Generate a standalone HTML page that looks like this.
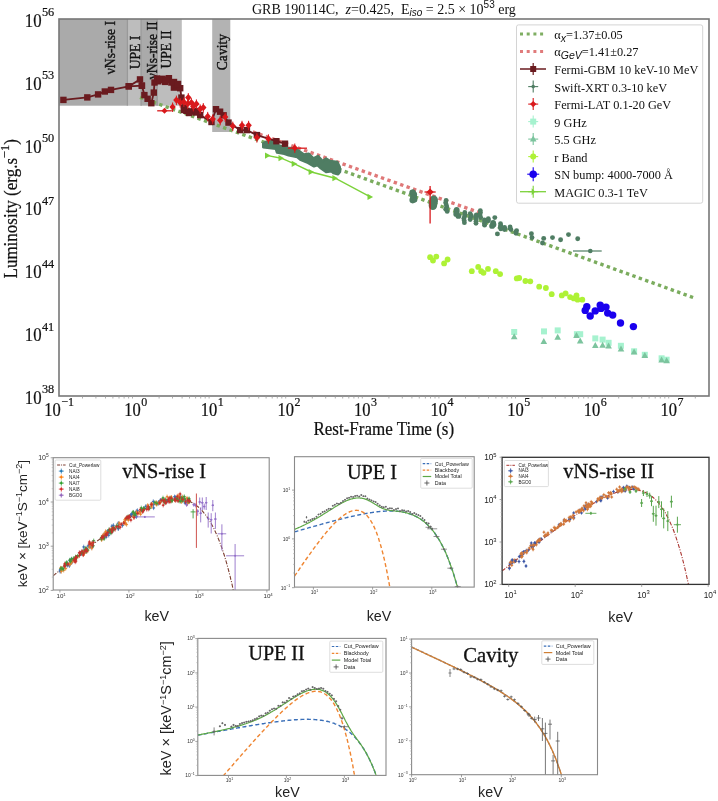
<!DOCTYPE html>
<html><head><meta charset="utf-8"><style>
html,body{margin:0;padding:0;background:#fff;}
svg{display:block;filter:blur(0.35px);}

</style></head><body>
<svg width="718" height="801" viewBox="0 0 718 801">
<defs><clipPath id="clip0"><rect x="53.2" y="457.7" width="216" height="132.3"/></clipPath><clipPath id="clip1"><rect x="294.5" y="456.7" width="179.7" height="130.4"/></clipPath><clipPath id="clip2"><rect x="502.1" y="457.3" width="206.9" height="127.1"/></clipPath><clipPath id="clip3"><rect x="197.8" y="638.4" width="188.2" height="137"/></clipPath><clipPath id="clip4"><rect x="411.6" y="639" width="185.9" height="135.7"/></clipPath></defs>
<rect width="718" height="801" fill="#fff"/>
<rect x="59" y="19" width="68.4" height="86.7" fill="#aaaaaa"/>
<rect x="127.4" y="19" width="13.7" height="86.7" fill="#bdbdbd"/>
<rect x="141.1" y="19" width="16.1" height="86.7" fill="#aaaaaa"/>
<rect x="157.2" y="19" width="24.6" height="86.7" fill="#bdbdbd"/>
<rect x="212.2" y="19" width="18.1" height="113" fill="#b3b3b3"/>
<line x1="127.4" y1="19" x2="127.4" y2="105.7" stroke="#999" stroke-width="1.3"/>
<line x1="141.1" y1="19" x2="141.1" y2="105.7" stroke="#999" stroke-width="1.3"/>
<line x1="157.2" y1="19" x2="157.2" y2="105.7" stroke="#999" stroke-width="1.3"/>
<text transform="translate(114.8 74.3) rotate(-90) scale(1 1.08)" font-family="Liberation Serif" font-size="13.6" fill="#111" stroke="#111" stroke-width="0.35">νNs-rise I</text>
<text transform="translate(139.5 69.3) rotate(-90) scale(1 1.08)" font-family="Liberation Serif" font-size="13.6" fill="#111" stroke="#111" stroke-width="0.35">UPE I</text>
<text transform="translate(157.4 79.3) rotate(-90) scale(1 1.08)" font-family="Liberation Serif" font-size="13.6" fill="#111" stroke="#111" stroke-width="0.35">νNs-rise II</text>
<text transform="translate(171.2 68.5) rotate(-90) scale(1 1.08)" font-family="Liberation Serif" font-size="13.6" fill="#111" stroke="#111" stroke-width="0.35">UPE II</text>
<text transform="translate(227.3 70.2) rotate(-90) scale(1 1.08)" font-family="Liberation Serif" font-size="13.6" fill="#111" stroke="#111" stroke-width="0.35">Cavity</text>
<line x1="140" y1="97.3" x2="695" y2="298.2" stroke="#7bac5e" stroke-width="3.4" stroke-dasharray="3.4 3.4"/>
<line x1="240" y1="127.3" x2="480" y2="212.8" stroke="#df7878" stroke-width="3.4" stroke-dasharray="3.4 3.4"/>
<polyline points="267.8,155.6 281.3,158.2 294.5,163.8 311.4,172 335.2,178.2 370.3,196.9" fill="none" stroke="#7cd23a" stroke-width="1.4"/>
<path d="M270.6 155.6 l-5.6 -3.1 v6.2z" fill="#7cd23a"/>
<path d="M284.1 158.2 l-5.6 -3.1 v6.2z" fill="#7cd23a"/>
<path d="M297.3 163.8 l-5.6 -3.1 v6.2z" fill="#7cd23a"/>
<path d="M314.2 172 l-5.6 -3.1 v6.2z" fill="#7cd23a"/>
<path d="M338 178.2 l-5.6 -3.1 v6.2z" fill="#7cd23a"/>
<path d="M373.1 196.9 l-5.6 -3.1 v6.2z" fill="#7cd23a"/>
<polygon points="263.2,143.4 266,141.8 272.1,141.2 278.2,145.2 286.2,147.6 292.3,148.3 298,150.3 304,154.4 308.7,153.7 313.4,158.4 318.1,156 322.7,161 326.1,158.4 330.1,161 337.4,162 339.8,167.1 340.1,171.7 338.1,174.4 333.4,173.1 331.4,171.4 326.1,172.1 320.1,167.7 317.4,165.1 314,166.4 308,163 300.7,160 297.2,157.1 288.6,155.3 284.3,153.8 277,152.5 275.8,148.9 263.2,147.3" fill="#4f7d63" stroke="#4f7d63" stroke-width="2.4" stroke-linejoin="round"/>
<circle cx="412.6" cy="192.8" r="3.3" fill="#4f7d63"/>
<circle cx="413.8" cy="194.6" r="3.3" fill="#4f7d63"/>
<circle cx="413.7" cy="196.4" r="3.3" fill="#4f7d63"/>
<circle cx="413.4" cy="198.3" r="3.3" fill="#4f7d63"/>
<circle cx="412.7" cy="200.1" r="3.3" fill="#4f7d63"/>
<circle cx="433.7" cy="199.8" r="4.2" fill="#4f7d63"/>
<circle cx="433.7" cy="201.8" r="4.2" fill="#4f7d63"/>
<circle cx="432.9" cy="203.8" r="4.2" fill="#4f7d63"/>
<circle cx="432.9" cy="205.8" r="4.2" fill="#4f7d63"/>
<circle cx="446.1" cy="200.5" r="2.4" fill="#4f7d63"/>
<circle cx="445.6" cy="202.7" r="2.4" fill="#4f7d63"/>
<circle cx="446.3" cy="204.9" r="2.4" fill="#4f7d63"/>
<circle cx="446.8" cy="207" r="2.4" fill="#4f7d63"/>
<circle cx="445.7" cy="209.2" r="2.4" fill="#4f7d63"/>
<circle cx="447.2" cy="211.4" r="2.4" fill="#4f7d63"/>
<circle cx="456.7" cy="209.8" r="2.9" fill="#4f7d63"/>
<circle cx="456.7" cy="211.8" r="2.9" fill="#4f7d63"/>
<circle cx="456.2" cy="213.9" r="2.9" fill="#4f7d63"/>
<circle cx="458.4" cy="215.9" r="2.9" fill="#4f7d63"/>
<circle cx="464.8" cy="212.4" r="2.4" fill="#4f7d63"/>
<circle cx="465" cy="214.5" r="2.4" fill="#4f7d63"/>
<circle cx="464.6" cy="216.5" r="2.4" fill="#4f7d63"/>
<circle cx="463.8" cy="218.6" r="2.4" fill="#4f7d63"/>
<circle cx="464.2" cy="220.6" r="2.4" fill="#4f7d63"/>
<circle cx="464.4" cy="222.7" r="2.4" fill="#4f7d63"/>
<circle cx="470.2" cy="213.7" r="2.4" fill="#4f7d63"/>
<circle cx="471.3" cy="215.7" r="2.4" fill="#4f7d63"/>
<circle cx="470.5" cy="217.6" r="2.4" fill="#4f7d63"/>
<circle cx="470.2" cy="219.6" r="2.4" fill="#4f7d63"/>
<circle cx="476.3" cy="214.9" r="2.4" fill="#4f7d63"/>
<circle cx="475.7" cy="217" r="2.4" fill="#4f7d63"/>
<circle cx="476.3" cy="219.1" r="2.4" fill="#4f7d63"/>
<circle cx="476" cy="221.2" r="2.4" fill="#4f7d63"/>
<circle cx="476" cy="223.3" r="2.4" fill="#4f7d63"/>
<circle cx="480.3" cy="210.6" r="2.4" fill="#4f7d63"/>
<circle cx="480.4" cy="212.3" r="2.4" fill="#4f7d63"/>
<circle cx="480.1" cy="214.1" r="2.4" fill="#4f7d63"/>
<circle cx="480" cy="215.8" r="2.4" fill="#4f7d63"/>
<circle cx="480.7" cy="217.6" r="2.4" fill="#4f7d63"/>
<circle cx="484.4" cy="220" r="2.4" fill="#4f7d63"/>
<circle cx="484.6" cy="221.7" r="2.4" fill="#4f7d63"/>
<circle cx="484.4" cy="223.5" r="2.4" fill="#4f7d63"/>
<circle cx="484.6" cy="225.2" r="2.4" fill="#4f7d63"/>
<circle cx="488.3" cy="218.7" r="2.4" fill="#4f7d63"/>
<circle cx="488.3" cy="219.8" r="2.4" fill="#4f7d63"/>
<circle cx="488.3" cy="220.8" r="2.4" fill="#4f7d63"/>
<circle cx="493.1" cy="222.9" r="2.9" fill="#4f7d63"/>
<circle cx="493.5" cy="224.4" r="2.9" fill="#4f7d63"/>
<circle cx="492.1" cy="225.9" r="2.9" fill="#4f7d63"/>
<circle cx="500.5" cy="223.7" r="2.4" fill="#4f7d63"/>
<circle cx="500.8" cy="225.4" r="2.4" fill="#4f7d63"/>
<circle cx="500.3" cy="227.2" r="2.4" fill="#4f7d63"/>
<circle cx="500.8" cy="228.9" r="2.4" fill="#4f7d63"/>
<circle cx="504.6" cy="227.5" r="2.4" fill="#4f7d63"/>
<circle cx="504.5" cy="228.6" r="2.4" fill="#4f7d63"/>
<circle cx="504.5" cy="229.6" r="2.4" fill="#4f7d63"/>
<circle cx="510.1" cy="226.9" r="2.4" fill="#4f7d63"/>
<circle cx="510" cy="228.2" r="2.4" fill="#4f7d63"/>
<circle cx="510.9" cy="229.6" r="2.4" fill="#4f7d63"/>
<circle cx="516.6" cy="230.6" r="2.4" fill="#4f7d63"/>
<circle cx="515.9" cy="231.9" r="2.4" fill="#4f7d63"/>
<circle cx="516" cy="233.3" r="2.4" fill="#4f7d63"/>
<circle cx="494.8" cy="217.6" r="2.45" fill="#4f7d63"/>
<circle cx="497.4" cy="233.9" r="2.45" fill="#4f7d63"/>
<circle cx="531.4" cy="233.8" r="2.45" fill="#4f7d63"/>
<circle cx="532" cy="237.6" r="2.45" fill="#4f7d63"/>
<circle cx="543.7" cy="238.4" r="2.45" fill="#4f7d63"/>
<circle cx="542.5" cy="243" r="2.45" fill="#4f7d63"/>
<circle cx="552.5" cy="237.6" r="2.45" fill="#4f7d63"/>
<circle cx="560.6" cy="239.8" r="2.45" fill="#4f7d63"/>
<circle cx="568.5" cy="234.6" r="2.45" fill="#4f7d63"/>
<circle cx="577.7" cy="238.8" r="2.45" fill="#4f7d63"/>
<circle cx="413" cy="192" r="2.45" fill="#4f7d63"/>
<circle cx="415" cy="200" r="2.45" fill="#4f7d63"/>
<line x1="573" y1="251" x2="601.7" y2="251" stroke="#4f7d63" stroke-width="1.2"/>
<circle cx="590.3" cy="251" r="2.3" fill="#4f7d63"/>
<polyline points="63.4,99.9 87.3,97.4 98.1,94.4 104.8,91.5 111,89.9 128.8,86.3 140,79.4 141.9,85.7 128.8,86.3 141.9,85.7 144.4,95.1 147.6,98.8 151.3,103.2 153.8,92.6 154.5,82.5 158.2,81.3 162.6,78.8 165.1,81.9 168.9,78.2 171.4,82.5 173.9,87.6 176.4,85.1 180.2,88.2 181.4,97.6 183.9,107.6 186.4,110.8 190.2,111.4 193.9,111.4 200.2,115.1 211.5,122 216,109.2 220.1,111.7 223.6,115.3 228.5,122.6 240.2,130.1 246.9,130.1 256.9,135.1 276.4,141.2 285,143.7" fill="none" stroke="#6a1b1f" stroke-width="1.8"/>
<rect x="60.2" y="96.7" width="6.4" height="6.4" fill="#6a1b1f"/>
<rect x="84.1" y="94.2" width="6.4" height="6.4" fill="#6a1b1f"/>
<rect x="94.9" y="91.2" width="6.4" height="6.4" fill="#6a1b1f"/>
<rect x="101.6" y="88.3" width="6.4" height="6.4" fill="#6a1b1f"/>
<rect x="107.8" y="86.7" width="6.4" height="6.4" fill="#6a1b1f"/>
<rect x="125.6" y="83.1" width="6.4" height="6.4" fill="#6a1b1f"/>
<rect x="136.8" y="76.2" width="6.4" height="6.4" fill="#6a1b1f"/>
<rect x="138.7" y="82.5" width="6.4" height="6.4" fill="#6a1b1f"/>
<rect x="125.6" y="83.1" width="6.4" height="6.4" fill="#6a1b1f"/>
<rect x="138.7" y="82.5" width="6.4" height="6.4" fill="#6a1b1f"/>
<rect x="141.2" y="91.9" width="6.4" height="6.4" fill="#6a1b1f"/>
<rect x="144.4" y="95.6" width="6.4" height="6.4" fill="#6a1b1f"/>
<rect x="148.1" y="100" width="6.4" height="6.4" fill="#6a1b1f"/>
<rect x="150.6" y="89.4" width="6.4" height="6.4" fill="#6a1b1f"/>
<rect x="151.3" y="79.3" width="6.4" height="6.4" fill="#6a1b1f"/>
<rect x="155" y="78.1" width="6.4" height="6.4" fill="#6a1b1f"/>
<rect x="159.4" y="75.6" width="6.4" height="6.4" fill="#6a1b1f"/>
<rect x="161.9" y="78.7" width="6.4" height="6.4" fill="#6a1b1f"/>
<rect x="165.7" y="75" width="6.4" height="6.4" fill="#6a1b1f"/>
<rect x="168.2" y="79.3" width="6.4" height="6.4" fill="#6a1b1f"/>
<rect x="170.7" y="84.4" width="6.4" height="6.4" fill="#6a1b1f"/>
<rect x="173.2" y="81.9" width="6.4" height="6.4" fill="#6a1b1f"/>
<rect x="177" y="85" width="6.4" height="6.4" fill="#6a1b1f"/>
<rect x="178.2" y="94.4" width="6.4" height="6.4" fill="#6a1b1f"/>
<rect x="180.7" y="104.4" width="6.4" height="6.4" fill="#6a1b1f"/>
<rect x="183.2" y="107.6" width="6.4" height="6.4" fill="#6a1b1f"/>
<rect x="187" y="108.2" width="6.4" height="6.4" fill="#6a1b1f"/>
<rect x="190.7" y="108.2" width="6.4" height="6.4" fill="#6a1b1f"/>
<rect x="197" y="111.9" width="6.4" height="6.4" fill="#6a1b1f"/>
<rect x="208.3" y="118.8" width="6.4" height="6.4" fill="#6a1b1f"/>
<rect x="212.8" y="106" width="6.4" height="6.4" fill="#6a1b1f"/>
<rect x="216.9" y="108.5" width="6.4" height="6.4" fill="#6a1b1f"/>
<rect x="220.4" y="112.1" width="6.4" height="6.4" fill="#6a1b1f"/>
<rect x="225.3" y="119.4" width="6.4" height="6.4" fill="#6a1b1f"/>
<rect x="237" y="126.9" width="6.4" height="6.4" fill="#6a1b1f"/>
<rect x="243.7" y="126.9" width="6.4" height="6.4" fill="#6a1b1f"/>
<rect x="253.7" y="131.9" width="6.4" height="6.4" fill="#6a1b1f"/>
<rect x="273.2" y="138" width="6.4" height="6.4" fill="#6a1b1f"/>
<rect x="281.8" y="140.5" width="6.4" height="6.4" fill="#6a1b1f"/>
<rect x="153.8" y="75.3" width="6.4" height="6.4" fill="#6a1b1f"/>
<rect x="156.8" y="76.8" width="6.4" height="6.4" fill="#6a1b1f"/>
<rect x="162.8" y="76.8" width="6.4" height="6.4" fill="#6a1b1f"/>
<rect x="170.8" y="78.8" width="6.4" height="6.4" fill="#6a1b1f"/>
<rect x="174.8" y="80.8" width="6.4" height="6.4" fill="#6a1b1f"/>
<rect x="180.8" y="106.8" width="6.4" height="6.4" fill="#6a1b1f"/>
<rect x="185.8" y="109.8" width="6.4" height="6.4" fill="#6a1b1f"/>
<rect x="192.8" y="109.3" width="6.4" height="6.4" fill="#6a1b1f"/>
<rect x="194.8" y="107.8" width="6.4" height="6.4" fill="#6a1b1f"/>
<line x1="157.2" y1="110.8" x2="171.8" y2="110.8" stroke="#d9191c" stroke-width="1.3"/><path d="M161.5 110.8l3 -3l3 3l-3 3z" fill="#d9191c"/>
<line x1="288" y1="148.2" x2="307" y2="148.2" stroke="#d9191c" stroke-width="1.3"/>
<line x1="172.6" y1="102.5" x2="172.6" y2="112" stroke="#d9191c" stroke-width="1"/>
<path d="M169.4 107l3.2 -3.6l3.2 3.6l-3.2 3.6z" fill="#d9191c"/>
<line x1="176.4" y1="95.6" x2="176.4" y2="105.1" stroke="#d9191c" stroke-width="1"/>
<path d="M173.2 100.1l3.2 -3.6l3.2 3.6l-3.2 3.6z" fill="#d9191c"/>
<line x1="180.2" y1="98.1" x2="180.2" y2="107.6" stroke="#d9191c" stroke-width="1"/>
<path d="M177 102.6l3.2 -3.6l3.2 3.6l-3.2 3.6z" fill="#d9191c"/>
<line x1="183.9" y1="97.5" x2="183.9" y2="107" stroke="#d9191c" stroke-width="1"/>
<path d="M180.7 102l3.2 -3.6l3.2 3.6l-3.2 3.6z" fill="#d9191c"/>
<line x1="188.3" y1="93.1" x2="188.3" y2="102.6" stroke="#d9191c" stroke-width="1"/>
<path d="M185.1 97.6l3.2 -3.6l3.2 3.6l-3.2 3.6z" fill="#d9191c"/>
<line x1="187.7" y1="99.4" x2="187.7" y2="108.9" stroke="#d9191c" stroke-width="1"/>
<path d="M184.5 103.9l3.2 -3.6l3.2 3.6l-3.2 3.6z" fill="#d9191c"/>
<line x1="191.4" y1="98.1" x2="191.4" y2="107.6" stroke="#d9191c" stroke-width="1"/>
<path d="M188.2 102.6l3.2 -3.6l3.2 3.6l-3.2 3.6z" fill="#d9191c"/>
<line x1="193.3" y1="101.9" x2="193.3" y2="111.4" stroke="#d9191c" stroke-width="1"/>
<path d="M190.1 106.4l3.2 -3.6l3.2 3.6l-3.2 3.6z" fill="#d9191c"/>
<line x1="196.4" y1="99.4" x2="196.4" y2="108.9" stroke="#d9191c" stroke-width="1"/>
<path d="M193.2 103.9l3.2 -3.6l3.2 3.6l-3.2 3.6z" fill="#d9191c"/>
<line x1="200.2" y1="104.4" x2="200.2" y2="113.9" stroke="#d9191c" stroke-width="1"/>
<path d="M197 108.9l3.2 -3.6l3.2 3.6l-3.2 3.6z" fill="#d9191c"/>
<line x1="203.3" y1="103.1" x2="203.3" y2="112.6" stroke="#d9191c" stroke-width="1"/>
<path d="M200.1 107.6l3.2 -3.6l3.2 3.6l-3.2 3.6z" fill="#d9191c"/>
<line x1="207.7" y1="111.9" x2="207.7" y2="121.4" stroke="#d9191c" stroke-width="1"/>
<path d="M204.5 116.4l3.2 -3.6l3.2 3.6l-3.2 3.6z" fill="#d9191c"/>
<line x1="212.7" y1="114.4" x2="212.7" y2="123.9" stroke="#d9191c" stroke-width="1"/>
<path d="M209.5 118.9l3.2 -3.6l3.2 3.6l-3.2 3.6z" fill="#d9191c"/>
<line x1="220.2" y1="115.8" x2="220.2" y2="125.3" stroke="#d9191c" stroke-width="1"/>
<path d="M217 120.3l3.2 -3.6l3.2 3.6l-3.2 3.6z" fill="#d9191c"/>
<line x1="225.2" y1="112.5" x2="225.2" y2="122" stroke="#d9191c" stroke-width="1"/>
<path d="M222 117l3.2 -3.6l3.2 3.6l-3.2 3.6z" fill="#d9191c"/>
<line x1="232.8" y1="121.6" x2="232.8" y2="131.1" stroke="#d9191c" stroke-width="1"/>
<path d="M229.6 126.1l3.2 -3.6l3.2 3.6l-3.2 3.6z" fill="#d9191c"/>
<line x1="242" y1="120.8" x2="242" y2="130.3" stroke="#d9191c" stroke-width="1"/>
<path d="M238.8 125.3l3.2 -3.6l3.2 3.6l-3.2 3.6z" fill="#d9191c"/>
<line x1="248.6" y1="120.8" x2="248.6" y2="130.3" stroke="#d9191c" stroke-width="1"/>
<path d="M245.4 125.3l3.2 -3.6l3.2 3.6l-3.2 3.6z" fill="#d9191c"/>
<line x1="256.9" y1="133.1" x2="256.9" y2="142.6" stroke="#d9191c" stroke-width="1"/>
<path d="M253.7 137.6l3.2 -3.6l3.2 3.6l-3.2 3.6z" fill="#d9191c"/>
<line x1="268.4" y1="134.3" x2="268.4" y2="143.8" stroke="#d9191c" stroke-width="1"/>
<path d="M265.2 138.8l3.2 -3.6l3.2 3.6l-3.2 3.6z" fill="#d9191c"/>
<line x1="294.8" y1="143.5" x2="294.8" y2="153" stroke="#d9191c" stroke-width="1"/>
<path d="M291.6 148l3.2 -3.6l3.2 3.6l-3.2 3.6z" fill="#d9191c"/>
<line x1="430.1" y1="186.1" x2="430.1" y2="223.5" stroke="#d9191c" stroke-width="1.3"/>
<line x1="424.5" y1="192" x2="435.7" y2="192" stroke="#d9191c" stroke-width="1.3"/>
<path d="M426.5 192l3.6 -3.6l3.6 3.6l-3.6 3.6z" fill="#d9191c"/>
<circle cx="430.1" cy="257.2" r="2.9" fill="#aef236"/>
<circle cx="436.3" cy="256.6" r="2.9" fill="#aef236"/>
<circle cx="433" cy="260.5" r="2.9" fill="#aef236"/>
<circle cx="444.1" cy="263.4" r="2.9" fill="#aef236"/>
<circle cx="447.6" cy="259.5" r="2.9" fill="#aef236"/>
<circle cx="471.8" cy="271.2" r="2.9" fill="#aef236"/>
<circle cx="478.2" cy="266.9" r="2.9" fill="#aef236"/>
<circle cx="481.2" cy="271.2" r="2.9" fill="#aef236"/>
<circle cx="483.5" cy="272.8" r="2.9" fill="#aef236"/>
<circle cx="488" cy="268.9" r="2.9" fill="#aef236"/>
<circle cx="495.8" cy="271.2" r="2.9" fill="#aef236"/>
<circle cx="500.1" cy="274.1" r="2.9" fill="#aef236"/>
<circle cx="516.8" cy="278.4" r="2.9" fill="#aef236"/>
<circle cx="519.2" cy="278" r="2.9" fill="#aef236"/>
<circle cx="525.4" cy="281" r="2.9" fill="#aef236"/>
<circle cx="530.3" cy="281.3" r="2.9" fill="#aef236"/>
<circle cx="539.2" cy="286.7" r="2.9" fill="#aef236"/>
<circle cx="545.9" cy="288" r="2.9" fill="#aef236"/>
<circle cx="551.7" cy="294.2" r="2.9" fill="#aef236"/>
<circle cx="561.8" cy="295.4" r="2.9" fill="#aef236"/>
<circle cx="565.6" cy="293.4" r="2.9" fill="#aef236"/>
<circle cx="570.1" cy="297.1" r="2.9" fill="#aef236"/>
<circle cx="573.8" cy="298.4" r="2.9" fill="#aef236"/>
<circle cx="576.5" cy="295.4" r="2.9" fill="#aef236"/>
<circle cx="577.6" cy="299.7" r="2.9" fill="#aef236"/>
<circle cx="582.3" cy="299.7" r="2.9" fill="#aef236"/>
<circle cx="586.8" cy="306.8" r="3.7" fill="#1a00ee"/>
<circle cx="585.2" cy="310.4" r="3.7" fill="#1a00ee"/>
<circle cx="590.2" cy="316" r="3.7" fill="#1a00ee"/>
<circle cx="595.2" cy="310.9" r="3.7" fill="#1a00ee"/>
<circle cx="600.2" cy="305.1" r="3.7" fill="#1a00ee"/>
<circle cx="601" cy="308.4" r="3.7" fill="#1a00ee"/>
<circle cx="606" cy="307.1" r="3.7" fill="#1a00ee"/>
<circle cx="607.7" cy="313.1" r="3.7" fill="#1a00ee"/>
<circle cx="612.7" cy="315.1" r="3.7" fill="#1a00ee"/>
<circle cx="620.5" cy="323" r="3.7" fill="#1a00ee"/>
<circle cx="633.4" cy="326.6" r="3.7" fill="#1a00ee"/>
<rect x="511.2" y="329" width="6" height="6" fill="#a6f2cf"/>
<rect x="541" y="328.4" width="6" height="6" fill="#a6f2cf"/>
<rect x="554.7" y="327.4" width="6" height="6" fill="#a6f2cf"/>
<rect x="573.9" y="331.2" width="6" height="6" fill="#a6f2cf"/>
<rect x="577.2" y="331.2" width="6" height="6" fill="#a6f2cf"/>
<rect x="592.3" y="335.4" width="6" height="6" fill="#a6f2cf"/>
<rect x="599.6" y="336.6" width="6" height="6" fill="#a6f2cf"/>
<rect x="605.6" y="339.8" width="6" height="6" fill="#a6f2cf"/>
<rect x="617.9" y="342.8" width="6" height="6" fill="#a6f2cf"/>
<rect x="631.1" y="348.3" width="6" height="6" fill="#a6f2cf"/>
<rect x="641.8" y="351.8" width="6" height="6" fill="#a6f2cf"/>
<rect x="658.6" y="355.3" width="6" height="6" fill="#a6f2cf"/>
<rect x="663.6" y="356.7" width="6" height="6" fill="#a6f2cf"/>
<path d="M514.2 333.2 l3.3 6h-6.6z" fill="#7cc49e"/>
<path d="M543.8 337.9 l3.3 6h-6.6z" fill="#7cc49e"/>
<path d="M557.7 333.7 l3.3 6h-6.6z" fill="#7cc49e"/>
<path d="M576.5 331.9 l3.3 6h-6.6z" fill="#7cc49e"/>
<path d="M580.2 337.4 l3.3 6h-6.6z" fill="#7cc49e"/>
<path d="M595.3 341.9 l3.3 6h-6.6z" fill="#7cc49e"/>
<path d="M602.6 341.7 l3.3 6h-6.6z" fill="#7cc49e"/>
<path d="M608.6 342.5 l3.3 6h-6.6z" fill="#7cc49e"/>
<path d="M621 345.5 l3.3 6h-6.6z" fill="#7cc49e"/>
<path d="M634.1 348.5 l3.3 6h-6.6z" fill="#7cc49e"/>
<path d="M644.8 352 l3.3 6h-6.6z" fill="#7cc49e"/>
<path d="M661.6 356.6 l3.3 6h-6.6z" fill="#7cc49e"/>
<path d="M666.6 357.2 l3.3 6h-6.6z" fill="#7cc49e"/>
<rect x="59" y="19" width="650" height="377" fill="none" stroke="#777" stroke-width="1.6"/>
<line x1="82.5" y1="396" x2="82.5" y2="398.5" stroke="#999" stroke-width="0.8"/>
<line x1="95.9" y1="396" x2="95.9" y2="398.5" stroke="#999" stroke-width="0.8"/>
<line x1="105.5" y1="396" x2="105.5" y2="398.5" stroke="#999" stroke-width="0.8"/>
<line x1="112.9" y1="396" x2="112.9" y2="398.5" stroke="#999" stroke-width="0.8"/>
<line x1="119" y1="396" x2="119" y2="398.5" stroke="#999" stroke-width="0.8"/>
<line x1="124.1" y1="396" x2="124.1" y2="398.5" stroke="#999" stroke-width="0.8"/>
<line x1="128.6" y1="396" x2="128.6" y2="398.5" stroke="#999" stroke-width="0.8"/>
<line x1="132.5" y1="396" x2="132.5" y2="398.5" stroke="#999" stroke-width="0.8"/>
<line x1="159.1" y1="396" x2="159.1" y2="398.5" stroke="#999" stroke-width="0.8"/>
<line x1="172.5" y1="396" x2="172.5" y2="398.5" stroke="#999" stroke-width="0.8"/>
<line x1="182.1" y1="396" x2="182.1" y2="398.5" stroke="#999" stroke-width="0.8"/>
<line x1="189.5" y1="396" x2="189.5" y2="398.5" stroke="#999" stroke-width="0.8"/>
<line x1="195.6" y1="396" x2="195.6" y2="398.5" stroke="#999" stroke-width="0.8"/>
<line x1="200.7" y1="396" x2="200.7" y2="398.5" stroke="#999" stroke-width="0.8"/>
<line x1="205.2" y1="396" x2="205.2" y2="398.5" stroke="#999" stroke-width="0.8"/>
<line x1="209.1" y1="396" x2="209.1" y2="398.5" stroke="#999" stroke-width="0.8"/>
<line x1="235.7" y1="396" x2="235.7" y2="398.5" stroke="#999" stroke-width="0.8"/>
<line x1="249.1" y1="396" x2="249.1" y2="398.5" stroke="#999" stroke-width="0.8"/>
<line x1="258.7" y1="396" x2="258.7" y2="398.5" stroke="#999" stroke-width="0.8"/>
<line x1="266.1" y1="396" x2="266.1" y2="398.5" stroke="#999" stroke-width="0.8"/>
<line x1="272.2" y1="396" x2="272.2" y2="398.5" stroke="#999" stroke-width="0.8"/>
<line x1="277.3" y1="396" x2="277.3" y2="398.5" stroke="#999" stroke-width="0.8"/>
<line x1="281.8" y1="396" x2="281.8" y2="398.5" stroke="#999" stroke-width="0.8"/>
<line x1="285.7" y1="396" x2="285.7" y2="398.5" stroke="#999" stroke-width="0.8"/>
<line x1="312.3" y1="396" x2="312.3" y2="398.5" stroke="#999" stroke-width="0.8"/>
<line x1="325.7" y1="396" x2="325.7" y2="398.5" stroke="#999" stroke-width="0.8"/>
<line x1="335.3" y1="396" x2="335.3" y2="398.5" stroke="#999" stroke-width="0.8"/>
<line x1="342.7" y1="396" x2="342.7" y2="398.5" stroke="#999" stroke-width="0.8"/>
<line x1="348.8" y1="396" x2="348.8" y2="398.5" stroke="#999" stroke-width="0.8"/>
<line x1="353.9" y1="396" x2="353.9" y2="398.5" stroke="#999" stroke-width="0.8"/>
<line x1="358.4" y1="396" x2="358.4" y2="398.5" stroke="#999" stroke-width="0.8"/>
<line x1="362.3" y1="396" x2="362.3" y2="398.5" stroke="#999" stroke-width="0.8"/>
<line x1="388.9" y1="396" x2="388.9" y2="398.5" stroke="#999" stroke-width="0.8"/>
<line x1="402.3" y1="396" x2="402.3" y2="398.5" stroke="#999" stroke-width="0.8"/>
<line x1="411.9" y1="396" x2="411.9" y2="398.5" stroke="#999" stroke-width="0.8"/>
<line x1="419.3" y1="396" x2="419.3" y2="398.5" stroke="#999" stroke-width="0.8"/>
<line x1="425.4" y1="396" x2="425.4" y2="398.5" stroke="#999" stroke-width="0.8"/>
<line x1="430.5" y1="396" x2="430.5" y2="398.5" stroke="#999" stroke-width="0.8"/>
<line x1="435" y1="396" x2="435" y2="398.5" stroke="#999" stroke-width="0.8"/>
<line x1="438.9" y1="396" x2="438.9" y2="398.5" stroke="#999" stroke-width="0.8"/>
<line x1="465.5" y1="396" x2="465.5" y2="398.5" stroke="#999" stroke-width="0.8"/>
<line x1="478.9" y1="396" x2="478.9" y2="398.5" stroke="#999" stroke-width="0.8"/>
<line x1="488.5" y1="396" x2="488.5" y2="398.5" stroke="#999" stroke-width="0.8"/>
<line x1="495.9" y1="396" x2="495.9" y2="398.5" stroke="#999" stroke-width="0.8"/>
<line x1="502" y1="396" x2="502" y2="398.5" stroke="#999" stroke-width="0.8"/>
<line x1="507.1" y1="396" x2="507.1" y2="398.5" stroke="#999" stroke-width="0.8"/>
<line x1="511.6" y1="396" x2="511.6" y2="398.5" stroke="#999" stroke-width="0.8"/>
<line x1="515.5" y1="396" x2="515.5" y2="398.5" stroke="#999" stroke-width="0.8"/>
<line x1="542.1" y1="396" x2="542.1" y2="398.5" stroke="#999" stroke-width="0.8"/>
<line x1="555.5" y1="396" x2="555.5" y2="398.5" stroke="#999" stroke-width="0.8"/>
<line x1="565.1" y1="396" x2="565.1" y2="398.5" stroke="#999" stroke-width="0.8"/>
<line x1="572.5" y1="396" x2="572.5" y2="398.5" stroke="#999" stroke-width="0.8"/>
<line x1="578.6" y1="396" x2="578.6" y2="398.5" stroke="#999" stroke-width="0.8"/>
<line x1="583.7" y1="396" x2="583.7" y2="398.5" stroke="#999" stroke-width="0.8"/>
<line x1="588.2" y1="396" x2="588.2" y2="398.5" stroke="#999" stroke-width="0.8"/>
<line x1="592.1" y1="396" x2="592.1" y2="398.5" stroke="#999" stroke-width="0.8"/>
<line x1="618.7" y1="396" x2="618.7" y2="398.5" stroke="#999" stroke-width="0.8"/>
<line x1="632.1" y1="396" x2="632.1" y2="398.5" stroke="#999" stroke-width="0.8"/>
<line x1="641.7" y1="396" x2="641.7" y2="398.5" stroke="#999" stroke-width="0.8"/>
<line x1="649.1" y1="396" x2="649.1" y2="398.5" stroke="#999" stroke-width="0.8"/>
<line x1="655.2" y1="396" x2="655.2" y2="398.5" stroke="#999" stroke-width="0.8"/>
<line x1="660.3" y1="396" x2="660.3" y2="398.5" stroke="#999" stroke-width="0.8"/>
<line x1="664.8" y1="396" x2="664.8" y2="398.5" stroke="#999" stroke-width="0.8"/>
<line x1="668.7" y1="396" x2="668.7" y2="398.5" stroke="#999" stroke-width="0.8"/>
<line x1="695.3" y1="396" x2="695.3" y2="398.5" stroke="#999" stroke-width="0.8"/>
<text transform="translate(44.2 416.2) scale(1 1.08)" font-family="Liberation Serif" font-size="16.5" fill="#111" stroke="#111" stroke-width="0.2">10</text>
<text transform="translate(61.2 405.6) scale(1 1.08)" font-family="Liberation Serif" font-size="12" fill="#111" stroke="#111" stroke-width="0.2">−1</text>
<text transform="translate(124.2 416.2) scale(1 1.08)" font-family="Liberation Serif" font-size="16.5" fill="#111" stroke="#111" stroke-width="0.2">10</text>
<text transform="translate(141.2 405.6) scale(1 1.08)" font-family="Liberation Serif" font-size="12" fill="#111" stroke="#111" stroke-width="0.2">0</text>
<text transform="translate(200.8 416.2) scale(1 1.08)" font-family="Liberation Serif" font-size="16.5" fill="#111" stroke="#111" stroke-width="0.2">10</text>
<text transform="translate(217.8 405.6) scale(1 1.08)" font-family="Liberation Serif" font-size="12" fill="#111" stroke="#111" stroke-width="0.2">1</text>
<text transform="translate(277.4 416.2) scale(1 1.08)" font-family="Liberation Serif" font-size="16.5" fill="#111" stroke="#111" stroke-width="0.2">10</text>
<text transform="translate(294.4 405.6) scale(1 1.08)" font-family="Liberation Serif" font-size="12" fill="#111" stroke="#111" stroke-width="0.2">2</text>
<text transform="translate(354 416.2) scale(1 1.08)" font-family="Liberation Serif" font-size="16.5" fill="#111" stroke="#111" stroke-width="0.2">10</text>
<text transform="translate(371 405.6) scale(1 1.08)" font-family="Liberation Serif" font-size="12" fill="#111" stroke="#111" stroke-width="0.2">3</text>
<text transform="translate(430.6 416.2) scale(1 1.08)" font-family="Liberation Serif" font-size="16.5" fill="#111" stroke="#111" stroke-width="0.2">10</text>
<text transform="translate(447.6 405.6) scale(1 1.08)" font-family="Liberation Serif" font-size="12" fill="#111" stroke="#111" stroke-width="0.2">4</text>
<text transform="translate(507.2 416.2) scale(1 1.08)" font-family="Liberation Serif" font-size="16.5" fill="#111" stroke="#111" stroke-width="0.2">10</text>
<text transform="translate(524.2 405.6) scale(1 1.08)" font-family="Liberation Serif" font-size="12" fill="#111" stroke="#111" stroke-width="0.2">5</text>
<text transform="translate(583.8 416.2) scale(1 1.08)" font-family="Liberation Serif" font-size="16.5" fill="#111" stroke="#111" stroke-width="0.2">10</text>
<text transform="translate(600.8 405.6) scale(1 1.08)" font-family="Liberation Serif" font-size="12" fill="#111" stroke="#111" stroke-width="0.2">6</text>
<text transform="translate(660.4 416.2) scale(1 1.08)" font-family="Liberation Serif" font-size="16.5" fill="#111" stroke="#111" stroke-width="0.2">10</text>
<text transform="translate(677.4 405.6) scale(1 1.08)" font-family="Liberation Serif" font-size="12" fill="#111" stroke="#111" stroke-width="0.2">7</text>
<text transform="translate(41.6 26.8) scale(1 1.08)" font-family="Liberation Serif" font-size="16.8" fill="#111" text-anchor="end" stroke="#111" stroke-width="0.2">10</text>
<text transform="translate(41.9 16.3) scale(1 1.08)" font-family="Liberation Serif" font-size="12.3" fill="#111" stroke="#111" stroke-width="0.2">56</text>
<text transform="translate(41.6 89.7) scale(1 1.08)" font-family="Liberation Serif" font-size="16.8" fill="#111" text-anchor="end" stroke="#111" stroke-width="0.2">10</text>
<text transform="translate(41.9 79.2) scale(1 1.08)" font-family="Liberation Serif" font-size="12.3" fill="#111" stroke="#111" stroke-width="0.2">53</text>
<text transform="translate(41.6 152.5) scale(1 1.08)" font-family="Liberation Serif" font-size="16.8" fill="#111" text-anchor="end" stroke="#111" stroke-width="0.2">10</text>
<text transform="translate(41.9 142) scale(1 1.08)" font-family="Liberation Serif" font-size="12.3" fill="#111" stroke="#111" stroke-width="0.2">50</text>
<text transform="translate(41.6 215.4) scale(1 1.08)" font-family="Liberation Serif" font-size="16.8" fill="#111" text-anchor="end" stroke="#111" stroke-width="0.2">10</text>
<text transform="translate(41.9 204.9) scale(1 1.08)" font-family="Liberation Serif" font-size="12.3" fill="#111" stroke="#111" stroke-width="0.2">47</text>
<text transform="translate(41.6 278.2) scale(1 1.08)" font-family="Liberation Serif" font-size="16.8" fill="#111" text-anchor="end" stroke="#111" stroke-width="0.2">10</text>
<text transform="translate(41.9 267.7) scale(1 1.08)" font-family="Liberation Serif" font-size="12.3" fill="#111" stroke="#111" stroke-width="0.2">44</text>
<text transform="translate(41.6 341) scale(1 1.08)" font-family="Liberation Serif" font-size="16.8" fill="#111" text-anchor="end" stroke="#111" stroke-width="0.2">10</text>
<text transform="translate(41.9 330.5) scale(1 1.08)" font-family="Liberation Serif" font-size="12.3" fill="#111" stroke="#111" stroke-width="0.2">41</text>
<text transform="translate(41.6 403.9) scale(1 1.08)" font-family="Liberation Serif" font-size="16.8" fill="#111" text-anchor="end" stroke="#111" stroke-width="0.2">10</text>
<text transform="translate(41.9 393.4) scale(1 1.08)" font-family="Liberation Serif" font-size="12.3" fill="#111" stroke="#111" stroke-width="0.2">38</text>
<text transform="translate(313.4 434.5) scale(1 1.08)" font-family="Liberation Serif" font-size="17" fill="#111" stroke="#111" stroke-width="0.2">Rest-Frame Time (s)</text>
<text transform="translate(17.3 278.5) rotate(-90) scale(1 1.08)" font-family="Liberation Serif" font-size="17" fill="#111" stroke="#111" stroke-width="0.2">Luminosity (erg.s<tspan font-size="12.5" dy="-7.5">−1</tspan><tspan dy="7.5">)</tspan></text>
<text x="252" y="14" font-family="Liberation Serif" font-size="14" fill="#111">GRB 190114C,&#160; <tspan font-style="italic">z</tspan>=0.425,&#160; E<tspan font-family="Liberation Sans" font-style="italic" font-size="10" dy="2">iso</tspan><tspan dy="-2"> = 2.5 × 10</tspan><tspan font-family="Liberation Sans" font-size="10" dy="-6">53</tspan><tspan dy="6"> erg</tspan></text>
<rect x="516.5" y="24.9" width="186.2" height="178.3" rx="2" fill="#fff" fill-opacity="0.8" stroke="#d4d4d4" stroke-width="1"/>
<text x="554.3" y="38.9" font-family="Liberation Serif" font-size="12.3" fill="#111">α<tspan font-family="Liberation Sans" font-style="italic" font-size="10.5" dy="3">x</tspan><tspan dy="-3">=1.37±0.05</tspan></text>
<text x="554.3" y="56.4" font-family="Liberation Serif" font-size="12.3" fill="#111">α<tspan font-family="Liberation Sans" font-style="italic" font-size="10.5" dy="3">GeV</tspan><tspan dy="-3">=1.41±0.27</tspan></text>
<text x="554.3" y="73.9" font-family="Liberation Serif" font-size="12.3" fill="#111">Fermi-GBM 10 keV-10 MeV</text>
<text x="554.3" y="91.5" font-family="Liberation Serif" font-size="12.3" fill="#111">Swift-XRT 0.3-10 keV</text>
<text x="554.3" y="109" font-family="Liberation Serif" font-size="12.3" fill="#111">Fermi-LAT 0.1-20 GeV</text>
<text x="554.3" y="126.5" font-family="Liberation Serif" font-size="12.3" fill="#111">9 GHz</text>
<text x="554.3" y="144" font-family="Liberation Serif" font-size="12.3" fill="#111">5.5 GHz</text>
<text x="554.3" y="161.5" font-family="Liberation Serif" font-size="12.3" fill="#111">r Band</text>
<text x="554.3" y="179.1" font-family="Liberation Serif" font-size="12.3" fill="#111">SN bump: 4000-7000 Å</text>
<text x="554.3" y="196.6" font-family="Liberation Serif" font-size="12.3" fill="#111">MAGIC 0.3-1 TeV</text>
<line x1="520" y1="34" x2="546" y2="34" stroke="#7fae62" stroke-width="3" stroke-dasharray="3 3.7"/>
<line x1="520" y1="51.5" x2="546" y2="51.5" stroke="#e07b7b" stroke-width="3" stroke-dasharray="3 3.7"/>
<line x1="520" y1="69" x2="546" y2="69" stroke="#6a1b1f" stroke-width="1.5"/><line x1="533.2" y1="63" x2="533.2" y2="75" stroke="#6a1b1f" stroke-width="1.2"/><rect x="530.2" y="66" width="6" height="6" fill="#6a1b1f"/>
<line x1="528.2" y1="86.6" x2="538.2" y2="86.6" stroke="#4f7d63" stroke-width="1.1"/><line x1="533.2" y1="80.6" x2="533.2" y2="92.6" stroke="#4f7d63" stroke-width="1.1"/><circle cx="533.2" cy="86.6" r="1.8" fill="#4f7d63"/>
<line x1="528.2" y1="104.1" x2="538.2" y2="104.1" stroke="#d9191c" stroke-width="1.1"/><line x1="533.2" y1="98.1" x2="533.2" y2="110.1" stroke="#d9191c" stroke-width="1.1"/><path d="M530 104.1l3.2 -3.2l3.2 3.2l-3.2 3.2z" fill="#d9191c"/>
<line x1="528.2" y1="121.6" x2="538.2" y2="121.6" stroke="#a6f2cf" stroke-width="1.1"/><line x1="533.2" y1="115.6" x2="533.2" y2="127.6" stroke="#a6f2cf" stroke-width="1.1"/><rect x="530.2" y="118.6" width="6" height="6" fill="#a6f2cf"/>
<line x1="528.2" y1="139.1" x2="538.2" y2="139.1" stroke="#7cc49e" stroke-width="1.1"/><line x1="533.2" y1="133.1" x2="533.2" y2="145.1" stroke="#7cc49e" stroke-width="1.1"/><path d="M533.2 135.6 l3.3 6h-6.6z" fill="#7cc49e"/>
<line x1="528.2" y1="156.6" x2="538.2" y2="156.6" stroke="#aef236" stroke-width="1.1"/><line x1="533.2" y1="150.6" x2="533.2" y2="162.6" stroke="#aef236" stroke-width="1.1"/><circle cx="533.2" cy="156.6" r="3" fill="#aef236"/>
<line x1="527.2" y1="174.2" x2="539.2" y2="174.2" stroke="#1a00ee" stroke-width="1.1"/><line x1="533.2" y1="167.2" x2="533.2" y2="181.2" stroke="#1a00ee" stroke-width="1.1"/><circle cx="533.2" cy="174.2" r="3.8" fill="#1a00ee"/>
<line x1="520" y1="191.7" x2="546" y2="191.7" stroke="#7cd23a" stroke-width="1.3"/><line x1="528.2" y1="191.7" x2="538.2" y2="191.7" stroke="#7cd23a" stroke-width="1.1"/><line x1="533.2" y1="185.7" x2="533.2" y2="197.7" stroke="#7cd23a" stroke-width="1.1"/><path d="M535.2 191.7 l-3.5 -3.5 v7z" fill="#7cd23a"/>
<polyline clip-path="url(#clip0)" points="53.2,575.7 54,575.1 54.9,574.4 55.7,573.7 56.5,573.1 57.4,572.4 58.2,571.7 59,571 59.9,570.4 60.7,569.7 61.5,569 62.4,568.4 63.2,567.7 64,567 64.9,566.4 65.7,565.7 66.5,565 67.4,564.4 68.2,563.7 69,563 69.9,562.4 70.7,561.7 71.5,561 72.4,560.4 73.2,559.7 74,559.1 74.9,558.4 75.7,557.7 76.6,557.1 77.4,556.4 78.2,555.8 79.1,555.1 79.9,554.5 80.7,553.8 81.6,553.1 82.4,552.5 83.2,551.8 84.1,551.2 84.9,550.5 85.7,549.9 86.6,549.2 87.4,548.6 88.2,547.9 89.1,547.3 89.9,546.6 90.7,546 91.6,545.4 92.4,544.7 93.2,544.1 94.1,543.4 94.9,542.8 95.7,542.2 96.6,541.5 97.4,540.9 98.2,540.3 99.1,539.6 99.9,539 100.7,538.4 101.6,537.7 102.4,537.1 103.2,536.5 104.1,535.9 104.9,535.2 105.7,534.6 106.6,534 107.4,533.4 108.2,532.8 109.1,532.2 109.9,531.5 110.7,530.9 111.6,530.3 112.4,529.7 113.2,529.1 114.1,528.5 114.9,527.9 115.7,527.3 116.6,526.7 117.4,526.1 118.3,525.6 119.1,525 119.9,524.4 120.8,523.8 121.6,523.2 122.4,522.7 123.3,522.1 124.1,521.5 124.9,521 125.8,520.4 126.6,519.9 127.4,519.3 128.3,518.7 129.1,518.2 129.9,517.7 130.8,517.1 131.6,516.6 132.4,516.1 133.3,515.5 134.1,515 134.9,514.5 135.8,514 136.6,513.5 137.4,513 138.3,512.5 139.1,512 139.9,511.5 140.8,511 141.6,510.6 142.4,510.1 143.3,509.6 144.1,509.2 144.9,508.7 145.8,508.3 146.6,507.8 147.4,507.4 148.3,507 149.1,506.6 149.9,506.2 150.8,505.8 151.6,505.4 152.4,505 153.3,504.6 154.1,504.3 154.9,503.9 155.8,503.5 156.6,503.2 157.4,502.9 158.3,502.6 159.1,502.3 159.9,502 160.8,501.7 161.6,501.4 162.5,501.1 163.3,500.9 164.1,500.6 165,500.4 165.8,500.2 166.6,500 167.5,499.8 168.3,499.6 169.1,499.5 170,499.3 170.8,499.2 171.6,499.1 172.5,499 173.3,498.9 174.1,498.8 175,498.8 175.8,498.8 176.6,498.7 177.5,498.8 178.3,498.8 179.1,498.8 180,498.9 180.8,499 181.6,499.1 182.5,499.2 183.3,499.4 184.1,499.6 185,499.8 185.8,500 186.6,500.3 187.5,500.5 188.3,500.9 189.1,501.2 190,501.6 190.8,501.9 191.6,502.4 192.5,502.8 193.3,503.3 194.1,503.8 195,504.4 195.8,505 196.6,505.6 197.5,506.3 198.3,507 199.1,507.7 200,508.5 200.8,509.3 201.6,510.2 202.5,511.1 203.3,512.1 204.1,513.1 205,514.1 205.8,515.2 206.7,516.4 207.5,517.6 208.3,518.8 209.2,520.1 210,521.5 210.8,522.9 211.7,524.4 212.5,525.9 213.3,527.5 214.2,529.2 215,530.9 215.8,532.7 216.7,534.6 217.5,536.5 218.3,538.6 219.2,540.7 220,542.8 220.8,545.1 221.7,547.4 222.5,549.8 223.3,552.4 224.2,555 225,557.6 225.8,560.4 226.7,563.3 227.5,566.3 228.3,569.4 229.2,572.6 230,575.9 230.8,579.3 231.7,582.8 232.5,586.5 233.3,590.3 234.2,594.2 235,598.2 235.8,602.4 236.7,606.7 237.5,611.1 238.3,615.7 239.2,620.4 240,625.3 240.8,630" fill="none" stroke="#7a3b2e" stroke-width="1.1" stroke-dasharray="4 1.5 1 1.5"/>
<path d="M81 551.6v4.4M79.5 553.8h3" stroke="#3d6fb0" stroke-width="0.7"/>
<circle cx="81" cy="553.8" r="1.0" fill="#3d6fb0"/>
<path d="M91.8 545.2v4.4M90.3 547.4h3" stroke="#3d6fb0" stroke-width="0.7"/>
<circle cx="91.8" cy="547.4" r="1.0" fill="#3d6fb0"/>
<path d="M60.3 567.5v4.4M58.8 569.7h3" stroke="#3d6fb0" stroke-width="0.7"/>
<circle cx="60.3" cy="569.7" r="1.0" fill="#3d6fb0"/>
<path d="M80.8 551.5v4.4M79.3 553.7h3" stroke="#3d6fb0" stroke-width="0.7"/>
<circle cx="80.8" cy="553.7" r="1.0" fill="#3d6fb0"/>
<path d="M69.7 558.2v4.4M68.2 560.4h3" stroke="#3d6fb0" stroke-width="0.7"/>
<circle cx="69.7" cy="560.4" r="1.0" fill="#3d6fb0"/>
<path d="M90.1 544.8v4.4M88.6 547h3" stroke="#3d6fb0" stroke-width="0.7"/>
<circle cx="90.1" cy="547" r="1.0" fill="#3d6fb0"/>
<path d="M60 568.8v4.4M58.5 571h3" stroke="#3d6fb0" stroke-width="0.7"/>
<circle cx="60" cy="571" r="1.0" fill="#3d6fb0"/>
<path d="M83.7 544.7v4.4M82.2 546.9h3" stroke="#3d6fb0" stroke-width="0.7"/>
<circle cx="83.7" cy="546.9" r="1.0" fill="#3d6fb0"/>
<path d="M72.3 558.5v4.4M70.8 560.7h3" stroke="#3d6fb0" stroke-width="0.7"/>
<circle cx="72.3" cy="560.7" r="1.0" fill="#3d6fb0"/>
<path d="M91.3 541.8v4.4M89.8 544h3" stroke="#3d6fb0" stroke-width="0.7"/>
<circle cx="91.3" cy="544" r="1.0" fill="#3d6fb0"/>
<path d="M86.9 546.5v4.4M85.4 548.7h3" stroke="#3d6fb0" stroke-width="0.7"/>
<circle cx="86.9" cy="548.7" r="1.0" fill="#3d6fb0"/>
<path d="M71.4 557v4.4M69.9 559.2h3" stroke="#3d6fb0" stroke-width="0.7"/>
<circle cx="71.4" cy="559.2" r="1.0" fill="#3d6fb0"/>
<path d="M83.2 548.6v4.4M81.7 550.8h3" stroke="#3d6fb0" stroke-width="0.7"/>
<circle cx="83.2" cy="550.8" r="1.0" fill="#3d6fb0"/>
<path d="M80 551.3v4.4M78.5 553.5h3" stroke="#3d6fb0" stroke-width="0.7"/>
<circle cx="80" cy="553.5" r="1.0" fill="#3d6fb0"/>
<path d="M88.2 543.8v4.4M86.7 546h3" stroke="#3d6fb0" stroke-width="0.7"/>
<circle cx="88.2" cy="546" r="1.0" fill="#3d6fb0"/>
<path d="M64.9 563.3v4.4M63.4 565.5h3" stroke="#3d6fb0" stroke-width="0.7"/>
<circle cx="64.9" cy="565.5" r="1.0" fill="#3d6fb0"/>
<path d="M76.4 555.3v4.4M74.9 557.5h3" stroke="#3d6fb0" stroke-width="0.7"/>
<circle cx="76.4" cy="557.5" r="1.0" fill="#3d6fb0"/>
<path d="M92.4 544v4.4M90.9 546.2h3" stroke="#3d6fb0" stroke-width="0.7"/>
<circle cx="92.4" cy="546.2" r="1.0" fill="#3d6fb0"/>
<path d="M72.1 557.7v4.4M70.6 559.9h3" stroke="#3d6fb0" stroke-width="0.7"/>
<circle cx="72.1" cy="559.9" r="1.0" fill="#3d6fb0"/>
<path d="M69.4 563.6v4.4M67.9 565.8h3" stroke="#3d6fb0" stroke-width="0.7"/>
<circle cx="69.4" cy="565.8" r="1.0" fill="#3d6fb0"/>
<path d="M60.3 569.1v4.4M58.8 571.3h3" stroke="#3d6fb0" stroke-width="0.7"/>
<circle cx="60.3" cy="571.3" r="1.0" fill="#3d6fb0"/>
<path d="M71.7 560.5v4.4M70.2 562.7h3" stroke="#3d6fb0" stroke-width="0.7"/>
<circle cx="71.7" cy="562.7" r="1.0" fill="#3d6fb0"/>
<path d="M92.9 540.1v4.4M91.4 542.3h3" stroke="#3d6fb0" stroke-width="0.7"/>
<circle cx="92.9" cy="542.3" r="1.0" fill="#3d6fb0"/>
<path d="M83.3 550.1v4.4M81.8 552.3h3" stroke="#3d6fb0" stroke-width="0.7"/>
<circle cx="83.3" cy="552.3" r="1.0" fill="#3d6fb0"/>
<path d="M81 551v4.4M79.5 553.2h3" stroke="#3d6fb0" stroke-width="0.7"/>
<circle cx="81" cy="553.2" r="1.0" fill="#3d6fb0"/>
<path d="M67.3 563.2v4.4M65.8 565.4h3" stroke="#3d6fb0" stroke-width="0.7"/>
<circle cx="67.3" cy="565.4" r="1.0" fill="#3d6fb0"/>
<path d="M70.6 559.1v4.4M69.1 561.3h3" stroke="#3d6fb0" stroke-width="0.7"/>
<circle cx="70.6" cy="561.3" r="1.0" fill="#3d6fb0"/>
<path d="M67.9 561.7v4.4M66.4 563.9h3" stroke="#3d6fb0" stroke-width="0.7"/>
<circle cx="67.9" cy="563.9" r="1.0" fill="#3d6fb0"/>
<path d="M91.8 546.1v4.4M90.3 548.3h3" stroke="#e8832e" stroke-width="0.7"/>
<circle cx="91.8" cy="548.3" r="1.0" fill="#e8832e"/>
<path d="M63.7 568.1v4.4M62.2 570.3h3" stroke="#e8832e" stroke-width="0.7"/>
<circle cx="63.7" cy="570.3" r="1.0" fill="#e8832e"/>
<path d="M90.9 542.3v4.4M89.4 544.5h3" stroke="#e8832e" stroke-width="0.7"/>
<circle cx="90.9" cy="544.5" r="1.0" fill="#e8832e"/>
<path d="M89.4 544.8v4.4M87.9 547h3" stroke="#e8832e" stroke-width="0.7"/>
<circle cx="89.4" cy="547" r="1.0" fill="#e8832e"/>
<path d="M82.8 550.5v4.4M81.3 552.7h3" stroke="#e8832e" stroke-width="0.7"/>
<circle cx="82.8" cy="552.7" r="1.0" fill="#e8832e"/>
<path d="M65.5 562.1v4.4M64 564.3h3" stroke="#e8832e" stroke-width="0.7"/>
<circle cx="65.5" cy="564.3" r="1.0" fill="#e8832e"/>
<path d="M70.4 561.2v4.4M68.9 563.4h3" stroke="#e8832e" stroke-width="0.7"/>
<circle cx="70.4" cy="563.4" r="1.0" fill="#e8832e"/>
<path d="M60.7 565.8v4.4M59.2 568h3" stroke="#e8832e" stroke-width="0.7"/>
<circle cx="60.7" cy="568" r="1.0" fill="#e8832e"/>
<path d="M61.5 567v4.4M60 569.2h3" stroke="#e8832e" stroke-width="0.7"/>
<circle cx="61.5" cy="569.2" r="1.0" fill="#e8832e"/>
<path d="M71.9 559.2v4.4M70.4 561.4h3" stroke="#e8832e" stroke-width="0.7"/>
<circle cx="71.9" cy="561.4" r="1.0" fill="#e8832e"/>
<path d="M91.9 543.3v4.4M90.4 545.5h3" stroke="#e8832e" stroke-width="0.7"/>
<circle cx="91.9" cy="545.5" r="1.0" fill="#e8832e"/>
<path d="M70.5 560.7v4.4M69 562.9h3" stroke="#e8832e" stroke-width="0.7"/>
<circle cx="70.5" cy="562.9" r="1.0" fill="#e8832e"/>
<path d="M61.5 566.9v4.4M60 569.1h3" stroke="#e8832e" stroke-width="0.7"/>
<circle cx="61.5" cy="569.1" r="1.0" fill="#e8832e"/>
<path d="M74.2 558.5v4.4M72.7 560.7h3" stroke="#e8832e" stroke-width="0.7"/>
<circle cx="74.2" cy="560.7" r="1.0" fill="#e8832e"/>
<path d="M92 540.7v4.4M90.5 542.9h3" stroke="#e8832e" stroke-width="0.7"/>
<circle cx="92" cy="542.9" r="1.0" fill="#e8832e"/>
<path d="M75.2 557.2v4.4M73.7 559.4h3" stroke="#e8832e" stroke-width="0.7"/>
<circle cx="75.2" cy="559.4" r="1.0" fill="#e8832e"/>
<path d="M69.7 562.3v4.4M68.2 564.5h3" stroke="#e8832e" stroke-width="0.7"/>
<circle cx="69.7" cy="564.5" r="1.0" fill="#e8832e"/>
<path d="M71.3 560.5v4.4M69.8 562.7h3" stroke="#e8832e" stroke-width="0.7"/>
<circle cx="71.3" cy="562.7" r="1.0" fill="#e8832e"/>
<path d="M83.4 552.5v4.4M81.9 554.7h3" stroke="#e8832e" stroke-width="0.7"/>
<circle cx="83.4" cy="554.7" r="1.0" fill="#e8832e"/>
<path d="M83.3 549.3v4.4M81.8 551.5h3" stroke="#e8832e" stroke-width="0.7"/>
<circle cx="83.3" cy="551.5" r="1.0" fill="#e8832e"/>
<path d="M82.6 550.5v4.4M81.1 552.7h3" stroke="#e8832e" stroke-width="0.7"/>
<circle cx="82.6" cy="552.7" r="1.0" fill="#e8832e"/>
<path d="M87.9 548.3v4.4M86.4 550.5h3" stroke="#e8832e" stroke-width="0.7"/>
<circle cx="87.9" cy="550.5" r="1.0" fill="#e8832e"/>
<path d="M77.8 554.5v4.4M76.3 556.7h3" stroke="#e8832e" stroke-width="0.7"/>
<circle cx="77.8" cy="556.7" r="1.0" fill="#e8832e"/>
<path d="M65.7 566.3v4.4M64.2 568.5h3" stroke="#e8832e" stroke-width="0.7"/>
<circle cx="65.7" cy="568.5" r="1.0" fill="#e8832e"/>
<path d="M84.3 551.3v4.4M82.8 553.5h3" stroke="#e8832e" stroke-width="0.7"/>
<circle cx="84.3" cy="553.5" r="1.0" fill="#e8832e"/>
<path d="M61.3 569.3v4.4M59.8 571.5h3" stroke="#e8832e" stroke-width="0.7"/>
<circle cx="61.3" cy="571.5" r="1.0" fill="#e8832e"/>
<path d="M61.1 566.1v4.4M59.6 568.3h3" stroke="#e8832e" stroke-width="0.7"/>
<circle cx="61.1" cy="568.3" r="1.0" fill="#e8832e"/>
<path d="M73.6 557.3v4.4M72.1 559.5h3" stroke="#e8832e" stroke-width="0.7"/>
<circle cx="73.6" cy="559.5" r="1.0" fill="#e8832e"/>
<path d="M84.9 547.9v4.4M83.4 550.1h3" stroke="#3f9b3b" stroke-width="0.7"/>
<circle cx="84.9" cy="550.1" r="1.0" fill="#3f9b3b"/>
<path d="M75.8 555.5v4.4M74.3 557.7h3" stroke="#3f9b3b" stroke-width="0.7"/>
<circle cx="75.8" cy="557.7" r="1.0" fill="#3f9b3b"/>
<path d="M85.8 545.9v4.4M84.3 548.1h3" stroke="#3f9b3b" stroke-width="0.7"/>
<circle cx="85.8" cy="548.1" r="1.0" fill="#3f9b3b"/>
<path d="M67 561.4v4.4M65.5 563.6h3" stroke="#3f9b3b" stroke-width="0.7"/>
<circle cx="67" cy="563.6" r="1.0" fill="#3f9b3b"/>
<path d="M66.8 560.1v4.4M65.3 562.3h3" stroke="#3f9b3b" stroke-width="0.7"/>
<circle cx="66.8" cy="562.3" r="1.0" fill="#3f9b3b"/>
<path d="M64.8 562.8v4.4M63.3 565h3" stroke="#3f9b3b" stroke-width="0.7"/>
<circle cx="64.8" cy="565" r="1.0" fill="#3f9b3b"/>
<path d="M87.6 547.8v4.4M86.1 550h3" stroke="#3f9b3b" stroke-width="0.7"/>
<circle cx="87.6" cy="550" r="1.0" fill="#3f9b3b"/>
<path d="M85.3 547.9v4.4M83.8 550.1h3" stroke="#3f9b3b" stroke-width="0.7"/>
<circle cx="85.3" cy="550.1" r="1.0" fill="#3f9b3b"/>
<path d="M66 562.1v4.4M64.5 564.3h3" stroke="#3f9b3b" stroke-width="0.7"/>
<circle cx="66" cy="564.3" r="1.0" fill="#3f9b3b"/>
<path d="M77.6 553.9v4.4M76.1 556.1h3" stroke="#3f9b3b" stroke-width="0.7"/>
<circle cx="77.6" cy="556.1" r="1.0" fill="#3f9b3b"/>
<path d="M63 567v4.4M61.5 569.2h3" stroke="#3f9b3b" stroke-width="0.7"/>
<circle cx="63" cy="569.2" r="1.0" fill="#3f9b3b"/>
<path d="M70.6 559.3v4.4M69.1 561.5h3" stroke="#3f9b3b" stroke-width="0.7"/>
<circle cx="70.6" cy="561.5" r="1.0" fill="#3f9b3b"/>
<path d="M93.3 543.6v4.4M91.8 545.8h3" stroke="#3f9b3b" stroke-width="0.7"/>
<circle cx="93.3" cy="545.8" r="1.0" fill="#3f9b3b"/>
<path d="M61.8 566.2v4.4M60.3 568.4h3" stroke="#3f9b3b" stroke-width="0.7"/>
<circle cx="61.8" cy="568.4" r="1.0" fill="#3f9b3b"/>
<path d="M81.2 551v4.4M79.7 553.2h3" stroke="#3f9b3b" stroke-width="0.7"/>
<circle cx="81.2" cy="553.2" r="1.0" fill="#3f9b3b"/>
<path d="M93.7 538.6v4.4M92.2 540.8h3" stroke="#3f9b3b" stroke-width="0.7"/>
<circle cx="93.7" cy="540.8" r="1.0" fill="#3f9b3b"/>
<path d="M73.6 556.2v4.4M72.1 558.4h3" stroke="#3f9b3b" stroke-width="0.7"/>
<circle cx="73.6" cy="558.4" r="1.0" fill="#3f9b3b"/>
<path d="M62.9 566.2v4.4M61.4 568.4h3" stroke="#3f9b3b" stroke-width="0.7"/>
<circle cx="62.9" cy="568.4" r="1.0" fill="#3f9b3b"/>
<path d="M82.4 550.2v4.4M80.9 552.4h3" stroke="#3f9b3b" stroke-width="0.7"/>
<circle cx="82.4" cy="552.4" r="1.0" fill="#3f9b3b"/>
<path d="M69.8 557.8v4.4M68.3 560h3" stroke="#3f9b3b" stroke-width="0.7"/>
<circle cx="69.8" cy="560" r="1.0" fill="#3f9b3b"/>
<path d="M75.6 554.6v4.4M74.1 556.8h3" stroke="#3f9b3b" stroke-width="0.7"/>
<circle cx="75.6" cy="556.8" r="1.0" fill="#3f9b3b"/>
<path d="M71.7 556.7v4.4M70.2 558.9h3" stroke="#3f9b3b" stroke-width="0.7"/>
<circle cx="71.7" cy="558.9" r="1.0" fill="#3f9b3b"/>
<path d="M65.5 561.5v4.4M64 563.7h3" stroke="#3f9b3b" stroke-width="0.7"/>
<circle cx="65.5" cy="563.7" r="1.0" fill="#3f9b3b"/>
<path d="M86.3 549.5v4.4M84.8 551.7h3" stroke="#3f9b3b" stroke-width="0.7"/>
<circle cx="86.3" cy="551.7" r="1.0" fill="#3f9b3b"/>
<path d="M60.8 566.4v4.4M59.3 568.6h3" stroke="#3f9b3b" stroke-width="0.7"/>
<circle cx="60.8" cy="568.6" r="1.0" fill="#3f9b3b"/>
<path d="M75.8 555.4v4.4M74.3 557.6h3" stroke="#3f9b3b" stroke-width="0.7"/>
<circle cx="75.8" cy="557.6" r="1.0" fill="#3f9b3b"/>
<path d="M75.6 557.4v4.4M74.1 559.6h3" stroke="#3f9b3b" stroke-width="0.7"/>
<circle cx="75.6" cy="559.6" r="1.0" fill="#3f9b3b"/>
<path d="M75.6 555.8v4.4M74.1 558h3" stroke="#c9312c" stroke-width="0.7"/>
<circle cx="75.6" cy="558" r="1.0" fill="#c9312c"/>
<path d="M79.3 550.5v4.4M77.8 552.7h3" stroke="#c9312c" stroke-width="0.7"/>
<circle cx="79.3" cy="552.7" r="1.0" fill="#c9312c"/>
<path d="M64.6 561.7v4.4M63.1 563.9h3" stroke="#c9312c" stroke-width="0.7"/>
<circle cx="64.6" cy="563.9" r="1.0" fill="#c9312c"/>
<path d="M89.4 539.9v4.4M87.9 542.1h3" stroke="#c9312c" stroke-width="0.7"/>
<circle cx="89.4" cy="542.1" r="1.0" fill="#c9312c"/>
<path d="M92.6 543.4v4.4M91.1 545.6h3" stroke="#c9312c" stroke-width="0.7"/>
<circle cx="92.6" cy="545.6" r="1.0" fill="#c9312c"/>
<path d="M80.3 551.3v4.4M78.8 553.5h3" stroke="#c9312c" stroke-width="0.7"/>
<circle cx="80.3" cy="553.5" r="1.0" fill="#c9312c"/>
<path d="M76.2 555v4.4M74.7 557.2h3" stroke="#c9312c" stroke-width="0.7"/>
<circle cx="76.2" cy="557.2" r="1.0" fill="#c9312c"/>
<path d="M86.5 547.3v4.4M85 549.5h3" stroke="#c9312c" stroke-width="0.7"/>
<circle cx="86.5" cy="549.5" r="1.0" fill="#c9312c"/>
<path d="M85.5 548.2v4.4M84 550.4h3" stroke="#c9312c" stroke-width="0.7"/>
<circle cx="85.5" cy="550.4" r="1.0" fill="#c9312c"/>
<path d="M85.2 548.9v4.4M83.7 551.1h3" stroke="#c9312c" stroke-width="0.7"/>
<circle cx="85.2" cy="551.1" r="1.0" fill="#c9312c"/>
<path d="M90.9 541.6v4.4M89.4 543.8h3" stroke="#c9312c" stroke-width="0.7"/>
<circle cx="90.9" cy="543.8" r="1.0" fill="#c9312c"/>
<path d="M64.9 563.5v4.4M63.4 565.7h3" stroke="#c9312c" stroke-width="0.7"/>
<circle cx="64.9" cy="565.7" r="1.0" fill="#c9312c"/>
<path d="M67.9 562.1v4.4M66.4 564.3h3" stroke="#c9312c" stroke-width="0.7"/>
<circle cx="67.9" cy="564.3" r="1.0" fill="#c9312c"/>
<path d="M76.6 555.1v4.4M75.1 557.3h3" stroke="#c9312c" stroke-width="0.7"/>
<circle cx="76.6" cy="557.3" r="1.0" fill="#c9312c"/>
<path d="M74.6 557.2v4.4M73.1 559.4h3" stroke="#c9312c" stroke-width="0.7"/>
<circle cx="74.6" cy="559.4" r="1.0" fill="#c9312c"/>
<path d="M75.2 559.8v4.4M73.7 562h3" stroke="#c9312c" stroke-width="0.7"/>
<circle cx="75.2" cy="562" r="1.0" fill="#c9312c"/>
<path d="M93.3 540.4v4.4M91.8 542.6h3" stroke="#c9312c" stroke-width="0.7"/>
<circle cx="93.3" cy="542.6" r="1.0" fill="#c9312c"/>
<path d="M89.2 541.9v4.4M87.7 544.1h3" stroke="#c9312c" stroke-width="0.7"/>
<circle cx="89.2" cy="544.1" r="1.0" fill="#c9312c"/>
<path d="M83.7 550.9v4.4M82.2 553.1h3" stroke="#c9312c" stroke-width="0.7"/>
<circle cx="83.7" cy="553.1" r="1.0" fill="#c9312c"/>
<path d="M79.5 553.4v4.4M78 555.6h3" stroke="#c9312c" stroke-width="0.7"/>
<circle cx="79.5" cy="555.6" r="1.0" fill="#c9312c"/>
<path d="M86.9 549.1v4.4M85.4 551.3h3" stroke="#c9312c" stroke-width="0.7"/>
<circle cx="86.9" cy="551.3" r="1.0" fill="#c9312c"/>
<path d="M83.2 552.7v4.4M81.7 554.9h3" stroke="#c9312c" stroke-width="0.7"/>
<circle cx="83.2" cy="554.9" r="1.0" fill="#c9312c"/>
<path d="M76 558.9v4.4M74.5 561.1h3" stroke="#c9312c" stroke-width="0.7"/>
<circle cx="76" cy="561.1" r="1.0" fill="#c9312c"/>
<path d="M74.1 558.1v4.4M72.6 560.3h3" stroke="#c9312c" stroke-width="0.7"/>
<circle cx="74.1" cy="560.3" r="1.0" fill="#c9312c"/>
<path d="M81.9 549.1v4.4M80.4 551.3h3" stroke="#c9312c" stroke-width="0.7"/>
<circle cx="81.9" cy="551.3" r="1.0" fill="#c9312c"/>
<path d="M64.4 564v4.4M62.9 566.2h3" stroke="#c9312c" stroke-width="0.7"/>
<circle cx="64.4" cy="566.2" r="1.0" fill="#c9312c"/>
<path d="M79.9 550.6v4.4M78.4 552.8h3" stroke="#c9312c" stroke-width="0.7"/>
<circle cx="79.9" cy="552.8" r="1.0" fill="#c9312c"/>
<path d="M171.4 496v4.4M169.9 498.2h3" stroke="#3d6fb0" stroke-width="0.7"/>
<circle cx="171.4" cy="498.2" r="1.0" fill="#3d6fb0"/>
<path d="M134.3 512.5v4.4M132.8 514.7h3" stroke="#3d6fb0" stroke-width="0.7"/>
<circle cx="134.3" cy="514.7" r="1.0" fill="#3d6fb0"/>
<path d="M118.3 526.3v4.4M116.8 528.5h3" stroke="#3d6fb0" stroke-width="0.7"/>
<circle cx="118.3" cy="528.5" r="1.0" fill="#3d6fb0"/>
<path d="M109.5 528.6v4.4M108 530.8h3" stroke="#3d6fb0" stroke-width="0.7"/>
<circle cx="109.5" cy="530.8" r="1.0" fill="#3d6fb0"/>
<path d="M185.3 498.7v4.4M183.8 500.9h3" stroke="#3d6fb0" stroke-width="0.7"/>
<circle cx="185.3" cy="500.9" r="1.0" fill="#3d6fb0"/>
<path d="M158.2 501.4v4.4M156.7 503.6h3" stroke="#3d6fb0" stroke-width="0.7"/>
<circle cx="158.2" cy="503.6" r="1.0" fill="#3d6fb0"/>
<path d="M153.3 499.3v4.4M151.8 501.5h3" stroke="#3d6fb0" stroke-width="0.7"/>
<circle cx="153.3" cy="501.5" r="1.0" fill="#3d6fb0"/>
<path d="M144 506.2v4.4M142.5 508.4h3" stroke="#3d6fb0" stroke-width="0.7"/>
<circle cx="144" cy="508.4" r="1.0" fill="#3d6fb0"/>
<path d="M130.7 512.9v4.4M129.2 515.1h3" stroke="#3d6fb0" stroke-width="0.7"/>
<circle cx="130.7" cy="515.1" r="1.0" fill="#3d6fb0"/>
<path d="M106.1 534.8v4.4M104.6 537h3" stroke="#3d6fb0" stroke-width="0.7"/>
<circle cx="106.1" cy="537" r="1.0" fill="#3d6fb0"/>
<path d="M160.5 498.1v4.4M159 500.3h3" stroke="#3d6fb0" stroke-width="0.7"/>
<circle cx="160.5" cy="500.3" r="1.0" fill="#3d6fb0"/>
<path d="M137.4 508.3v4.4M135.9 510.5h3" stroke="#3d6fb0" stroke-width="0.7"/>
<circle cx="137.4" cy="510.5" r="1.0" fill="#3d6fb0"/>
<path d="M112.2 529.1v4.4M110.7 531.3h3" stroke="#3d6fb0" stroke-width="0.7"/>
<circle cx="112.2" cy="531.3" r="1.0" fill="#3d6fb0"/>
<path d="M179 497.7v4.4M177.5 499.9h3" stroke="#3d6fb0" stroke-width="0.7"/>
<circle cx="179" cy="499.9" r="1.0" fill="#3d6fb0"/>
<path d="M172.4 497.9v4.4M170.9 500.1h3" stroke="#3d6fb0" stroke-width="0.7"/>
<circle cx="172.4" cy="500.1" r="1.0" fill="#3d6fb0"/>
<path d="M136.5 514.5v4.4M135 516.7h3" stroke="#3d6fb0" stroke-width="0.7"/>
<circle cx="136.5" cy="516.7" r="1.0" fill="#3d6fb0"/>
<path d="M104 533.6v4.4M102.5 535.8h3" stroke="#3d6fb0" stroke-width="0.7"/>
<circle cx="104" cy="535.8" r="1.0" fill="#3d6fb0"/>
<path d="M118.3 521v4.4M116.8 523.2h3" stroke="#3d6fb0" stroke-width="0.7"/>
<circle cx="118.3" cy="523.2" r="1.0" fill="#3d6fb0"/>
<path d="M110.1 529.8v4.4M108.6 532h3" stroke="#3d6fb0" stroke-width="0.7"/>
<circle cx="110.1" cy="532" r="1.0" fill="#3d6fb0"/>
<path d="M110.6 530v4.4M109.1 532.2h3" stroke="#3d6fb0" stroke-width="0.7"/>
<circle cx="110.6" cy="532.2" r="1.0" fill="#3d6fb0"/>
<path d="M108.7 533.1v4.4M107.2 535.3h3" stroke="#3d6fb0" stroke-width="0.7"/>
<circle cx="108.7" cy="535.3" r="1.0" fill="#3d6fb0"/>
<path d="M113.4 523.2v4.4M111.9 525.4h3" stroke="#3d6fb0" stroke-width="0.7"/>
<circle cx="113.4" cy="525.4" r="1.0" fill="#3d6fb0"/>
<path d="M106.9 530v4.4M105.4 532.2h3" stroke="#3d6fb0" stroke-width="0.7"/>
<circle cx="106.9" cy="532.2" r="1.0" fill="#3d6fb0"/>
<path d="M186.6 501.7v4.4M185.1 503.9h3" stroke="#3d6fb0" stroke-width="0.7"/>
<circle cx="186.6" cy="503.9" r="1.0" fill="#3d6fb0"/>
<path d="M104.2 532.8v4.4M102.7 535h3" stroke="#3d6fb0" stroke-width="0.7"/>
<circle cx="104.2" cy="535" r="1.0" fill="#3d6fb0"/>
<path d="M131.6 511.8v4.4M130.1 514h3" stroke="#3d6fb0" stroke-width="0.7"/>
<circle cx="131.6" cy="514" r="1.0" fill="#3d6fb0"/>
<path d="M107.8 531.3v4.4M106.3 533.5h3" stroke="#3d6fb0" stroke-width="0.7"/>
<circle cx="107.8" cy="533.5" r="1.0" fill="#3d6fb0"/>
<path d="M135.6 511.7v4.4M134.1 513.9h3" stroke="#3d6fb0" stroke-width="0.7"/>
<circle cx="135.6" cy="513.9" r="1.0" fill="#3d6fb0"/>
<path d="M122.5 523.2v4.4M121 525.4h3" stroke="#3d6fb0" stroke-width="0.7"/>
<circle cx="122.5" cy="525.4" r="1.0" fill="#3d6fb0"/>
<path d="M136.4 509.2v4.4M134.9 511.4h3" stroke="#3d6fb0" stroke-width="0.7"/>
<circle cx="136.4" cy="511.4" r="1.0" fill="#3d6fb0"/>
<path d="M160.2 498.6v4.4M158.7 500.8h3" stroke="#3d6fb0" stroke-width="0.7"/>
<circle cx="160.2" cy="500.8" r="1.0" fill="#3d6fb0"/>
<path d="M111.4 528.4v4.4M109.9 530.6h3" stroke="#3d6fb0" stroke-width="0.7"/>
<circle cx="111.4" cy="530.6" r="1.0" fill="#3d6fb0"/>
<path d="M151.2 502.1v4.4M149.7 504.3h3" stroke="#3d6fb0" stroke-width="0.7"/>
<circle cx="151.2" cy="504.3" r="1.0" fill="#3d6fb0"/>
<path d="M111.9 524v4.4M110.4 526.2h3" stroke="#3d6fb0" stroke-width="0.7"/>
<circle cx="111.9" cy="526.2" r="1.0" fill="#3d6fb0"/>
<path d="M158.8 500.6v4.4M157.3 502.8h3" stroke="#3d6fb0" stroke-width="0.7"/>
<circle cx="158.8" cy="502.8" r="1.0" fill="#3d6fb0"/>
<path d="M153.6 502.4v4.4M152.1 504.6h3" stroke="#3d6fb0" stroke-width="0.7"/>
<circle cx="153.6" cy="504.6" r="1.0" fill="#3d6fb0"/>
<path d="M109.6 530v4.4M108.1 532.2h3" stroke="#3d6fb0" stroke-width="0.7"/>
<circle cx="109.6" cy="532.2" r="1.0" fill="#3d6fb0"/>
<path d="M185 500.7v4.4M183.5 502.9h3" stroke="#3d6fb0" stroke-width="0.7"/>
<circle cx="185" cy="502.9" r="1.0" fill="#3d6fb0"/>
<path d="M174.5 494.6v4.4M173 496.8h3" stroke="#3d6fb0" stroke-width="0.7"/>
<circle cx="174.5" cy="496.8" r="1.0" fill="#3d6fb0"/>
<path d="M135.2 514v4.4M133.7 516.2h3" stroke="#3d6fb0" stroke-width="0.7"/>
<circle cx="135.2" cy="516.2" r="1.0" fill="#3d6fb0"/>
<path d="M118.3 526.4v4.4M116.8 528.6h3" stroke="#3d6fb0" stroke-width="0.7"/>
<circle cx="118.3" cy="528.6" r="1.0" fill="#3d6fb0"/>
<path d="M153.6 505.7v4.4M152.1 507.9h3" stroke="#3d6fb0" stroke-width="0.7"/>
<circle cx="153.6" cy="507.9" r="1.0" fill="#3d6fb0"/>
<path d="M180.7 494.5v4.4M179.2 496.7h3" stroke="#3d6fb0" stroke-width="0.7"/>
<circle cx="180.7" cy="496.7" r="1.0" fill="#3d6fb0"/>
<path d="M134.1 511.8v4.4M132.6 514h3" stroke="#3d6fb0" stroke-width="0.7"/>
<circle cx="134.1" cy="514" r="1.0" fill="#3d6fb0"/>
<path d="M183.1 495.7v4.4M181.6 497.9h3" stroke="#3d6fb0" stroke-width="0.7"/>
<circle cx="183.1" cy="497.9" r="1.0" fill="#3d6fb0"/>
<path d="M147.3 505v4.4M145.8 507.2h3" stroke="#3d6fb0" stroke-width="0.7"/>
<circle cx="147.3" cy="507.2" r="1.0" fill="#3d6fb0"/>
<path d="M158.7 500v4.4M157.2 502.2h3" stroke="#3d6fb0" stroke-width="0.7"/>
<circle cx="158.7" cy="502.2" r="1.0" fill="#3d6fb0"/>
<path d="M145.9 504v4.4M144.4 506.2h3" stroke="#3d6fb0" stroke-width="0.7"/>
<circle cx="145.9" cy="506.2" r="1.0" fill="#3d6fb0"/>
<path d="M132.3 512.4v4.4M130.8 514.6h3" stroke="#3d6fb0" stroke-width="0.7"/>
<circle cx="132.3" cy="514.6" r="1.0" fill="#3d6fb0"/>
<path d="M166.6 498.6v4.4M165.1 500.8h3" stroke="#3d6fb0" stroke-width="0.7"/>
<circle cx="166.6" cy="500.8" r="1.0" fill="#3d6fb0"/>
<path d="M187.1 500.9v4.4M185.6 503.1h3" stroke="#3d6fb0" stroke-width="0.7"/>
<circle cx="187.1" cy="503.1" r="1.0" fill="#3d6fb0"/>
<path d="M141.6 507.1v4.4M140.1 509.3h3" stroke="#3d6fb0" stroke-width="0.7"/>
<circle cx="141.6" cy="509.3" r="1.0" fill="#3d6fb0"/>
<path d="M134.3 512.2v4.4M132.8 514.4h3" stroke="#3d6fb0" stroke-width="0.7"/>
<circle cx="134.3" cy="514.4" r="1.0" fill="#3d6fb0"/>
<path d="M175.3 495v4.4M173.8 497.2h3" stroke="#3d6fb0" stroke-width="0.7"/>
<circle cx="175.3" cy="497.2" r="1.0" fill="#3d6fb0"/>
<path d="M107.5 529.1v4.4M106 531.3h3" stroke="#3d6fb0" stroke-width="0.7"/>
<circle cx="107.5" cy="531.3" r="1.0" fill="#3d6fb0"/>
<path d="M149.2 505.6v4.4M147.7 507.8h3" stroke="#3d6fb0" stroke-width="0.7"/>
<circle cx="149.2" cy="507.8" r="1.0" fill="#3d6fb0"/>
<path d="M167.3 498.9v4.4M165.8 501.1h3" stroke="#3d6fb0" stroke-width="0.7"/>
<circle cx="167.3" cy="501.1" r="1.0" fill="#3d6fb0"/>
<path d="M104.4 532.2v4.4M102.9 534.4h3" stroke="#3d6fb0" stroke-width="0.7"/>
<circle cx="104.4" cy="534.4" r="1.0" fill="#3d6fb0"/>
<path d="M124.4 520.9v4.4M122.9 523.1h3" stroke="#e8832e" stroke-width="0.7"/>
<circle cx="124.4" cy="523.1" r="1.0" fill="#e8832e"/>
<path d="M172.1 498.2v4.4M170.6 500.4h3" stroke="#e8832e" stroke-width="0.7"/>
<circle cx="172.1" cy="500.4" r="1.0" fill="#e8832e"/>
<path d="M124.8 519.9v4.4M123.3 522.1h3" stroke="#e8832e" stroke-width="0.7"/>
<circle cx="124.8" cy="522.1" r="1.0" fill="#e8832e"/>
<path d="M140.6 512v4.4M139.1 514.2h3" stroke="#e8832e" stroke-width="0.7"/>
<circle cx="140.6" cy="514.2" r="1.0" fill="#e8832e"/>
<path d="M159.2 500.7v4.4M157.7 502.9h3" stroke="#e8832e" stroke-width="0.7"/>
<circle cx="159.2" cy="502.9" r="1.0" fill="#e8832e"/>
<path d="M187.5 501.4v4.4M186 503.6h3" stroke="#e8832e" stroke-width="0.7"/>
<circle cx="187.5" cy="503.6" r="1.0" fill="#e8832e"/>
<path d="M147.7 503.1v4.4M146.2 505.3h3" stroke="#e8832e" stroke-width="0.7"/>
<circle cx="147.7" cy="505.3" r="1.0" fill="#e8832e"/>
<path d="M177.7 495.6v4.4M176.2 497.8h3" stroke="#e8832e" stroke-width="0.7"/>
<circle cx="177.7" cy="497.8" r="1.0" fill="#e8832e"/>
<path d="M128.3 517.9v4.4M126.8 520.1h3" stroke="#e8832e" stroke-width="0.7"/>
<circle cx="128.3" cy="520.1" r="1.0" fill="#e8832e"/>
<path d="M136.4 510v4.4M134.9 512.2h3" stroke="#e8832e" stroke-width="0.7"/>
<circle cx="136.4" cy="512.2" r="1.0" fill="#e8832e"/>
<path d="M174.7 497.8v4.4M173.2 500h3" stroke="#e8832e" stroke-width="0.7"/>
<circle cx="174.7" cy="500" r="1.0" fill="#e8832e"/>
<path d="M124.8 517.4v4.4M123.3 519.6h3" stroke="#e8832e" stroke-width="0.7"/>
<circle cx="124.8" cy="519.6" r="1.0" fill="#e8832e"/>
<path d="M123.9 520.3v4.4M122.4 522.5h3" stroke="#e8832e" stroke-width="0.7"/>
<circle cx="123.9" cy="522.5" r="1.0" fill="#e8832e"/>
<path d="M143.2 508.4v4.4M141.7 510.6h3" stroke="#e8832e" stroke-width="0.7"/>
<circle cx="143.2" cy="510.6" r="1.0" fill="#e8832e"/>
<path d="M187 495.9v4.4M185.5 498.1h3" stroke="#e8832e" stroke-width="0.7"/>
<circle cx="187" cy="498.1" r="1.0" fill="#e8832e"/>
<path d="M184 497.1v4.4M182.5 499.3h3" stroke="#e8832e" stroke-width="0.7"/>
<circle cx="184" cy="499.3" r="1.0" fill="#e8832e"/>
<path d="M164.8 499.1v4.4M163.3 501.3h3" stroke="#e8832e" stroke-width="0.7"/>
<circle cx="164.8" cy="501.3" r="1.0" fill="#e8832e"/>
<path d="M138.6 510.9v4.4M137.1 513.1h3" stroke="#e8832e" stroke-width="0.7"/>
<circle cx="138.6" cy="513.1" r="1.0" fill="#e8832e"/>
<path d="M156.6 500.3v4.4M155.1 502.5h3" stroke="#e8832e" stroke-width="0.7"/>
<circle cx="156.6" cy="502.5" r="1.0" fill="#e8832e"/>
<path d="M180.8 498.3v4.4M179.3 500.5h3" stroke="#e8832e" stroke-width="0.7"/>
<circle cx="180.8" cy="500.5" r="1.0" fill="#e8832e"/>
<path d="M181.5 499.5v4.4M180 501.7h3" stroke="#e8832e" stroke-width="0.7"/>
<circle cx="181.5" cy="501.7" r="1.0" fill="#e8832e"/>
<path d="M140.2 510.5v4.4M138.7 512.7h3" stroke="#e8832e" stroke-width="0.7"/>
<circle cx="140.2" cy="512.7" r="1.0" fill="#e8832e"/>
<path d="M126.6 522.3v4.4M125.1 524.5h3" stroke="#e8832e" stroke-width="0.7"/>
<circle cx="126.6" cy="524.5" r="1.0" fill="#e8832e"/>
<path d="M104.1 531.9v4.4M102.6 534.1h3" stroke="#e8832e" stroke-width="0.7"/>
<circle cx="104.1" cy="534.1" r="1.0" fill="#e8832e"/>
<path d="M105.9 530.8v4.4M104.4 533h3" stroke="#e8832e" stroke-width="0.7"/>
<circle cx="105.9" cy="533" r="1.0" fill="#e8832e"/>
<path d="M111.4 526.9v4.4M109.9 529.1h3" stroke="#e8832e" stroke-width="0.7"/>
<circle cx="111.4" cy="529.1" r="1.0" fill="#e8832e"/>
<path d="M147.7 505.1v4.4M146.2 507.3h3" stroke="#e8832e" stroke-width="0.7"/>
<circle cx="147.7" cy="507.3" r="1.0" fill="#e8832e"/>
<path d="M151.1 502.2v4.4M149.6 504.4h3" stroke="#e8832e" stroke-width="0.7"/>
<circle cx="151.1" cy="504.4" r="1.0" fill="#e8832e"/>
<path d="M151.5 504.6v4.4M150 506.8h3" stroke="#e8832e" stroke-width="0.7"/>
<circle cx="151.5" cy="506.8" r="1.0" fill="#e8832e"/>
<path d="M159.8 499.9v4.4M158.3 502.1h3" stroke="#e8832e" stroke-width="0.7"/>
<circle cx="159.8" cy="502.1" r="1.0" fill="#e8832e"/>
<path d="M156.5 501.2v4.4M155 503.4h3" stroke="#e8832e" stroke-width="0.7"/>
<circle cx="156.5" cy="503.4" r="1.0" fill="#e8832e"/>
<path d="M133.8 513.8v4.4M132.3 516h3" stroke="#e8832e" stroke-width="0.7"/>
<circle cx="133.8" cy="516" r="1.0" fill="#e8832e"/>
<path d="M142.9 508.3v4.4M141.4 510.5h3" stroke="#e8832e" stroke-width="0.7"/>
<circle cx="142.9" cy="510.5" r="1.0" fill="#e8832e"/>
<path d="M105.7 529.2v4.4M104.2 531.4h3" stroke="#e8832e" stroke-width="0.7"/>
<circle cx="105.7" cy="531.4" r="1.0" fill="#e8832e"/>
<path d="M119.2 520.9v4.4M117.7 523.1h3" stroke="#e8832e" stroke-width="0.7"/>
<circle cx="119.2" cy="523.1" r="1.0" fill="#e8832e"/>
<path d="M167.1 494.6v4.4M165.6 496.8h3" stroke="#e8832e" stroke-width="0.7"/>
<circle cx="167.1" cy="496.8" r="1.0" fill="#e8832e"/>
<path d="M133.7 513.3v4.4M132.2 515.5h3" stroke="#e8832e" stroke-width="0.7"/>
<circle cx="133.7" cy="515.5" r="1.0" fill="#e8832e"/>
<path d="M105.9 531v4.4M104.4 533.2h3" stroke="#e8832e" stroke-width="0.7"/>
<circle cx="105.9" cy="533.2" r="1.0" fill="#e8832e"/>
<path d="M125.4 517.2v4.4M123.9 519.4h3" stroke="#e8832e" stroke-width="0.7"/>
<circle cx="125.4" cy="519.4" r="1.0" fill="#e8832e"/>
<path d="M156.7 502.3v4.4M155.2 504.5h3" stroke="#e8832e" stroke-width="0.7"/>
<circle cx="156.7" cy="504.5" r="1.0" fill="#e8832e"/>
<path d="M152.2 501.9v4.4M150.7 504.1h3" stroke="#e8832e" stroke-width="0.7"/>
<circle cx="152.2" cy="504.1" r="1.0" fill="#e8832e"/>
<path d="M148.2 504.3v4.4M146.7 506.5h3" stroke="#e8832e" stroke-width="0.7"/>
<circle cx="148.2" cy="506.5" r="1.0" fill="#e8832e"/>
<path d="M178.1 493.3v4.4M176.6 495.5h3" stroke="#e8832e" stroke-width="0.7"/>
<circle cx="178.1" cy="495.5" r="1.0" fill="#e8832e"/>
<path d="M101.8 536.7v4.4M100.3 538.9h3" stroke="#e8832e" stroke-width="0.7"/>
<circle cx="101.8" cy="538.9" r="1.0" fill="#e8832e"/>
<path d="M112.4 526.6v4.4M110.9 528.8h3" stroke="#e8832e" stroke-width="0.7"/>
<circle cx="112.4" cy="528.8" r="1.0" fill="#e8832e"/>
<path d="M133.5 515.2v4.4M132 517.4h3" stroke="#e8832e" stroke-width="0.7"/>
<circle cx="133.5" cy="517.4" r="1.0" fill="#e8832e"/>
<path d="M112.9 527.8v4.4M111.4 530h3" stroke="#e8832e" stroke-width="0.7"/>
<circle cx="112.9" cy="530" r="1.0" fill="#e8832e"/>
<path d="M170.1 495.3v4.4M168.6 497.5h3" stroke="#e8832e" stroke-width="0.7"/>
<circle cx="170.1" cy="497.5" r="1.0" fill="#e8832e"/>
<path d="M182.3 494.6v4.4M180.8 496.8h3" stroke="#e8832e" stroke-width="0.7"/>
<circle cx="182.3" cy="496.8" r="1.0" fill="#e8832e"/>
<path d="M155.5 501.2v4.4M154 503.4h3" stroke="#e8832e" stroke-width="0.7"/>
<circle cx="155.5" cy="503.4" r="1.0" fill="#e8832e"/>
<path d="M125.5 521.2v4.4M124 523.4h3" stroke="#e8832e" stroke-width="0.7"/>
<circle cx="125.5" cy="523.4" r="1.0" fill="#e8832e"/>
<path d="M165 497.7v4.4M163.5 499.9h3" stroke="#e8832e" stroke-width="0.7"/>
<circle cx="165" cy="499.9" r="1.0" fill="#e8832e"/>
<path d="M160.2 500.5v4.4M158.7 502.7h3" stroke="#e8832e" stroke-width="0.7"/>
<circle cx="160.2" cy="502.7" r="1.0" fill="#e8832e"/>
<path d="M102.4 533.7v4.4M100.9 535.9h3" stroke="#e8832e" stroke-width="0.7"/>
<circle cx="102.4" cy="535.9" r="1.0" fill="#e8832e"/>
<path d="M171.5 495v4.4M170 497.2h3" stroke="#e8832e" stroke-width="0.7"/>
<circle cx="171.5" cy="497.2" r="1.0" fill="#e8832e"/>
<path d="M179.4 494.8v4.4M177.9 497h3" stroke="#e8832e" stroke-width="0.7"/>
<circle cx="179.4" cy="497" r="1.0" fill="#e8832e"/>
<path d="M101.6 537.6v4.4M100.1 539.8h3" stroke="#e8832e" stroke-width="0.7"/>
<circle cx="101.6" cy="539.8" r="1.0" fill="#e8832e"/>
<path d="M128.2 516.5v4.4M126.7 518.7h3" stroke="#e8832e" stroke-width="0.7"/>
<circle cx="128.2" cy="518.7" r="1.0" fill="#e8832e"/>
<path d="M101.3 536.7v4.4M99.8 538.9h3" stroke="#3f9b3b" stroke-width="0.7"/>
<circle cx="101.3" cy="538.9" r="1.0" fill="#3f9b3b"/>
<path d="M165.8 499.9v4.4M164.3 502.1h3" stroke="#3f9b3b" stroke-width="0.7"/>
<circle cx="165.8" cy="502.1" r="1.0" fill="#3f9b3b"/>
<path d="M172.3 498.1v4.4M170.8 500.3h3" stroke="#3f9b3b" stroke-width="0.7"/>
<circle cx="172.3" cy="500.3" r="1.0" fill="#3f9b3b"/>
<path d="M109.6 528.8v4.4M108.1 531h3" stroke="#3f9b3b" stroke-width="0.7"/>
<circle cx="109.6" cy="531" r="1.0" fill="#3f9b3b"/>
<path d="M133.1 509.9v4.4M131.6 512.1h3" stroke="#3f9b3b" stroke-width="0.7"/>
<circle cx="133.1" cy="512.1" r="1.0" fill="#3f9b3b"/>
<path d="M103.8 535.4v4.4M102.3 537.6h3" stroke="#3f9b3b" stroke-width="0.7"/>
<circle cx="103.8" cy="537.6" r="1.0" fill="#3f9b3b"/>
<path d="M111.6 528.9v4.4M110.1 531.1h3" stroke="#3f9b3b" stroke-width="0.7"/>
<circle cx="111.6" cy="531.1" r="1.0" fill="#3f9b3b"/>
<path d="M163 495.7v4.4M161.5 497.9h3" stroke="#3f9b3b" stroke-width="0.7"/>
<circle cx="163" cy="497.9" r="1.0" fill="#3f9b3b"/>
<path d="M134.6 513.2v4.4M133.1 515.4h3" stroke="#3f9b3b" stroke-width="0.7"/>
<circle cx="134.6" cy="515.4" r="1.0" fill="#3f9b3b"/>
<path d="M187.9 498.4v4.4M186.4 500.6h3" stroke="#3f9b3b" stroke-width="0.7"/>
<circle cx="187.9" cy="500.6" r="1.0" fill="#3f9b3b"/>
<path d="M171.6 498.9v4.4M170.1 501.1h3" stroke="#3f9b3b" stroke-width="0.7"/>
<circle cx="171.6" cy="501.1" r="1.0" fill="#3f9b3b"/>
<path d="M144.4 506.6v4.4M142.9 508.8h3" stroke="#3f9b3b" stroke-width="0.7"/>
<circle cx="144.4" cy="508.8" r="1.0" fill="#3f9b3b"/>
<path d="M141.2 507.4v4.4M139.7 509.6h3" stroke="#3f9b3b" stroke-width="0.7"/>
<circle cx="141.2" cy="509.6" r="1.0" fill="#3f9b3b"/>
<path d="M143.6 506.2v4.4M142.1 508.4h3" stroke="#3f9b3b" stroke-width="0.7"/>
<circle cx="143.6" cy="508.4" r="1.0" fill="#3f9b3b"/>
<path d="M182.8 498.8v4.4M181.3 501h3" stroke="#3f9b3b" stroke-width="0.7"/>
<circle cx="182.8" cy="501" r="1.0" fill="#3f9b3b"/>
<path d="M127 515.5v4.4M125.5 517.7h3" stroke="#3f9b3b" stroke-width="0.7"/>
<circle cx="127" cy="517.7" r="1.0" fill="#3f9b3b"/>
<path d="M133.3 510.1v4.4M131.8 512.3h3" stroke="#3f9b3b" stroke-width="0.7"/>
<circle cx="133.3" cy="512.3" r="1.0" fill="#3f9b3b"/>
<path d="M170.4 496.3v4.4M168.9 498.5h3" stroke="#3f9b3b" stroke-width="0.7"/>
<circle cx="170.4" cy="498.5" r="1.0" fill="#3f9b3b"/>
<path d="M154.9 500.2v4.4M153.4 502.4h3" stroke="#3f9b3b" stroke-width="0.7"/>
<circle cx="154.9" cy="502.4" r="1.0" fill="#3f9b3b"/>
<path d="M156.9 501.2v4.4M155.4 503.4h3" stroke="#3f9b3b" stroke-width="0.7"/>
<circle cx="156.9" cy="503.4" r="1.0" fill="#3f9b3b"/>
<path d="M180.2 499.3v4.4M178.7 501.5h3" stroke="#3f9b3b" stroke-width="0.7"/>
<circle cx="180.2" cy="501.5" r="1.0" fill="#3f9b3b"/>
<path d="M170.1 498.5v4.4M168.6 500.7h3" stroke="#3f9b3b" stroke-width="0.7"/>
<circle cx="170.1" cy="500.7" r="1.0" fill="#3f9b3b"/>
<path d="M184.3 494.4v4.4M182.8 496.6h3" stroke="#3f9b3b" stroke-width="0.7"/>
<circle cx="184.3" cy="496.6" r="1.0" fill="#3f9b3b"/>
<path d="M108.9 529.1v4.4M107.4 531.3h3" stroke="#3f9b3b" stroke-width="0.7"/>
<circle cx="108.9" cy="531.3" r="1.0" fill="#3f9b3b"/>
<path d="M189 498.5v4.4M187.5 500.7h3" stroke="#3f9b3b" stroke-width="0.7"/>
<circle cx="189" cy="500.7" r="1.0" fill="#3f9b3b"/>
<path d="M149.6 506.1v4.4M148.1 508.3h3" stroke="#3f9b3b" stroke-width="0.7"/>
<circle cx="149.6" cy="508.3" r="1.0" fill="#3f9b3b"/>
<path d="M114.6 526.2v4.4M113.1 528.4h3" stroke="#3f9b3b" stroke-width="0.7"/>
<circle cx="114.6" cy="528.4" r="1.0" fill="#3f9b3b"/>
<path d="M181.7 497.8v4.4M180.2 500h3" stroke="#3f9b3b" stroke-width="0.7"/>
<circle cx="181.7" cy="500" r="1.0" fill="#3f9b3b"/>
<path d="M117.9 524.4v4.4M116.4 526.6h3" stroke="#3f9b3b" stroke-width="0.7"/>
<circle cx="117.9" cy="526.6" r="1.0" fill="#3f9b3b"/>
<path d="M164.6 500.3v4.4M163.1 502.5h3" stroke="#3f9b3b" stroke-width="0.7"/>
<circle cx="164.6" cy="502.5" r="1.0" fill="#3f9b3b"/>
<path d="M135.3 511.6v4.4M133.8 513.8h3" stroke="#3f9b3b" stroke-width="0.7"/>
<circle cx="135.3" cy="513.8" r="1.0" fill="#3f9b3b"/>
<path d="M104.1 536.6v4.4M102.6 538.8h3" stroke="#3f9b3b" stroke-width="0.7"/>
<circle cx="104.1" cy="538.8" r="1.0" fill="#3f9b3b"/>
<path d="M165.3 497.4v4.4M163.8 499.6h3" stroke="#3f9b3b" stroke-width="0.7"/>
<circle cx="165.3" cy="499.6" r="1.0" fill="#3f9b3b"/>
<path d="M182.5 497v4.4M181 499.2h3" stroke="#3f9b3b" stroke-width="0.7"/>
<circle cx="182.5" cy="499.2" r="1.0" fill="#3f9b3b"/>
<path d="M177.2 496v4.4M175.7 498.2h3" stroke="#3f9b3b" stroke-width="0.7"/>
<circle cx="177.2" cy="498.2" r="1.0" fill="#3f9b3b"/>
<path d="M189.2 499.7v4.4M187.7 501.9h3" stroke="#3f9b3b" stroke-width="0.7"/>
<circle cx="189.2" cy="501.9" r="1.0" fill="#3f9b3b"/>
<path d="M111.6 527.7v4.4M110.1 529.9h3" stroke="#3f9b3b" stroke-width="0.7"/>
<circle cx="111.6" cy="529.9" r="1.0" fill="#3f9b3b"/>
<path d="M113.6 526v4.4M112.1 528.2h3" stroke="#3f9b3b" stroke-width="0.7"/>
<circle cx="113.6" cy="528.2" r="1.0" fill="#3f9b3b"/>
<path d="M113 528.1v4.4M111.5 530.3h3" stroke="#3f9b3b" stroke-width="0.7"/>
<circle cx="113" cy="530.3" r="1.0" fill="#3f9b3b"/>
<path d="M143.7 507.3v4.4M142.2 509.5h3" stroke="#3f9b3b" stroke-width="0.7"/>
<circle cx="143.7" cy="509.5" r="1.0" fill="#3f9b3b"/>
<path d="M185 496.8v4.4M183.5 499h3" stroke="#3f9b3b" stroke-width="0.7"/>
<circle cx="185" cy="499" r="1.0" fill="#3f9b3b"/>
<path d="M162.6 498.1v4.4M161.1 500.3h3" stroke="#3f9b3b" stroke-width="0.7"/>
<circle cx="162.6" cy="500.3" r="1.0" fill="#3f9b3b"/>
<path d="M176.8 497.3v4.4M175.3 499.5h3" stroke="#3f9b3b" stroke-width="0.7"/>
<circle cx="176.8" cy="499.5" r="1.0" fill="#3f9b3b"/>
<path d="M128.2 514.4v4.4M126.7 516.6h3" stroke="#3f9b3b" stroke-width="0.7"/>
<circle cx="128.2" cy="516.6" r="1.0" fill="#3f9b3b"/>
<path d="M181.7 495.8v4.4M180.2 498h3" stroke="#3f9b3b" stroke-width="0.7"/>
<circle cx="181.7" cy="498" r="1.0" fill="#3f9b3b"/>
<path d="M189.1 497.7v4.4M187.6 499.9h3" stroke="#3f9b3b" stroke-width="0.7"/>
<circle cx="189.1" cy="499.9" r="1.0" fill="#3f9b3b"/>
<path d="M111 530.8v4.4M109.5 533h3" stroke="#3f9b3b" stroke-width="0.7"/>
<circle cx="111" cy="533" r="1.0" fill="#3f9b3b"/>
<path d="M109 527.4v4.4M107.5 529.6h3" stroke="#3f9b3b" stroke-width="0.7"/>
<circle cx="109" cy="529.6" r="1.0" fill="#3f9b3b"/>
<path d="M116.8 523.4v4.4M115.3 525.6h3" stroke="#3f9b3b" stroke-width="0.7"/>
<circle cx="116.8" cy="525.6" r="1.0" fill="#3f9b3b"/>
<path d="M141.5 507.6v4.4M140 509.8h3" stroke="#3f9b3b" stroke-width="0.7"/>
<circle cx="141.5" cy="509.8" r="1.0" fill="#3f9b3b"/>
<path d="M101.4 535.3v4.4M99.9 537.5h3" stroke="#3f9b3b" stroke-width="0.7"/>
<circle cx="101.4" cy="537.5" r="1.0" fill="#3f9b3b"/>
<path d="M135.2 512.7v4.4M133.7 514.9h3" stroke="#3f9b3b" stroke-width="0.7"/>
<circle cx="135.2" cy="514.9" r="1.0" fill="#3f9b3b"/>
<path d="M142.7 508v4.4M141.2 510.2h3" stroke="#3f9b3b" stroke-width="0.7"/>
<circle cx="142.7" cy="510.2" r="1.0" fill="#3f9b3b"/>
<path d="M189.1 496.4v4.4M187.6 498.6h3" stroke="#3f9b3b" stroke-width="0.7"/>
<circle cx="189.1" cy="498.6" r="1.0" fill="#3f9b3b"/>
<path d="M188.7 497.6v4.4M187.2 499.8h3" stroke="#3f9b3b" stroke-width="0.7"/>
<circle cx="188.7" cy="499.8" r="1.0" fill="#3f9b3b"/>
<path d="M141.3 505.7v4.4M139.8 507.9h3" stroke="#3f9b3b" stroke-width="0.7"/>
<circle cx="141.3" cy="507.9" r="1.0" fill="#3f9b3b"/>
<path d="M178.9 498.8v4.4M177.4 501h3" stroke="#3f9b3b" stroke-width="0.7"/>
<circle cx="178.9" cy="501" r="1.0" fill="#3f9b3b"/>
<path d="M168.4 499.1v4.4M166.9 501.3h3" stroke="#c9312c" stroke-width="0.7"/>
<circle cx="168.4" cy="501.3" r="1.0" fill="#c9312c"/>
<path d="M161.5 498.1v4.4M160 500.3h3" stroke="#c9312c" stroke-width="0.7"/>
<circle cx="161.5" cy="500.3" r="1.0" fill="#c9312c"/>
<path d="M130.9 517.9v4.4M129.4 520.1h3" stroke="#c9312c" stroke-width="0.7"/>
<circle cx="130.9" cy="520.1" r="1.0" fill="#c9312c"/>
<path d="M127 515v4.4M125.5 517.2h3" stroke="#c9312c" stroke-width="0.7"/>
<circle cx="127" cy="517.2" r="1.0" fill="#c9312c"/>
<path d="M146.8 507.2v4.4M145.3 509.4h3" stroke="#c9312c" stroke-width="0.7"/>
<circle cx="146.8" cy="509.4" r="1.0" fill="#c9312c"/>
<path d="M128.2 514.8v4.4M126.7 517h3" stroke="#c9312c" stroke-width="0.7"/>
<circle cx="128.2" cy="517" r="1.0" fill="#c9312c"/>
<path d="M118.6 524.4v4.4M117.1 526.6h3" stroke="#c9312c" stroke-width="0.7"/>
<circle cx="118.6" cy="526.6" r="1.0" fill="#c9312c"/>
<path d="M102.8 534.4v4.4M101.3 536.6h3" stroke="#c9312c" stroke-width="0.7"/>
<circle cx="102.8" cy="536.6" r="1.0" fill="#c9312c"/>
<path d="M189.6 498.6v4.4M188.1 500.8h3" stroke="#c9312c" stroke-width="0.7"/>
<circle cx="189.6" cy="500.8" r="1.0" fill="#c9312c"/>
<path d="M180.1 491.8v4.4M178.6 494h3" stroke="#c9312c" stroke-width="0.7"/>
<circle cx="180.1" cy="494" r="1.0" fill="#c9312c"/>
<path d="M163.6 498.8v4.4M162.1 501h3" stroke="#c9312c" stroke-width="0.7"/>
<circle cx="163.6" cy="501" r="1.0" fill="#c9312c"/>
<path d="M103.2 535.3v4.4M101.7 537.5h3" stroke="#c9312c" stroke-width="0.7"/>
<circle cx="103.2" cy="537.5" r="1.0" fill="#c9312c"/>
<path d="M137.6 511.3v4.4M136.1 513.5h3" stroke="#c9312c" stroke-width="0.7"/>
<circle cx="137.6" cy="513.5" r="1.0" fill="#c9312c"/>
<path d="M128.3 515.2v4.4M126.8 517.4h3" stroke="#c9312c" stroke-width="0.7"/>
<circle cx="128.3" cy="517.4" r="1.0" fill="#c9312c"/>
<path d="M129.6 514v4.4M128.1 516.2h3" stroke="#c9312c" stroke-width="0.7"/>
<circle cx="129.6" cy="516.2" r="1.0" fill="#c9312c"/>
<path d="M106.3 531.9v4.4M104.8 534.1h3" stroke="#c9312c" stroke-width="0.7"/>
<circle cx="106.3" cy="534.1" r="1.0" fill="#c9312c"/>
<path d="M106.8 532.9v4.4M105.3 535.1h3" stroke="#c9312c" stroke-width="0.7"/>
<circle cx="106.8" cy="535.1" r="1.0" fill="#c9312c"/>
<path d="M142.7 509.6v4.4M141.2 511.8h3" stroke="#c9312c" stroke-width="0.7"/>
<circle cx="142.7" cy="511.8" r="1.0" fill="#c9312c"/>
<path d="M109.9 527.4v4.4M108.4 529.6h3" stroke="#c9312c" stroke-width="0.7"/>
<circle cx="109.9" cy="529.6" r="1.0" fill="#c9312c"/>
<path d="M174.8 497.5v4.4M173.3 499.7h3" stroke="#c9312c" stroke-width="0.7"/>
<circle cx="174.8" cy="499.7" r="1.0" fill="#c9312c"/>
<path d="M171.2 496.1v4.4M169.7 498.3h3" stroke="#c9312c" stroke-width="0.7"/>
<circle cx="171.2" cy="498.3" r="1.0" fill="#c9312c"/>
<path d="M164.2 497.9v4.4M162.7 500.1h3" stroke="#c9312c" stroke-width="0.7"/>
<circle cx="164.2" cy="500.1" r="1.0" fill="#c9312c"/>
<path d="M126 516.3v4.4M124.5 518.5h3" stroke="#c9312c" stroke-width="0.7"/>
<circle cx="126" cy="518.5" r="1.0" fill="#c9312c"/>
<path d="M148.6 506.9v4.4M147.1 509.1h3" stroke="#c9312c" stroke-width="0.7"/>
<circle cx="148.6" cy="509.1" r="1.0" fill="#c9312c"/>
<path d="M163.2 503v4.4M161.7 505.2h3" stroke="#c9312c" stroke-width="0.7"/>
<circle cx="163.2" cy="505.2" r="1.0" fill="#c9312c"/>
<path d="M107.9 530.3v4.4M106.4 532.5h3" stroke="#c9312c" stroke-width="0.7"/>
<circle cx="107.9" cy="532.5" r="1.0" fill="#c9312c"/>
<path d="M151.5 502.2v4.4M150 504.4h3" stroke="#c9312c" stroke-width="0.7"/>
<circle cx="151.5" cy="504.4" r="1.0" fill="#c9312c"/>
<path d="M129.3 515.4v4.4M127.8 517.6h3" stroke="#c9312c" stroke-width="0.7"/>
<circle cx="129.3" cy="517.6" r="1.0" fill="#c9312c"/>
<path d="M140.2 507.6v4.4M138.7 509.8h3" stroke="#c9312c" stroke-width="0.7"/>
<circle cx="140.2" cy="509.8" r="1.0" fill="#c9312c"/>
<path d="M134.2 515.3v4.4M132.7 517.5h3" stroke="#c9312c" stroke-width="0.7"/>
<circle cx="134.2" cy="517.5" r="1.0" fill="#c9312c"/>
<path d="M168.3 497.2v4.4M166.8 499.4h3" stroke="#c9312c" stroke-width="0.7"/>
<circle cx="168.3" cy="499.4" r="1.0" fill="#c9312c"/>
<path d="M121.2 522.1v4.4M119.7 524.3h3" stroke="#c9312c" stroke-width="0.7"/>
<circle cx="121.2" cy="524.3" r="1.0" fill="#c9312c"/>
<path d="M159.7 500.7v4.4M158.2 502.9h3" stroke="#c9312c" stroke-width="0.7"/>
<circle cx="159.7" cy="502.9" r="1.0" fill="#c9312c"/>
<path d="M165.7 500.7v4.4M164.2 502.9h3" stroke="#c9312c" stroke-width="0.7"/>
<circle cx="165.7" cy="502.9" r="1.0" fill="#c9312c"/>
<path d="M120.2 525.1v4.4M118.7 527.3h3" stroke="#c9312c" stroke-width="0.7"/>
<circle cx="120.2" cy="527.3" r="1.0" fill="#c9312c"/>
<path d="M169.9 499.7v4.4M168.4 501.9h3" stroke="#c9312c" stroke-width="0.7"/>
<circle cx="169.9" cy="501.9" r="1.0" fill="#c9312c"/>
<path d="M182.7 497.2v4.4M181.2 499.4h3" stroke="#c9312c" stroke-width="0.7"/>
<circle cx="182.7" cy="499.4" r="1.0" fill="#c9312c"/>
<path d="M101.5 535.5v4.4M100 537.7h3" stroke="#c9312c" stroke-width="0.7"/>
<circle cx="101.5" cy="537.7" r="1.0" fill="#c9312c"/>
<path d="M187.6 497.8v4.4M186.1 500h3" stroke="#c9312c" stroke-width="0.7"/>
<circle cx="187.6" cy="500" r="1.0" fill="#c9312c"/>
<path d="M179.7 495.7v4.4M178.2 497.9h3" stroke="#c9312c" stroke-width="0.7"/>
<circle cx="179.7" cy="497.9" r="1.0" fill="#c9312c"/>
<path d="M111.9 529.9v4.4M110.4 532.1h3" stroke="#c9312c" stroke-width="0.7"/>
<circle cx="111.9" cy="532.1" r="1.0" fill="#c9312c"/>
<path d="M175.7 498.4v4.4M174.2 500.6h3" stroke="#c9312c" stroke-width="0.7"/>
<circle cx="175.7" cy="500.6" r="1.0" fill="#c9312c"/>
<path d="M113 525.9v4.4M111.5 528.1h3" stroke="#c9312c" stroke-width="0.7"/>
<circle cx="113" cy="528.1" r="1.0" fill="#c9312c"/>
<path d="M169.2 496v4.4M167.7 498.2h3" stroke="#c9312c" stroke-width="0.7"/>
<circle cx="169.2" cy="498.2" r="1.0" fill="#c9312c"/>
<path d="M185.6 499.6v4.4M184.1 501.8h3" stroke="#c9312c" stroke-width="0.7"/>
<circle cx="185.6" cy="501.8" r="1.0" fill="#c9312c"/>
<path d="M177.9 498.6v4.4M176.4 500.8h3" stroke="#c9312c" stroke-width="0.7"/>
<circle cx="177.9" cy="500.8" r="1.0" fill="#c9312c"/>
<path d="M115 527.4v4.4M113.5 529.6h3" stroke="#c9312c" stroke-width="0.7"/>
<circle cx="115" cy="529.6" r="1.0" fill="#c9312c"/>
<path d="M112.3 527.9v4.4M110.8 530.1h3" stroke="#c9312c" stroke-width="0.7"/>
<circle cx="112.3" cy="530.1" r="1.0" fill="#c9312c"/>
<path d="M177.2 494.3v4.4M175.7 496.5h3" stroke="#c9312c" stroke-width="0.7"/>
<circle cx="177.2" cy="496.5" r="1.0" fill="#c9312c"/>
<path d="M166.1 500.1v4.4M164.6 502.3h3" stroke="#c9312c" stroke-width="0.7"/>
<circle cx="166.1" cy="502.3" r="1.0" fill="#c9312c"/>
<path d="M189.1 499.2v4.4M187.6 501.4h3" stroke="#c9312c" stroke-width="0.7"/>
<circle cx="189.1" cy="501.4" r="1.0" fill="#c9312c"/>
<path d="M175.1 497.2v4.4M173.6 499.4h3" stroke="#c9312c" stroke-width="0.7"/>
<circle cx="175.1" cy="499.4" r="1.0" fill="#c9312c"/>
<path d="M148.3 504.6v4.4M146.8 506.8h3" stroke="#c9312c" stroke-width="0.7"/>
<circle cx="148.3" cy="506.8" r="1.0" fill="#c9312c"/>
<path d="M143.7 507.7v4.4M142.2 509.9h3" stroke="#c9312c" stroke-width="0.7"/>
<circle cx="143.7" cy="509.9" r="1.0" fill="#c9312c"/>
<path d="M123.8 520.9v4.4M122.3 523.1h3" stroke="#c9312c" stroke-width="0.7"/>
<circle cx="123.8" cy="523.1" r="1.0" fill="#c9312c"/>
<path d="M105.3 533v4.4M103.8 535.2h3" stroke="#c9312c" stroke-width="0.7"/>
<circle cx="105.3" cy="535.2" r="1.0" fill="#c9312c"/>
<path d="M116.3 524.6v4.4M114.8 526.8h3" stroke="#c9312c" stroke-width="0.7"/>
<circle cx="116.3" cy="526.8" r="1.0" fill="#c9312c"/>
<line x1="134.8" y1="516.9" x2="154.8" y2="516.9" stroke="#9370c8" stroke-width="0.9"/><line x1="144.8" y1="515.9" x2="144.8" y2="517.9" stroke="#9370c8" stroke-width="0.9"/><circle cx="144.8" cy="516.9" r="1" fill="#9370c8"/>
<line x1="185.1" y1="504.7" x2="188.1" y2="504.7" stroke="#9370c8" stroke-width="0.9"/><line x1="186.6" y1="502.7" x2="186.6" y2="506.7" stroke="#9370c8" stroke-width="0.9"/><circle cx="186.6" cy="504.7" r="1" fill="#9370c8"/>
<line x1="192.3" y1="504.7" x2="195.3" y2="504.7" stroke="#9370c8" stroke-width="0.9"/><line x1="193.8" y1="502.7" x2="193.8" y2="506.7" stroke="#9370c8" stroke-width="0.9"/><circle cx="193.8" cy="504.7" r="1" fill="#9370c8"/>
<line x1="194.2" y1="505.3" x2="197.2" y2="505.3" stroke="#9370c8" stroke-width="0.9"/><line x1="195.7" y1="503.3" x2="195.7" y2="507.3" stroke="#9370c8" stroke-width="0.9"/><circle cx="195.7" cy="505.3" r="1" fill="#9370c8"/>
<line x1="198.5" y1="502" x2="200.9" y2="502" stroke="#9370c8" stroke-width="0.9"/><line x1="199.7" y1="497.5" x2="199.7" y2="504.7" stroke="#9370c8" stroke-width="0.9"/><circle cx="199.7" cy="502" r="1" fill="#9370c8"/>
<line x1="196.5" y1="511.2" x2="198.9" y2="511.2" stroke="#9370c8" stroke-width="0.9"/><line x1="197.7" y1="509.2" x2="197.7" y2="515.8" stroke="#9370c8" stroke-width="0.9"/><circle cx="197.7" cy="511.2" r="1" fill="#9370c8"/>
<line x1="199.5" y1="513.2" x2="201.9" y2="513.2" stroke="#9370c8" stroke-width="0.9"/><line x1="200.7" y1="507.3" x2="200.7" y2="522.4" stroke="#9370c8" stroke-width="0.9"/><circle cx="200.7" cy="513.2" r="1" fill="#9370c8"/>
<line x1="201.1" y1="502.7" x2="203.5" y2="502.7" stroke="#9370c8" stroke-width="0.9"/><line x1="202.3" y1="497.5" x2="202.3" y2="510" stroke="#9370c8" stroke-width="0.9"/><circle cx="202.3" cy="502.7" r="1" fill="#9370c8"/>
<line x1="203" y1="506.6" x2="205.4" y2="506.6" stroke="#9370c8" stroke-width="0.9"/><line x1="204.2" y1="503.6" x2="204.2" y2="509.6" stroke="#9370c8" stroke-width="0.9"/><circle cx="204.2" cy="506.6" r="1" fill="#9370c8"/>
<line x1="205" y1="502.7" x2="207.4" y2="502.7" stroke="#9370c8" stroke-width="0.9"/><line x1="206.2" y1="497" x2="206.2" y2="510" stroke="#9370c8" stroke-width="0.9"/><circle cx="206.2" cy="502.7" r="1" fill="#9370c8"/>
<line x1="211.6" y1="505.3" x2="214" y2="505.3" stroke="#9370c8" stroke-width="0.9"/><line x1="212.8" y1="500" x2="212.8" y2="511.2" stroke="#9370c8" stroke-width="0.9"/><circle cx="212.8" cy="505.3" r="1" fill="#9370c8"/>
<line x1="207" y1="518.4" x2="209.4" y2="518.4" stroke="#9370c8" stroke-width="0.9"/><line x1="208.2" y1="512.5" x2="208.2" y2="527.6" stroke="#9370c8" stroke-width="0.9"/><circle cx="208.2" cy="518.4" r="1" fill="#9370c8"/>
<line x1="210" y1="519.7" x2="212.4" y2="519.7" stroke="#9370c8" stroke-width="0.9"/><line x1="211.2" y1="513.2" x2="211.2" y2="533.5" stroke="#9370c8" stroke-width="0.9"/><circle cx="211.2" cy="519.7" r="1" fill="#9370c8"/>
<line x1="214.2" y1="519.1" x2="216.6" y2="519.1" stroke="#9370c8" stroke-width="0.9"/><line x1="215.4" y1="512.5" x2="215.4" y2="528.9" stroke="#9370c8" stroke-width="0.9"/><circle cx="215.4" cy="519.1" r="1" fill="#9370c8"/>
<line x1="217.6" y1="533.8" x2="226.2" y2="533.8" stroke="#9370c8" stroke-width="0.9"/><line x1="221.9" y1="524.3" x2="221.9" y2="550.5" stroke="#9370c8" stroke-width="0.9"/><circle cx="221.9" cy="533.8" r="1" fill="#9370c8"/>
<line x1="226.1" y1="555.8" x2="244.1" y2="555.8" stroke="#9370c8" stroke-width="0.9"/><line x1="235.1" y1="544" x2="235.1" y2="590" stroke="#9370c8" stroke-width="0.9"/><circle cx="235.1" cy="555.8" r="1" fill="#9370c8"/>
<path d="M190.6 511.9h5M193.1 509.2v9.2" stroke="#3f9b3b" stroke-width="0.9"/>
<line x1="196.4" y1="493.5" x2="196.4" y2="547.9" stroke="#c8403a" stroke-width="0.9"/>
<rect x="53.2" y="457.7" width="216" height="132.3" fill="none" stroke="#8a8a8a" stroke-width="1.1"/>
<text x="61.1" y="598.2" font-family="Liberation Sans" font-size="6.2" fill="#333" text-anchor="middle">10<tspan font-size="4.3" dy="-2.6">1</tspan></text>
<text x="130.1" y="598.2" font-family="Liberation Sans" font-size="6.2" fill="#333" text-anchor="middle">10<tspan font-size="4.3" dy="-2.6">2</tspan></text>
<text x="199.1" y="598.2" font-family="Liberation Sans" font-size="6.2" fill="#333" text-anchor="middle">10<tspan font-size="4.3" dy="-2.6">3</tspan></text>
<text x="268.1" y="598.2" font-family="Liberation Sans" font-size="6.2" fill="#333" text-anchor="middle">10<tspan font-size="4.3" dy="-2.6">4</tspan></text>
<text x="48.7" y="592.9" font-family="Liberation Sans" font-size="7" fill="#333" text-anchor="end">10<tspan font-size="4.9" dy="-2.9">2</tspan></text>
<line x1="50.7" y1="590.4" x2="53.2" y2="590.4" stroke="#8a8a8a" stroke-width="0.8"/>
<line x1="51.7" y1="577.1" x2="53.2" y2="577.1" stroke="#aaa" stroke-width="0.6"/>
<line x1="51.7" y1="569.3" x2="53.2" y2="569.3" stroke="#aaa" stroke-width="0.6"/>
<line x1="51.7" y1="563.8" x2="53.2" y2="563.8" stroke="#aaa" stroke-width="0.6"/>
<line x1="51.7" y1="559.5" x2="53.2" y2="559.5" stroke="#aaa" stroke-width="0.6"/>
<line x1="51.7" y1="556" x2="53.2" y2="556" stroke="#aaa" stroke-width="0.6"/>
<line x1="51.7" y1="553" x2="53.2" y2="553" stroke="#aaa" stroke-width="0.6"/>
<line x1="51.7" y1="550.5" x2="53.2" y2="550.5" stroke="#aaa" stroke-width="0.6"/>
<line x1="51.7" y1="548.2" x2="53.2" y2="548.2" stroke="#aaa" stroke-width="0.6"/>
<text x="48.7" y="548.7" font-family="Liberation Sans" font-size="7" fill="#333" text-anchor="end">10<tspan font-size="4.9" dy="-2.9">3</tspan></text>
<line x1="50.7" y1="546.2" x2="53.2" y2="546.2" stroke="#8a8a8a" stroke-width="0.8"/>
<line x1="51.7" y1="532.9" x2="53.2" y2="532.9" stroke="#aaa" stroke-width="0.6"/>
<line x1="51.7" y1="525.1" x2="53.2" y2="525.1" stroke="#aaa" stroke-width="0.6"/>
<line x1="51.7" y1="519.6" x2="53.2" y2="519.6" stroke="#aaa" stroke-width="0.6"/>
<line x1="51.7" y1="515.3" x2="53.2" y2="515.3" stroke="#aaa" stroke-width="0.6"/>
<line x1="51.7" y1="511.8" x2="53.2" y2="511.8" stroke="#aaa" stroke-width="0.6"/>
<line x1="51.7" y1="508.8" x2="53.2" y2="508.8" stroke="#aaa" stroke-width="0.6"/>
<line x1="51.7" y1="506.3" x2="53.2" y2="506.3" stroke="#aaa" stroke-width="0.6"/>
<line x1="51.7" y1="504" x2="53.2" y2="504" stroke="#aaa" stroke-width="0.6"/>
<text x="48.7" y="504.5" font-family="Liberation Sans" font-size="7" fill="#333" text-anchor="end">10<tspan font-size="4.9" dy="-2.9">4</tspan></text>
<line x1="50.7" y1="502" x2="53.2" y2="502" stroke="#8a8a8a" stroke-width="0.8"/>
<line x1="51.7" y1="488.7" x2="53.2" y2="488.7" stroke="#aaa" stroke-width="0.6"/>
<line x1="51.7" y1="480.9" x2="53.2" y2="480.9" stroke="#aaa" stroke-width="0.6"/>
<line x1="51.7" y1="475.4" x2="53.2" y2="475.4" stroke="#aaa" stroke-width="0.6"/>
<line x1="51.7" y1="471.1" x2="53.2" y2="471.1" stroke="#aaa" stroke-width="0.6"/>
<line x1="51.7" y1="467.6" x2="53.2" y2="467.6" stroke="#aaa" stroke-width="0.6"/>
<line x1="51.7" y1="464.6" x2="53.2" y2="464.6" stroke="#aaa" stroke-width="0.6"/>
<line x1="51.7" y1="462.1" x2="53.2" y2="462.1" stroke="#aaa" stroke-width="0.6"/>
<line x1="51.7" y1="459.8" x2="53.2" y2="459.8" stroke="#aaa" stroke-width="0.6"/>
<text x="48.7" y="460.3" font-family="Liberation Sans" font-size="7" fill="#333" text-anchor="end">10<tspan font-size="4.9" dy="-2.9">5</tspan></text>
<line x1="50.7" y1="457.8" x2="53.2" y2="457.8" stroke="#8a8a8a" stroke-width="0.8"/>
<line x1="59.9" y1="590" x2="59.9" y2="592.5" stroke="#8a8a8a" stroke-width="0.8"/>
<line x1="128.9" y1="590" x2="128.9" y2="592.5" stroke="#8a8a8a" stroke-width="0.8"/>
<line x1="197.9" y1="590" x2="197.9" y2="592.5" stroke="#8a8a8a" stroke-width="0.8"/>
<line x1="266.9" y1="590" x2="266.9" y2="592.5" stroke="#8a8a8a" stroke-width="0.8"/>
<rect x="55.1" y="460" width="45.7" height="40.2" rx="1" fill="#fff" stroke="#d0d0d0" stroke-width="0.7"/>
<line x1="57.1" y1="465" x2="65.6" y2="465" stroke="#7a3b2e" stroke-width="1" stroke-dasharray="3 1 1 1"/>
<text x="69.1" y="466.7" font-family="Liberation Sans" font-size="4.7" fill="#222">Cut_Powerlaw</text>
<line x1="58.8" y1="471.1" x2="63.8" y2="471.1" stroke="#1f77b4" stroke-width="0.8"/><line x1="61.3" y1="468.6" x2="61.3" y2="473.6" stroke="#1f77b4" stroke-width="0.8"/>
<circle cx="61.3" cy="471.1" r="1.2" fill="#1f77b4"/>
<text x="69.1" y="472.7" font-family="Liberation Sans" font-size="4.7" fill="#222">NAI3</text>
<line x1="58.8" y1="477.1" x2="63.8" y2="477.1" stroke="#ff7f0e" stroke-width="0.8"/><line x1="61.3" y1="474.6" x2="61.3" y2="479.6" stroke="#ff7f0e" stroke-width="0.8"/>
<circle cx="61.3" cy="477.1" r="1.2" fill="#ff7f0e"/>
<text x="69.1" y="478.8" font-family="Liberation Sans" font-size="4.7" fill="#222">NAI4</text>
<line x1="58.8" y1="483.1" x2="63.8" y2="483.1" stroke="#2ca02c" stroke-width="0.8"/><line x1="61.3" y1="480.6" x2="61.3" y2="485.6" stroke="#2ca02c" stroke-width="0.8"/>
<circle cx="61.3" cy="483.1" r="1.2" fill="#2ca02c"/>
<text x="69.1" y="484.8" font-family="Liberation Sans" font-size="4.7" fill="#222">NAI7</text>
<line x1="58.8" y1="489.1" x2="63.8" y2="489.1" stroke="#d62728" stroke-width="0.8"/><line x1="61.3" y1="486.6" x2="61.3" y2="491.6" stroke="#d62728" stroke-width="0.8"/>
<circle cx="61.3" cy="489.1" r="1.2" fill="#d62728"/>
<text x="69.1" y="490.8" font-family="Liberation Sans" font-size="4.7" fill="#222">NAI8</text>
<line x1="58.8" y1="495.2" x2="63.8" y2="495.2" stroke="#9467bd" stroke-width="0.8"/><line x1="61.3" y1="492.7" x2="61.3" y2="497.7" stroke="#9467bd" stroke-width="0.8"/>
<circle cx="61.3" cy="495.2" r="1.2" fill="#9467bd"/>
<text x="69.1" y="496.9" font-family="Liberation Sans" font-size="4.7" fill="#222">BGO0</text>
<text x="122.2" y="477.6" font-family="Liberation Serif" font-size="20.3" fill="#111" stroke="#111" stroke-width="0.3">vNS-rise I</text>
<polyline clip-path="url(#clip1)" points="294.5,531.9 295.2,531.7 295.9,531.5 296.6,531.3 297.3,531.1 298,530.9 298.7,530.7 299.4,530.5 300.1,530.3 300.7,530.1 301.4,529.9 302.1,529.7 302.8,529.5 303.5,529.3 304.2,529.1 304.9,528.9 305.6,528.7 306.3,528.5 307,528.3 307.7,528.1 308.4,527.9 309.1,527.7 309.8,527.5 310.5,527.3 311.2,527.1 311.8,526.9 312.5,526.7 313.2,526.5 313.9,526.4 314.6,526.2 315.3,526 316,525.8 316.7,525.6 317.4,525.4 318.1,525.2 318.8,525 319.5,524.8 320.2,524.6 320.9,524.4 321.6,524.2 322.3,524 322.9,523.8 323.6,523.7 324.3,523.5 325,523.3 325.7,523.1 326.4,522.9 327.1,522.7 327.8,522.5 328.5,522.3 329.2,522.1 329.9,522 330.6,521.8 331.3,521.6 332,521.4 332.7,521.2 333.4,521 334,520.9 334.7,520.7 335.4,520.5 336.1,520.3 336.8,520.1 337.5,519.9 338.2,519.8 338.9,519.6 339.6,519.4 340.3,519.2 341,519.1 341.7,518.9 342.4,518.7 343.1,518.5 343.8,518.4 344.5,518.2 345.1,518 345.8,517.9 346.5,517.7 347.2,517.5 347.9,517.3 348.6,517.2 349.3,517 350,516.9 350.7,516.7 351.4,516.5 352.1,516.4 352.8,516.2 353.5,516.1 354.2,515.9 354.9,515.7 355.6,515.6 356.3,515.4 356.9,515.3 357.6,515.1 358.3,515 359,514.9 359.7,514.7 360.4,514.6 361.1,514.4 361.8,514.3 362.5,514.1 363.2,514 363.9,513.9 364.6,513.7 365.3,513.6 366,513.5 366.7,513.4 367.4,513.2 368,513.1 368.7,513 369.4,512.9 370.1,512.8 370.8,512.7 371.5,512.6 372.2,512.5 372.9,512.4 373.6,512.3 374.3,512.2 375,512.1 375.7,512 376.4,511.9 377.1,511.8 377.8,511.7 378.5,511.6 379.1,511.6 379.8,511.5 380.5,511.4 381.2,511.4 381.9,511.3 382.6,511.3 383.3,511.2 384,511.2 384.7,511.1 385.4,511.1 386.1,511 386.8,511 387.5,511 388.2,511 388.9,511 389.6,511 390.2,510.9 390.9,511 391.6,511 392.3,511 393,511 393.7,511 394.4,511.1 395.1,511.1 395.8,511.1 396.5,511.2 397.2,511.3 397.9,511.3 398.6,511.4 399.3,511.5 400,511.6 400.7,511.7 401.3,511.8 402,511.9 402.7,512 403.4,512.1 404.1,512.3 404.8,512.4 405.5,512.6 406.2,512.8 406.9,513 407.6,513.1 408.3,513.4 409,513.6 409.7,513.8 410.4,514 411.1,514.3 411.8,514.5 412.4,514.8 413.1,515.1 413.8,515.4 414.5,515.7 415.2,516.1 415.9,516.4 416.6,516.8 417.3,517.1 418,517.5 418.7,517.9 419.4,518.4 420.1,518.8 420.8,519.3 421.5,519.7 422.2,520.2 422.9,520.8 423.6,521.3 424.2,521.8 424.9,522.4 425.6,523 426.3,523.6 427,524.3 427.7,524.9 428.4,525.6 429.1,526.4 429.8,527.1 430.5,527.9 431.2,528.6 431.9,529.5 432.6,530.3 433.3,531.2 434,532.1 434.7,533 435.3,534 436,535 436.7,536 437.4,537.1 438.1,538.2 438.8,539.3 439.5,540.5 440.2,541.7 440.9,543 441.6,544.3 442.3,545.6 443,547 443.7,548.4 444.4,549.8 445.1,551.3 445.8,552.9 446.4,554.5 447.1,556.1 447.8,557.8 448.5,559.6 449.2,561.4 449.9,563.3 450.6,565.2 451.3,567.2 452,569.2 452.7,571.3 453.4,573.4 454.1,575.7 454.8,578 455.5,580.3 456.2,582.7 456.9,585.2 457.5,587.8 458.2,590.5 458.9,593.2 459.6,596 460.3,598.9 461,601.9 461.7,604.9 462.4,608.1 463.1,611.3 463.8,614.7 464.5,618.1 465.2,621.7 465.9,625.3 466.6,627.1" fill="none" stroke="#3a6fb8" stroke-width="1.4" stroke-dasharray="4 2.5"/>
<polyline clip-path="url(#clip1)" points="294.5,576.2 295.2,575.2 295.9,574.2 296.6,573.1 297.3,572.1 298,571.1 298.7,570.1 299.4,569 300.1,568 300.7,567 301.4,566 302.1,565 302.8,564 303.5,563 304.2,562 304.9,561 305.6,560 306.3,559 307,558 307.7,557 308.4,556 309.1,555.1 309.8,554.1 310.5,553.1 311.2,552.1 311.8,551.2 312.5,550.2 313.2,549.3 313.9,548.3 314.6,547.4 315.3,546.5 316,545.5 316.7,544.6 317.4,543.7 318.1,542.8 318.8,541.8 319.5,540.9 320.2,540 320.9,539.2 321.6,538.3 322.3,537.4 322.9,536.5 323.6,535.7 324.3,534.8 325,534 325.7,533.1 326.4,532.3 327.1,531.5 327.8,530.7 328.5,529.8 329.2,529.1 329.9,528.3 330.6,527.5 331.3,526.7 332,526 332.7,525.2 333.4,524.5 334,523.8 334.7,523.1 335.4,522.4 336.1,521.7 336.8,521 337.5,520.4 338.2,519.7 338.9,519.1 339.6,518.5 340.3,517.9 341,517.3 341.7,516.8 342.4,516.2 343.1,515.7 343.8,515.2 344.5,514.7 345.1,514.3 345.8,513.8 346.5,513.4 347.2,513 347.9,512.6 348.6,512.3 349.3,512 350,511.7 350.7,511.4 351.4,511.2 352.1,510.9 352.8,510.8 353.5,510.6 354.2,510.5 354.9,510.4 355.6,510.4 356.3,510.3 356.9,510.4 357.6,510.4 358.3,510.5 359,510.7 359.7,510.8 360.4,511.1 361.1,511.3 361.8,511.7 362.5,512 363.2,512.4 363.9,512.9 364.6,513.4 365.3,514 366,514.7 366.7,515.3 367.4,516.1 368,516.9 368.7,517.8 369.4,518.7 370.1,519.8 370.8,520.8 371.5,522 372.2,523.2 372.9,524.5 373.6,525.9 374.3,527.4 375,529 375.7,530.6 376.4,532.3 377.1,534.2 377.8,536.1 378.5,538.1 379.1,540.2 379.8,542.4 380.5,544.8 381.2,547.2 381.9,549.8 382.6,552.4 383.3,555.2 384,558.1 384.7,561.1 385.4,564.3 386.1,567.6 386.8,571 387.5,574.6 388.2,578.3 388.9,582.1 389.6,586.1 390.2,590.3 390.9,594.6 391.6,599.1 392.3,603.8 393,608.6 393.7,613.6 394.4,618.8 395.1,624.2 395.8,627.1" fill="none" stroke="#ef8531" stroke-width="1.4" stroke-dasharray="4 2.5"/>
<polyline clip-path="url(#clip1)" points="294.5,529.4 295.2,529.1 295.9,528.8 296.6,528.5 297.3,528.2 298,527.9 298.7,527.6 299.4,527.3 300.1,527 300.7,526.7 301.4,526.4 302.1,526 302.8,525.7 303.5,525.4 304.2,525 304.9,524.7 305.6,524.3 306.3,524 307,523.6 307.7,523.3 308.4,522.9 309.1,522.6 309.8,522.2 310.5,521.8 311.2,521.5 311.8,521.1 312.5,520.7 313.2,520.3 313.9,519.9 314.6,519.5 315.3,519.1 316,518.7 316.7,518.3 317.4,517.9 318.1,517.5 318.8,517.1 319.5,516.7 320.2,516.3 320.9,515.8 321.6,515.4 322.3,515 322.9,514.6 323.6,514.1 324.3,513.7 325,513.3 325.7,512.8 326.4,512.4 327.1,511.9 327.8,511.5 328.5,511.1 329.2,510.6 329.9,510.2 330.6,509.7 331.3,509.3 332,508.9 332.7,508.4 333.4,508 334,507.6 334.7,507.1 335.4,506.7 336.1,506.3 336.8,505.9 337.5,505.5 338.2,505.1 338.9,504.7 339.6,504.3 340.3,503.9 341,503.5 341.7,503.1 342.4,502.7 343.1,502.4 343.8,502 344.5,501.7 345.1,501.4 345.8,501 346.5,500.7 347.2,500.4 347.9,500.2 348.6,499.9 349.3,499.6 350,499.4 350.7,499.2 351.4,499 352.1,498.8 352.8,498.6 353.5,498.5 354.2,498.3 354.9,498.2 355.6,498.1 356.3,498 356.9,498 357.6,498 358.3,497.9 359,498 359.7,498 360.4,498.1 361.1,498.1 361.8,498.2 362.5,498.4 363.2,498.5 363.9,498.7 364.6,498.9 365.3,499.1 366,499.4 366.7,499.6 367.4,499.9 368,500.2 368.7,500.6 369.4,500.9 370.1,501.3 370.8,501.7 371.5,502.1 372.2,502.5 372.9,502.9 373.6,503.3 374.3,503.7 375,504.2 375.7,504.6 376.4,505 377.1,505.5 377.8,505.9 378.5,506.3 379.1,506.7 379.8,507.1 380.5,507.4 381.2,507.8 381.9,508.1 382.6,508.4 383.3,508.7 384,509 384.7,509.2 385.4,509.4 386.1,509.6 386.8,509.8 387.5,510 388.2,510.1 388.9,510.2 389.6,510.4 390.2,510.5 390.9,510.5 391.6,510.6 392.3,510.7 393,510.8 393.7,510.9 394.4,510.9 395.1,511 395.8,511.1 396.5,511.1 397.2,511.2 397.9,511.3 398.6,511.4 399.3,511.5 400,511.6 400.7,511.7 401.3,511.8 402,511.9 402.7,512 403.4,512.1 404.1,512.3 404.8,512.4 405.5,512.6 406.2,512.8 406.9,513 407.6,513.1 408.3,513.4 409,513.6 409.7,513.8 410.4,514 411.1,514.3 411.8,514.5 412.4,514.8 413.1,515.1 413.8,515.4 414.5,515.7 415.2,516.1 415.9,516.4 416.6,516.8 417.3,517.1 418,517.5 418.7,517.9 419.4,518.4 420.1,518.8 420.8,519.3 421.5,519.7 422.2,520.2 422.9,520.8 423.6,521.3 424.2,521.8 424.9,522.4 425.6,523 426.3,523.6 427,524.3 427.7,524.9 428.4,525.6 429.1,526.4 429.8,527.1 430.5,527.9 431.2,528.6 431.9,529.5 432.6,530.3 433.3,531.2 434,532.1 434.7,533 435.3,534 436,535 436.7,536 437.4,537.1 438.1,538.2 438.8,539.3 439.5,540.5 440.2,541.7 440.9,543 441.6,544.3 442.3,545.6 443,547 443.7,548.4 444.4,549.8 445.1,551.3 445.8,552.9 446.4,554.5 447.1,556.1 447.8,557.8 448.5,559.6 449.2,561.4 449.9,563.3 450.6,565.2 451.3,567.2 452,569.2 452.7,571.3 453.4,573.4 454.1,575.7 454.8,578 455.5,580.3 456.2,582.7 456.9,585.2 457.5,587.8 458.2,590.5 458.9,593.2 459.6,596 460.3,598.9 461,601.9 461.7,604.9 462.4,608.1 463.1,611.3 463.8,614.7 464.5,618.1 465.2,621.7 465.9,625.3 466.6,627.1" fill="none" stroke="#5ca845" stroke-width="1.2"/>
<line x1="305.3" y1="522.2" x2="307.3" y2="522.2" stroke="#666" stroke-width="0.7"/><line x1="306.3" y1="521.3" x2="306.3" y2="523.1" stroke="#666" stroke-width="0.7"/>
<circle cx="306.3" cy="522.2" r="0.75" fill="#666"/>
<line x1="307.3" y1="520.6" x2="309.3" y2="520.6" stroke="#666" stroke-width="0.7"/><line x1="308.3" y1="519.7" x2="308.3" y2="521.5" stroke="#666" stroke-width="0.7"/>
<circle cx="308.3" cy="520.6" r="0.75" fill="#666"/>
<line x1="309.4" y1="520.1" x2="311.4" y2="520.1" stroke="#666" stroke-width="0.7"/><line x1="310.4" y1="519.2" x2="310.4" y2="521" stroke="#666" stroke-width="0.7"/>
<circle cx="310.4" cy="520.1" r="0.75" fill="#666"/>
<line x1="311.4" y1="519" x2="313.4" y2="519" stroke="#666" stroke-width="0.7"/><line x1="312.4" y1="518.1" x2="312.4" y2="519.9" stroke="#666" stroke-width="0.7"/>
<circle cx="312.4" cy="519" r="0.75" fill="#666"/>
<line x1="313.4" y1="518.4" x2="315.4" y2="518.4" stroke="#666" stroke-width="0.7"/><line x1="314.4" y1="517.5" x2="314.4" y2="519.3" stroke="#666" stroke-width="0.7"/>
<circle cx="314.4" cy="518.4" r="0.75" fill="#666"/>
<line x1="315.5" y1="516.7" x2="317.5" y2="516.7" stroke="#666" stroke-width="0.7"/><line x1="316.5" y1="515.8" x2="316.5" y2="517.6" stroke="#666" stroke-width="0.7"/>
<circle cx="316.5" cy="516.7" r="0.75" fill="#666"/>
<line x1="317.5" y1="514.5" x2="319.5" y2="514.5" stroke="#666" stroke-width="0.7"/><line x1="318.5" y1="513.6" x2="318.5" y2="515.4" stroke="#666" stroke-width="0.7"/>
<circle cx="318.5" cy="514.5" r="0.75" fill="#666"/>
<line x1="319.6" y1="513.8" x2="321.6" y2="513.8" stroke="#666" stroke-width="0.7"/><line x1="320.6" y1="512.9" x2="320.6" y2="514.7" stroke="#666" stroke-width="0.7"/>
<circle cx="320.6" cy="513.8" r="0.75" fill="#666"/>
<line x1="321.6" y1="512.1" x2="323.6" y2="512.1" stroke="#666" stroke-width="0.7"/><line x1="322.6" y1="511.2" x2="322.6" y2="513" stroke="#666" stroke-width="0.7"/>
<circle cx="322.6" cy="512.1" r="0.75" fill="#666"/>
<line x1="323.6" y1="511.4" x2="325.6" y2="511.4" stroke="#666" stroke-width="0.7"/><line x1="324.6" y1="510.5" x2="324.6" y2="512.3" stroke="#666" stroke-width="0.7"/>
<circle cx="324.6" cy="511.4" r="0.75" fill="#666"/>
<line x1="325.7" y1="510" x2="327.7" y2="510" stroke="#666" stroke-width="0.7"/><line x1="326.7" y1="509.1" x2="326.7" y2="510.9" stroke="#666" stroke-width="0.7"/>
<circle cx="326.7" cy="510" r="0.75" fill="#666"/>
<line x1="327.7" y1="508.8" x2="329.7" y2="508.8" stroke="#666" stroke-width="0.7"/><line x1="328.7" y1="507.9" x2="328.7" y2="509.7" stroke="#666" stroke-width="0.7"/>
<circle cx="328.7" cy="508.8" r="0.75" fill="#666"/>
<line x1="329.8" y1="508.9" x2="331.8" y2="508.9" stroke="#666" stroke-width="0.7"/><line x1="330.8" y1="508" x2="330.8" y2="509.8" stroke="#666" stroke-width="0.7"/>
<circle cx="330.8" cy="508.9" r="0.75" fill="#666"/>
<line x1="331.8" y1="505.8" x2="333.8" y2="505.8" stroke="#666" stroke-width="0.7"/><line x1="332.8" y1="504.9" x2="332.8" y2="506.7" stroke="#666" stroke-width="0.7"/>
<circle cx="332.8" cy="505.8" r="0.75" fill="#666"/>
<line x1="333.8" y1="504.8" x2="335.8" y2="504.8" stroke="#666" stroke-width="0.7"/><line x1="334.8" y1="503.9" x2="334.8" y2="505.7" stroke="#666" stroke-width="0.7"/>
<circle cx="334.8" cy="504.8" r="0.75" fill="#666"/>
<line x1="335.9" y1="503.5" x2="337.9" y2="503.5" stroke="#666" stroke-width="0.7"/><line x1="336.9" y1="502.6" x2="336.9" y2="504.4" stroke="#666" stroke-width="0.7"/>
<circle cx="336.9" cy="503.5" r="0.75" fill="#666"/>
<line x1="337.9" y1="503.9" x2="339.9" y2="503.9" stroke="#666" stroke-width="0.7"/><line x1="338.9" y1="503" x2="338.9" y2="504.8" stroke="#666" stroke-width="0.7"/>
<circle cx="338.9" cy="503.9" r="0.75" fill="#666"/>
<line x1="339.9" y1="502.8" x2="341.9" y2="502.8" stroke="#666" stroke-width="0.7"/><line x1="340.9" y1="501.9" x2="340.9" y2="503.7" stroke="#666" stroke-width="0.7"/>
<circle cx="340.9" cy="502.8" r="0.75" fill="#666"/>
<line x1="342" y1="501.1" x2="344" y2="501.1" stroke="#666" stroke-width="0.7"/><line x1="343" y1="500.2" x2="343" y2="502" stroke="#666" stroke-width="0.7"/>
<circle cx="343" cy="501.1" r="0.75" fill="#666"/>
<line x1="344" y1="499.8" x2="346" y2="499.8" stroke="#666" stroke-width="0.7"/><line x1="345" y1="498.9" x2="345" y2="500.7" stroke="#666" stroke-width="0.7"/>
<circle cx="345" cy="499.8" r="0.75" fill="#666"/>
<line x1="346.1" y1="498.3" x2="348.1" y2="498.3" stroke="#666" stroke-width="0.7"/><line x1="347.1" y1="497.4" x2="347.1" y2="499.2" stroke="#666" stroke-width="0.7"/>
<circle cx="347.1" cy="498.3" r="0.75" fill="#666"/>
<line x1="348.1" y1="497.8" x2="350.1" y2="497.8" stroke="#666" stroke-width="0.7"/><line x1="349.1" y1="496.9" x2="349.1" y2="498.7" stroke="#666" stroke-width="0.7"/>
<circle cx="349.1" cy="497.8" r="0.75" fill="#666"/>
<line x1="350.1" y1="496.7" x2="352.1" y2="496.7" stroke="#666" stroke-width="0.7"/><line x1="351.1" y1="495.8" x2="351.1" y2="497.6" stroke="#666" stroke-width="0.7"/>
<circle cx="351.1" cy="496.7" r="0.75" fill="#666"/>
<line x1="352.2" y1="497" x2="354.2" y2="497" stroke="#666" stroke-width="0.7"/><line x1="353.2" y1="496.1" x2="353.2" y2="497.9" stroke="#666" stroke-width="0.7"/>
<circle cx="353.2" cy="497" r="0.75" fill="#666"/>
<line x1="354.2" y1="496" x2="356.2" y2="496" stroke="#666" stroke-width="0.7"/><line x1="355.2" y1="495.1" x2="355.2" y2="496.9" stroke="#666" stroke-width="0.7"/>
<circle cx="355.2" cy="496" r="0.75" fill="#666"/>
<line x1="356.2" y1="495.7" x2="358.2" y2="495.7" stroke="#666" stroke-width="0.7"/><line x1="357.2" y1="494.8" x2="357.2" y2="496.6" stroke="#666" stroke-width="0.7"/>
<circle cx="357.2" cy="495.7" r="0.75" fill="#666"/>
<line x1="358.3" y1="496.5" x2="360.3" y2="496.5" stroke="#666" stroke-width="0.7"/><line x1="359.3" y1="495.6" x2="359.3" y2="497.4" stroke="#666" stroke-width="0.7"/>
<circle cx="359.3" cy="496.5" r="0.75" fill="#666"/>
<line x1="360.3" y1="495" x2="362.3" y2="495" stroke="#666" stroke-width="0.7"/><line x1="361.3" y1="494.1" x2="361.3" y2="495.9" stroke="#666" stroke-width="0.7"/>
<circle cx="361.3" cy="495" r="0.75" fill="#666"/>
<line x1="362.4" y1="496.2" x2="364.4" y2="496.2" stroke="#666" stroke-width="0.7"/><line x1="363.4" y1="495.3" x2="363.4" y2="497.1" stroke="#666" stroke-width="0.7"/>
<circle cx="363.4" cy="496.2" r="0.75" fill="#666"/>
<line x1="364.4" y1="496.3" x2="366.4" y2="496.3" stroke="#666" stroke-width="0.7"/><line x1="365.4" y1="495.4" x2="365.4" y2="497.2" stroke="#666" stroke-width="0.7"/>
<circle cx="365.4" cy="496.3" r="0.75" fill="#666"/>
<line x1="366.4" y1="498.5" x2="368.4" y2="498.5" stroke="#666" stroke-width="0.7"/><line x1="367.4" y1="497.6" x2="367.4" y2="499.4" stroke="#666" stroke-width="0.7"/>
<circle cx="367.4" cy="498.5" r="0.75" fill="#666"/>
<line x1="368.5" y1="499.5" x2="370.5" y2="499.5" stroke="#666" stroke-width="0.7"/><line x1="369.5" y1="498.6" x2="369.5" y2="500.4" stroke="#666" stroke-width="0.7"/>
<circle cx="369.5" cy="499.5" r="0.75" fill="#666"/>
<line x1="370.5" y1="500.4" x2="372.5" y2="500.4" stroke="#666" stroke-width="0.7"/><line x1="371.5" y1="499.5" x2="371.5" y2="501.3" stroke="#666" stroke-width="0.7"/>
<circle cx="371.5" cy="500.4" r="0.75" fill="#666"/>
<line x1="372.6" y1="501.4" x2="374.6" y2="501.4" stroke="#666" stroke-width="0.7"/><line x1="373.6" y1="500.5" x2="373.6" y2="502.3" stroke="#666" stroke-width="0.7"/>
<circle cx="373.6" cy="501.4" r="0.75" fill="#666"/>
<line x1="374.6" y1="502.1" x2="376.6" y2="502.1" stroke="#666" stroke-width="0.7"/><line x1="375.6" y1="501.2" x2="375.6" y2="503" stroke="#666" stroke-width="0.7"/>
<circle cx="375.6" cy="502.1" r="0.75" fill="#666"/>
<line x1="376.6" y1="503.7" x2="378.6" y2="503.7" stroke="#666" stroke-width="0.7"/><line x1="377.6" y1="502.8" x2="377.6" y2="504.6" stroke="#666" stroke-width="0.7"/>
<circle cx="377.6" cy="503.7" r="0.75" fill="#666"/>
<line x1="378.7" y1="505.4" x2="380.7" y2="505.4" stroke="#666" stroke-width="0.7"/><line x1="379.7" y1="504.5" x2="379.7" y2="506.3" stroke="#666" stroke-width="0.7"/>
<circle cx="379.7" cy="505.4" r="0.75" fill="#666"/>
<line x1="380.7" y1="506.8" x2="382.7" y2="506.8" stroke="#666" stroke-width="0.7"/><line x1="381.7" y1="505.9" x2="381.7" y2="507.7" stroke="#666" stroke-width="0.7"/>
<circle cx="381.7" cy="506.8" r="0.75" fill="#666"/>
<line x1="382.7" y1="507.3" x2="384.7" y2="507.3" stroke="#666" stroke-width="0.7"/><line x1="383.7" y1="506.4" x2="383.7" y2="508.2" stroke="#666" stroke-width="0.7"/>
<circle cx="383.7" cy="507.3" r="0.75" fill="#666"/>
<line x1="384.8" y1="506.7" x2="386.8" y2="506.7" stroke="#666" stroke-width="0.7"/><line x1="385.8" y1="505.8" x2="385.8" y2="507.6" stroke="#666" stroke-width="0.7"/>
<circle cx="385.8" cy="506.7" r="0.75" fill="#666"/>
<line x1="386.8" y1="508.7" x2="388.8" y2="508.7" stroke="#666" stroke-width="0.7"/><line x1="387.8" y1="507.8" x2="387.8" y2="509.6" stroke="#666" stroke-width="0.7"/>
<circle cx="387.8" cy="508.7" r="0.75" fill="#666"/>
<line x1="388.9" y1="508.3" x2="390.9" y2="508.3" stroke="#666" stroke-width="0.7"/><line x1="389.9" y1="507.4" x2="389.9" y2="509.2" stroke="#666" stroke-width="0.7"/>
<circle cx="389.9" cy="508.3" r="0.75" fill="#666"/>
<line x1="390.9" y1="508.4" x2="392.9" y2="508.4" stroke="#666" stroke-width="0.7"/><line x1="391.9" y1="507.5" x2="391.9" y2="509.3" stroke="#666" stroke-width="0.7"/>
<circle cx="391.9" cy="508.4" r="0.75" fill="#666"/>
<line x1="392.9" y1="510" x2="394.9" y2="510" stroke="#666" stroke-width="0.7"/><line x1="393.9" y1="509.1" x2="393.9" y2="510.9" stroke="#666" stroke-width="0.7"/>
<circle cx="393.9" cy="510" r="0.75" fill="#666"/>
<line x1="395" y1="509.1" x2="397" y2="509.1" stroke="#666" stroke-width="0.7"/><line x1="396" y1="508.2" x2="396" y2="510" stroke="#666" stroke-width="0.7"/>
<circle cx="396" cy="509.1" r="0.75" fill="#666"/>
<line x1="397" y1="508.4" x2="399" y2="508.4" stroke="#666" stroke-width="0.7"/><line x1="398" y1="507.5" x2="398" y2="509.3" stroke="#666" stroke-width="0.7"/>
<circle cx="398" cy="508.4" r="0.75" fill="#666"/>
<line x1="399" y1="511.1" x2="401" y2="511.1" stroke="#666" stroke-width="0.7"/><line x1="400" y1="510.2" x2="400" y2="512" stroke="#666" stroke-width="0.7"/>
<circle cx="400" cy="511.1" r="0.75" fill="#666"/>
<line x1="401.1" y1="510.2" x2="403.1" y2="510.2" stroke="#666" stroke-width="0.7"/><line x1="402.1" y1="509.3" x2="402.1" y2="511.1" stroke="#666" stroke-width="0.7"/>
<circle cx="402.1" cy="510.2" r="0.75" fill="#666"/>
<line x1="403.1" y1="510.4" x2="405.1" y2="510.4" stroke="#666" stroke-width="0.7"/><line x1="404.1" y1="509.5" x2="404.1" y2="511.3" stroke="#666" stroke-width="0.7"/>
<circle cx="404.1" cy="510.4" r="0.75" fill="#666"/>
<line x1="405.2" y1="511.4" x2="407.2" y2="511.4" stroke="#666" stroke-width="0.7"/><line x1="406.2" y1="510.5" x2="406.2" y2="512.3" stroke="#666" stroke-width="0.7"/>
<circle cx="406.2" cy="511.4" r="0.75" fill="#666"/>
<line x1="407.2" y1="511" x2="409.2" y2="511" stroke="#666" stroke-width="0.7"/><line x1="408.2" y1="510.1" x2="408.2" y2="511.9" stroke="#666" stroke-width="0.7"/>
<circle cx="408.2" cy="511" r="0.75" fill="#666"/>
<line x1="409.2" y1="512.1" x2="411.2" y2="512.1" stroke="#666" stroke-width="0.7"/><line x1="410.2" y1="511.2" x2="410.2" y2="513" stroke="#666" stroke-width="0.7"/>
<circle cx="410.2" cy="512.1" r="0.75" fill="#666"/>
<line x1="411.3" y1="513.9" x2="413.3" y2="513.9" stroke="#666" stroke-width="0.7"/><line x1="412.3" y1="513" x2="412.3" y2="514.8" stroke="#666" stroke-width="0.7"/>
<circle cx="412.3" cy="513.9" r="0.75" fill="#666"/>
<line x1="413.3" y1="513.1" x2="415.3" y2="513.1" stroke="#666" stroke-width="0.7"/><line x1="414.3" y1="512.2" x2="414.3" y2="514" stroke="#666" stroke-width="0.7"/>
<circle cx="414.3" cy="513.1" r="0.75" fill="#666"/>
<line x1="415.3" y1="514.2" x2="417.3" y2="514.2" stroke="#666" stroke-width="0.7"/><line x1="416.3" y1="513.3" x2="416.3" y2="515.1" stroke="#666" stroke-width="0.7"/>
<circle cx="416.3" cy="514.2" r="0.75" fill="#666"/>
<line x1="417.4" y1="515.1" x2="419.4" y2="515.1" stroke="#666" stroke-width="0.7"/><line x1="418.4" y1="514.2" x2="418.4" y2="516" stroke="#666" stroke-width="0.7"/>
<circle cx="418.4" cy="515.1" r="0.75" fill="#666"/>
<line x1="419.4" y1="516" x2="421.4" y2="516" stroke="#666" stroke-width="0.7"/><line x1="420.4" y1="515.1" x2="420.4" y2="516.9" stroke="#666" stroke-width="0.7"/>
<circle cx="420.4" cy="516" r="0.75" fill="#666"/>
<line x1="421.5" y1="518.2" x2="423.5" y2="518.2" stroke="#666" stroke-width="0.7"/><line x1="422.5" y1="517.3" x2="422.5" y2="519.1" stroke="#666" stroke-width="0.7"/>
<circle cx="422.5" cy="518.2" r="0.75" fill="#666"/>
<line x1="423.5" y1="520" x2="425.5" y2="520" stroke="#666" stroke-width="0.7"/><line x1="424.5" y1="519.1" x2="424.5" y2="520.9" stroke="#666" stroke-width="0.7"/>
<circle cx="424.5" cy="520" r="0.75" fill="#666"/>
<line x1="425.5" y1="522.8" x2="427.5" y2="522.8" stroke="#666" stroke-width="0.7"/><line x1="426.5" y1="521.9" x2="426.5" y2="523.7" stroke="#666" stroke-width="0.7"/>
<circle cx="426.5" cy="522.8" r="0.75" fill="#666"/>
<line x1="427.6" y1="523.4" x2="429.6" y2="523.4" stroke="#666" stroke-width="0.7"/><line x1="428.6" y1="522.5" x2="428.6" y2="524.3" stroke="#666" stroke-width="0.7"/>
<circle cx="428.6" cy="523.4" r="0.75" fill="#666"/>
<line x1="429.6" y1="526.5" x2="431.6" y2="526.5" stroke="#666" stroke-width="0.7"/><line x1="430.6" y1="525.6" x2="430.6" y2="527.4" stroke="#666" stroke-width="0.7"/>
<circle cx="430.6" cy="526.5" r="0.75" fill="#666"/>
<line x1="303.8" y1="521.7" x2="304.8" y2="521.7" stroke="#666" stroke-width="0.7"/><line x1="304.3" y1="520.5" x2="304.3" y2="522.9" stroke="#666" stroke-width="0.7"/><circle cx="304.3" cy="521.7" r="0.8" fill="#666"/>
<line x1="306" y1="517.3" x2="307" y2="517.3" stroke="#666" stroke-width="0.7"/><line x1="306.5" y1="516.1" x2="306.5" y2="518.5" stroke="#666" stroke-width="0.7"/><circle cx="306.5" cy="517.3" r="0.8" fill="#666"/>
<line x1="425.5" y1="527.3" x2="431.5" y2="527.3" stroke="#666" stroke-width="0.7"/><line x1="428.5" y1="526.1" x2="428.5" y2="528.5" stroke="#666" stroke-width="0.7"/><circle cx="428.5" cy="527.3" r="0.8" fill="#666"/>
<line x1="427.2" y1="528.8" x2="437.2" y2="528.8" stroke="#666" stroke-width="0.7"/><line x1="432.2" y1="527.6" x2="432.2" y2="530" stroke="#666" stroke-width="0.7"/><circle cx="432.2" cy="528.8" r="0.8" fill="#666"/>
<line x1="433.5" y1="536.5" x2="439.5" y2="536.5" stroke="#666" stroke-width="0.7"/><line x1="436.5" y1="535.3" x2="436.5" y2="537.7" stroke="#666" stroke-width="0.7"/><circle cx="436.5" cy="536.5" r="0.8" fill="#666"/>
<line x1="440.9" y1="549.2" x2="446.9" y2="549.2" stroke="#666" stroke-width="0.7"/><line x1="443.9" y1="548" x2="443.9" y2="550.4" stroke="#666" stroke-width="0.7"/><circle cx="443.9" cy="549.2" r="0.8" fill="#666"/>
<line x1="447.4" y1="568.2" x2="453.4" y2="568.2" stroke="#666" stroke-width="0.7"/><line x1="450.4" y1="567" x2="450.4" y2="569.4" stroke="#666" stroke-width="0.7"/><circle cx="450.4" cy="568.2" r="0.8" fill="#666"/>
<line x1="454.7" y1="586.5" x2="460.7" y2="586.5" stroke="#666" stroke-width="0.7"/><line x1="457.7" y1="585.3" x2="457.7" y2="587.7" stroke="#666" stroke-width="0.7"/><circle cx="457.7" cy="586.5" r="0.8" fill="#666"/>
<rect x="294.5" y="456.7" width="179.7" height="130.4" fill="none" stroke="#8a8a8a" stroke-width="1.1"/>
<text x="314.4" y="594.1" font-family="Liberation Sans" font-size="5" fill="#333" text-anchor="middle">10<tspan font-size="3.5" dy="-2.1">1</tspan></text>
<text x="373.6" y="594.1" font-family="Liberation Sans" font-size="5" fill="#333" text-anchor="middle">10<tspan font-size="3.5" dy="-2.1">2</tspan></text>
<text x="432.8" y="594.1" font-family="Liberation Sans" font-size="5" fill="#333" text-anchor="middle">10<tspan font-size="3.5" dy="-2.1">3</tspan></text>
<text x="290.2" y="589.5" font-family="Liberation Sans" font-size="5" fill="#333" text-anchor="end">10<tspan font-size="3.5" dy="-2.1">−1</tspan></text>
<line x1="292" y1="587.7" x2="294.5" y2="587.7" stroke="#8a8a8a" stroke-width="0.8"/>
<line x1="293" y1="573" x2="294.5" y2="573" stroke="#aaa" stroke-width="0.6"/>
<line x1="293" y1="564.4" x2="294.5" y2="564.4" stroke="#aaa" stroke-width="0.6"/>
<line x1="293" y1="558.3" x2="294.5" y2="558.3" stroke="#aaa" stroke-width="0.6"/>
<line x1="293" y1="553.6" x2="294.5" y2="553.6" stroke="#aaa" stroke-width="0.6"/>
<line x1="293" y1="549.7" x2="294.5" y2="549.7" stroke="#aaa" stroke-width="0.6"/>
<line x1="293" y1="546.5" x2="294.5" y2="546.5" stroke="#aaa" stroke-width="0.6"/>
<line x1="293" y1="543.6" x2="294.5" y2="543.6" stroke="#aaa" stroke-width="0.6"/>
<line x1="293" y1="541.1" x2="294.5" y2="541.1" stroke="#aaa" stroke-width="0.6"/>
<text x="290.2" y="540.7" font-family="Liberation Sans" font-size="5" fill="#333" text-anchor="end">10<tspan font-size="3.5" dy="-2.1">0</tspan></text>
<line x1="292" y1="538.9" x2="294.5" y2="538.9" stroke="#8a8a8a" stroke-width="0.8"/>
<line x1="293" y1="524.2" x2="294.5" y2="524.2" stroke="#aaa" stroke-width="0.6"/>
<line x1="293" y1="515.6" x2="294.5" y2="515.6" stroke="#aaa" stroke-width="0.6"/>
<line x1="293" y1="509.5" x2="294.5" y2="509.5" stroke="#aaa" stroke-width="0.6"/>
<line x1="293" y1="504.8" x2="294.5" y2="504.8" stroke="#aaa" stroke-width="0.6"/>
<line x1="293" y1="500.9" x2="294.5" y2="500.9" stroke="#aaa" stroke-width="0.6"/>
<line x1="293" y1="497.7" x2="294.5" y2="497.7" stroke="#aaa" stroke-width="0.6"/>
<line x1="293" y1="494.8" x2="294.5" y2="494.8" stroke="#aaa" stroke-width="0.6"/>
<line x1="293" y1="492.3" x2="294.5" y2="492.3" stroke="#aaa" stroke-width="0.6"/>
<text x="290.2" y="491.9" font-family="Liberation Sans" font-size="5" fill="#333" text-anchor="end">10<tspan font-size="3.5" dy="-2.1">1</tspan></text>
<line x1="292" y1="490.1" x2="294.5" y2="490.1" stroke="#8a8a8a" stroke-width="0.8"/>
<line x1="313.4" y1="587.1" x2="313.4" y2="589.6" stroke="#8a8a8a" stroke-width="0.8"/>
<line x1="372.6" y1="587.1" x2="372.6" y2="589.6" stroke="#8a8a8a" stroke-width="0.8"/>
<line x1="431.8" y1="587.1" x2="431.8" y2="589.6" stroke="#8a8a8a" stroke-width="0.8"/>
<rect x="420.7" y="458.4" width="51.5" height="29.8" rx="1" fill="#fff" stroke="#d0d0d0" stroke-width="0.7"/>
<line x1="422.7" y1="463.6" x2="431.2" y2="463.6" stroke="#3a6fb8" stroke-width="1.2" stroke-dasharray="2.5 1.5"/>
<text x="434.7" y="465.5" font-family="Liberation Sans" font-size="5.3" fill="#222">Cut_Powerlaw</text>
<line x1="422.7" y1="470.1" x2="431.2" y2="470.1" stroke="#ef8531" stroke-width="1.2" stroke-dasharray="2.5 1.5"/>
<text x="434.7" y="472" font-family="Liberation Sans" font-size="5.3" fill="#222">Blackbody</text>
<line x1="422.7" y1="476.5" x2="431.2" y2="476.5" stroke="#5ca845" stroke-width="1.2"/>
<text x="434.7" y="478.4" font-family="Liberation Sans" font-size="5.3" fill="#222">Model Total</text>
<line x1="424.4" y1="483" x2="429.4" y2="483" stroke="#444" stroke-width="0.8"/><line x1="426.9" y1="480.5" x2="426.9" y2="485.5" stroke="#444" stroke-width="0.8"/>
<text x="434.7" y="484.9" font-family="Liberation Sans" font-size="5.3" fill="#222">Data</text>
<text x="346.9" y="478.5" font-family="Liberation Serif" font-size="20.3" fill="#111" stroke="#111" stroke-width="0.3">UPE I</text>
<polyline clip-path="url(#clip2)" points="502.1,571 502.9,570.4 503.7,569.7 504.5,569.1 505.3,568.5 506.1,567.8 506.9,567.2 507.7,566.6 508.5,565.9 509.3,565.3 510.1,564.7 510.9,564 511.7,563.4 512.5,562.8 513.3,562.1 514.1,561.5 514.9,560.9 515.7,560.3 516.5,559.6 517.3,559 518.1,558.4 518.9,557.7 519.7,557.1 520.5,556.5 521.3,555.8 522.1,555.2 522.9,554.6 523.7,554 524.5,553.3 525.3,552.7 526.1,552.1 526.9,551.5 527.7,550.8 528.5,550.2 529.3,549.6 530.1,549 530.9,548.3 531.7,547.7 532.5,547.1 533.3,546.5 534.1,545.9 534.9,545.2 535.7,544.6 536.5,544 537.2,543.4 538,542.8 538.8,542.1 539.6,541.5 540.4,540.9 541.2,540.3 542,539.7 542.8,539.1 543.6,538.5 544.4,537.9 545.2,537.2 546,536.6 546.8,536 547.6,535.4 548.4,534.8 549.2,534.2 550,533.6 550.8,533 551.6,532.4 552.4,531.8 553.2,531.2 554,530.6 554.8,530 555.6,529.4 556.4,528.8 557.2,528.2 558,527.6 558.8,527 559.6,526.4 560.4,525.8 561.2,525.3 562,524.7 562.8,524.1 563.6,523.5 564.4,522.9 565.2,522.3 566,521.8 566.8,521.2 567.6,520.6 568.4,520 569.2,519.5 570,518.9 570.8,518.3 571.6,517.8 572.4,517.2 573.2,516.7 574,516.1 574.8,515.5 575.6,515 576.4,514.4 577.2,513.9 578,513.3 578.8,512.8 579.6,512.3 580.4,511.7 581.2,511.2 582,510.7 582.8,510.1 583.6,509.6 584.4,509.1 585.2,508.6 586,508.1 586.8,507.6 587.6,507 588.4,506.5 589.2,506 590,505.6 590.8,505.1 591.6,504.6 592.4,504.1 593.2,503.6 594,503.1 594.8,502.7 595.6,502.2 596.4,501.8 597.2,501.3 598,500.9 598.8,500.4 599.6,500 600.4,499.5 601.2,499.1 602,498.7 602.8,498.3 603.6,497.9 604.4,497.5 605.2,497.1 605.9,496.7 606.7,496.3 607.5,496 608.3,495.6 609.1,495.2 609.9,494.9 610.7,494.6 611.5,494.2 612.3,493.9 613.1,493.6 613.9,493.3 614.7,493 615.5,492.7 616.3,492.4 617.1,492.2 617.9,491.9 618.7,491.7 619.5,491.4 620.3,491.2 621.1,491 621.9,490.8 622.7,490.6 623.5,490.5 624.3,490.3 625.1,490.2 625.9,490 626.7,489.9 627.5,489.8 628.3,489.7 629.1,489.6 629.9,489.6 630.7,489.6 631.5,489.5 632.3,489.5 633.1,489.5 633.9,489.6 634.7,489.6 635.5,489.7 636.3,489.8 637.1,489.9 637.9,490 638.7,490.2 639.5,490.4 640.3,490.6 641.1,490.8 641.9,491 642.7,491.3 643.5,491.6 644.3,491.9 645.1,492.3 645.9,492.7 646.7,493.1 647.5,493.5 648.3,494 649.1,494.5 649.9,495 650.7,495.6 651.5,496.2 652.3,496.8 653.1,497.5 653.9,498.2 654.7,498.9 655.5,499.7 656.3,500.5 657.1,501.4 657.9,502.3 658.7,503.2 659.5,504.2 660.3,505.3 661.1,506.3 661.9,507.5 662.7,508.7 663.5,509.9 664.3,511.2 665.1,512.5 665.9,513.9 666.7,515.4 667.5,516.9 668.3,518.5 669.1,520.1 669.9,521.8 670.7,523.6 671.5,525.4 672.3,527.3 673.1,529.3 673.9,531.3 674.6,533.4 675.4,535.6 676.2,537.9 677,540.3 677.8,542.7 678.6,545.3 679.4,547.9 680.2,550.6 681,553.4 681.8,556.3 682.6,559.3 683.4,562.4 684.2,565.6 685,568.9 685.8,572.4 686.6,575.9 687.4,579.6 688.2,583.3 689,587.2 689.8,591.3 690.6,595.4 691.4,599.7 692.2,604.2 693,608.8 693.8,613.5 694.6,618.4 695.4,623.4 696.2,624.4" fill="none" stroke="#a8322d" stroke-width="1.1" stroke-dasharray="4 1.5 1 1.5"/>
<path d="M569.4 517.2v3.6M567.9 519h3" stroke="#3b56a6" stroke-width="0.7"/>
<circle cx="569.4" cy="519" r="1.0" fill="#3b56a6"/>
<path d="M519.3 554.8v3.6M517.8 556.6h3" stroke="#3b56a6" stroke-width="0.7"/>
<circle cx="519.3" cy="556.6" r="1.0" fill="#3b56a6"/>
<path d="M600.9 498.9v3.6M599.4 500.7h3" stroke="#3b56a6" stroke-width="0.7"/>
<circle cx="600.9" cy="500.7" r="1.0" fill="#3b56a6"/>
<path d="M629.7 485.8v3.6M628.2 487.6h3" stroke="#3b56a6" stroke-width="0.7"/>
<circle cx="629.7" cy="487.6" r="1.0" fill="#3b56a6"/>
<path d="M522 553.1v3.6M520.5 554.9h3" stroke="#3b56a6" stroke-width="0.7"/>
<circle cx="522" cy="554.9" r="1.0" fill="#3b56a6"/>
<path d="M536.2 540.9v3.6M534.7 542.7h3" stroke="#3b56a6" stroke-width="0.7"/>
<circle cx="536.2" cy="542.7" r="1.0" fill="#3b56a6"/>
<path d="M623.9 486.3v3.6M622.4 488.1h3" stroke="#3b56a6" stroke-width="0.7"/>
<circle cx="623.9" cy="488.1" r="1.0" fill="#3b56a6"/>
<path d="M523.4 550v3.6M521.9 551.8h3" stroke="#3b56a6" stroke-width="0.7"/>
<circle cx="523.4" cy="551.8" r="1.0" fill="#3b56a6"/>
<path d="M535.3 541.6v3.6M533.8 543.4h3" stroke="#3b56a6" stroke-width="0.7"/>
<circle cx="535.3" cy="543.4" r="1.0" fill="#3b56a6"/>
<path d="M629.3 486v3.6M627.8 487.8h3" stroke="#3b56a6" stroke-width="0.7"/>
<circle cx="629.3" cy="487.8" r="1.0" fill="#3b56a6"/>
<path d="M584.7 505.3v3.6M583.2 507.1h3" stroke="#3b56a6" stroke-width="0.7"/>
<circle cx="584.7" cy="507.1" r="1.0" fill="#3b56a6"/>
<path d="M528.3 548.4v3.6M526.8 550.2h3" stroke="#3b56a6" stroke-width="0.7"/>
<circle cx="528.3" cy="550.2" r="1.0" fill="#3b56a6"/>
<path d="M601.1 495.4v3.6M599.6 497.2h3" stroke="#3b56a6" stroke-width="0.7"/>
<circle cx="601.1" cy="497.2" r="1.0" fill="#3b56a6"/>
<path d="M586 503.7v3.6M584.5 505.5h3" stroke="#3b56a6" stroke-width="0.7"/>
<circle cx="586" cy="505.5" r="1.0" fill="#3b56a6"/>
<path d="M585.2 507.3v3.6M583.7 509.1h3" stroke="#3b56a6" stroke-width="0.7"/>
<circle cx="585.2" cy="509.1" r="1.0" fill="#3b56a6"/>
<path d="M551.8 529.3v3.6M550.3 531.1h3" stroke="#3b56a6" stroke-width="0.7"/>
<circle cx="551.8" cy="531.1" r="1.0" fill="#3b56a6"/>
<path d="M520.3 554.4v3.6M518.8 556.2h3" stroke="#3b56a6" stroke-width="0.7"/>
<circle cx="520.3" cy="556.2" r="1.0" fill="#3b56a6"/>
<path d="M573.9 516.1v3.6M572.4 517.9h3" stroke="#3b56a6" stroke-width="0.7"/>
<circle cx="573.9" cy="517.9" r="1.0" fill="#3b56a6"/>
<path d="M539 537.9v3.6M537.5 539.7h3" stroke="#3b56a6" stroke-width="0.7"/>
<circle cx="539" cy="539.7" r="1.0" fill="#3b56a6"/>
<path d="M531.1 543.8v3.6M529.6 545.6h3" stroke="#3b56a6" stroke-width="0.7"/>
<circle cx="531.1" cy="545.6" r="1.0" fill="#3b56a6"/>
<path d="M531.3 541.2v3.6M529.8 543h3" stroke="#3b56a6" stroke-width="0.7"/>
<circle cx="531.3" cy="543" r="1.0" fill="#3b56a6"/>
<path d="M559.6 523.3v3.6M558.1 525.1h3" stroke="#3b56a6" stroke-width="0.7"/>
<circle cx="559.6" cy="525.1" r="1.0" fill="#3b56a6"/>
<path d="M582.3 507.3v3.6M580.8 509.1h3" stroke="#3b56a6" stroke-width="0.7"/>
<circle cx="582.3" cy="509.1" r="1.0" fill="#3b56a6"/>
<path d="M600.9 495.9v3.6M599.4 497.7h3" stroke="#3b56a6" stroke-width="0.7"/>
<circle cx="600.9" cy="497.7" r="1.0" fill="#3b56a6"/>
<path d="M602.4 495.3v3.6M600.9 497.1h3" stroke="#3b56a6" stroke-width="0.7"/>
<circle cx="602.4" cy="497.1" r="1.0" fill="#3b56a6"/>
<path d="M531.4 544.7v3.6M529.9 546.5h3" stroke="#3b56a6" stroke-width="0.7"/>
<circle cx="531.4" cy="546.5" r="1.0" fill="#3b56a6"/>
<path d="M510.4 561v3.6M508.9 562.8h3" stroke="#3b56a6" stroke-width="0.7"/>
<circle cx="510.4" cy="562.8" r="1.0" fill="#3b56a6"/>
<path d="M632.7 485.3v3.6M631.2 487.1h3" stroke="#3b56a6" stroke-width="0.7"/>
<circle cx="632.7" cy="487.1" r="1.0" fill="#3b56a6"/>
<path d="M625.2 489.2v3.6M623.7 491h3" stroke="#3b56a6" stroke-width="0.7"/>
<circle cx="625.2" cy="491" r="1.0" fill="#3b56a6"/>
<path d="M579.7 508.6v3.6M578.2 510.4h3" stroke="#3b56a6" stroke-width="0.7"/>
<circle cx="579.7" cy="510.4" r="1.0" fill="#3b56a6"/>
<path d="M600.3 498.5v3.6M598.8 500.3h3" stroke="#3b56a6" stroke-width="0.7"/>
<circle cx="600.3" cy="500.3" r="1.0" fill="#3b56a6"/>
<path d="M623.8 488.6v3.6M622.3 490.4h3" stroke="#3b56a6" stroke-width="0.7"/>
<circle cx="623.8" cy="490.4" r="1.0" fill="#3b56a6"/>
<path d="M623.4 485.8v3.6M621.9 487.6h3" stroke="#3b56a6" stroke-width="0.7"/>
<circle cx="623.4" cy="487.6" r="1.0" fill="#3b56a6"/>
<path d="M533.5 543.3v3.6M532 545.1h3" stroke="#3b56a6" stroke-width="0.7"/>
<circle cx="533.5" cy="545.1" r="1.0" fill="#3b56a6"/>
<path d="M570.3 516.3v3.6M568.8 518.1h3" stroke="#3b56a6" stroke-width="0.7"/>
<circle cx="570.3" cy="518.1" r="1.0" fill="#3b56a6"/>
<path d="M633.7 487.1v3.6M632.2 488.9h3" stroke="#3b56a6" stroke-width="0.7"/>
<circle cx="633.7" cy="488.9" r="1.0" fill="#3b56a6"/>
<path d="M522.6 552.7v3.6M521.1 554.5h3" stroke="#3b56a6" stroke-width="0.7"/>
<circle cx="522.6" cy="554.5" r="1.0" fill="#3b56a6"/>
<path d="M524.4 550v3.6M522.9 551.8h3" stroke="#3b56a6" stroke-width="0.7"/>
<circle cx="524.4" cy="551.8" r="1.0" fill="#3b56a6"/>
<path d="M569.9 517.7v3.6M568.4 519.5h3" stroke="#3b56a6" stroke-width="0.7"/>
<circle cx="569.9" cy="519.5" r="1.0" fill="#3b56a6"/>
<path d="M534.6 541v3.6M533.1 542.8h3" stroke="#3b56a6" stroke-width="0.7"/>
<circle cx="534.6" cy="542.8" r="1.0" fill="#3b56a6"/>
<path d="M613.5 489.7v3.6M612 491.5h3" stroke="#3b56a6" stroke-width="0.7"/>
<circle cx="613.5" cy="491.5" r="1.0" fill="#3b56a6"/>
<path d="M544.8 534.4v3.6M543.3 536.2h3" stroke="#3b56a6" stroke-width="0.7"/>
<circle cx="544.8" cy="536.2" r="1.0" fill="#3b56a6"/>
<path d="M626.8 484.4v3.6M625.3 486.2h3" stroke="#3b56a6" stroke-width="0.7"/>
<circle cx="626.8" cy="486.2" r="1.0" fill="#3b56a6"/>
<path d="M541.1 537v3.6M539.6 538.8h3" stroke="#3b56a6" stroke-width="0.7"/>
<circle cx="541.1" cy="538.8" r="1.0" fill="#3b56a6"/>
<path d="M561 522.4v3.6M559.5 524.2h3" stroke="#3b56a6" stroke-width="0.7"/>
<circle cx="561" cy="524.2" r="1.0" fill="#3b56a6"/>
<path d="M533.1 544.6v3.6M531.6 546.4h3" stroke="#3b56a6" stroke-width="0.7"/>
<circle cx="533.1" cy="546.4" r="1.0" fill="#3b56a6"/>
<path d="M533.4 544.2v3.6M531.9 546h3" stroke="#3b56a6" stroke-width="0.7"/>
<circle cx="533.4" cy="546" r="1.0" fill="#3b56a6"/>
<path d="M588.2 502.6v3.6M586.7 504.4h3" stroke="#3b56a6" stroke-width="0.7"/>
<circle cx="588.2" cy="504.4" r="1.0" fill="#3b56a6"/>
<path d="M579.7 509.6v3.6M578.2 511.4h3" stroke="#3b56a6" stroke-width="0.7"/>
<circle cx="579.7" cy="511.4" r="1.0" fill="#3b56a6"/>
<path d="M617.9 490.2v3.6M616.4 492h3" stroke="#3b56a6" stroke-width="0.7"/>
<circle cx="617.9" cy="492" r="1.0" fill="#3b56a6"/>
<path d="M578.6 510v3.6M577.1 511.8h3" stroke="#3b56a6" stroke-width="0.7"/>
<circle cx="578.6" cy="511.8" r="1.0" fill="#3b56a6"/>
<path d="M521.3 552.4v3.6M519.8 554.2h3" stroke="#3b56a6" stroke-width="0.7"/>
<circle cx="521.3" cy="554.2" r="1.0" fill="#3b56a6"/>
<path d="M625.1 488.3v3.6M623.6 490.1h3" stroke="#3b56a6" stroke-width="0.7"/>
<circle cx="625.1" cy="490.1" r="1.0" fill="#3b56a6"/>
<path d="M559.1 522.8v3.6M557.6 524.6h3" stroke="#3b56a6" stroke-width="0.7"/>
<circle cx="559.1" cy="524.6" r="1.0" fill="#3b56a6"/>
<path d="M509.9 562.2v3.6M508.4 564h3" stroke="#3b56a6" stroke-width="0.7"/>
<circle cx="509.9" cy="564" r="1.0" fill="#3b56a6"/>
<path d="M607.6 496.2v3.6M606.1 498h3" stroke="#3b56a6" stroke-width="0.7"/>
<circle cx="607.6" cy="498" r="1.0" fill="#3b56a6"/>
<path d="M539.1 540.5v3.6M537.6 542.3h3" stroke="#3b56a6" stroke-width="0.7"/>
<circle cx="539.1" cy="542.3" r="1.0" fill="#3b56a6"/>
<path d="M512.1 561.3v3.6M510.6 563.1h3" stroke="#3b56a6" stroke-width="0.7"/>
<circle cx="512.1" cy="563.1" r="1.0" fill="#3b56a6"/>
<path d="M526.3 548.7v3.6M524.8 550.5h3" stroke="#3b56a6" stroke-width="0.7"/>
<circle cx="526.3" cy="550.5" r="1.0" fill="#3b56a6"/>
<path d="M564.1 518.3v3.6M562.6 520.1h3" stroke="#3b56a6" stroke-width="0.7"/>
<circle cx="564.1" cy="520.1" r="1.0" fill="#3b56a6"/>
<path d="M573.7 511.1v3.6M572.2 512.9h3" stroke="#3b56a6" stroke-width="0.7"/>
<circle cx="573.7" cy="512.9" r="1.0" fill="#3b56a6"/>
<path d="M581.5 511.1v3.6M580 512.9h3" stroke="#3b56a6" stroke-width="0.7"/>
<circle cx="581.5" cy="512.9" r="1.0" fill="#3b56a6"/>
<path d="M625.1 487v3.6M623.6 488.8h3" stroke="#3b56a6" stroke-width="0.7"/>
<circle cx="625.1" cy="488.8" r="1.0" fill="#3b56a6"/>
<path d="M596.5 499.7v3.6M595 501.5h3" stroke="#3b56a6" stroke-width="0.7"/>
<circle cx="596.5" cy="501.5" r="1.0" fill="#3b56a6"/>
<path d="M622.2 487.5v3.6M620.7 489.3h3" stroke="#d2783a" stroke-width="0.7"/>
<circle cx="622.2" cy="489.3" r="1.0" fill="#d2783a"/>
<path d="M581.3 508.7v3.6M579.8 510.5h3" stroke="#d2783a" stroke-width="0.7"/>
<circle cx="581.3" cy="510.5" r="1.0" fill="#d2783a"/>
<path d="M529.3 546.2v3.6M527.8 548h3" stroke="#d2783a" stroke-width="0.7"/>
<circle cx="529.3" cy="548" r="1.0" fill="#d2783a"/>
<path d="M586 505.1v3.6M584.5 506.9h3" stroke="#d2783a" stroke-width="0.7"/>
<circle cx="586" cy="506.9" r="1.0" fill="#d2783a"/>
<path d="M603.8 492.9v3.6M602.3 494.7h3" stroke="#d2783a" stroke-width="0.7"/>
<circle cx="603.8" cy="494.7" r="1.0" fill="#d2783a"/>
<path d="M545.5 534v3.6M544 535.8h3" stroke="#d2783a" stroke-width="0.7"/>
<circle cx="545.5" cy="535.8" r="1.0" fill="#d2783a"/>
<path d="M573.1 513.5v3.6M571.6 515.3h3" stroke="#d2783a" stroke-width="0.7"/>
<circle cx="573.1" cy="515.3" r="1.0" fill="#d2783a"/>
<path d="M586.9 503.4v3.6M585.4 505.2h3" stroke="#d2783a" stroke-width="0.7"/>
<circle cx="586.9" cy="505.2" r="1.0" fill="#d2783a"/>
<path d="M579.4 509.7v3.6M577.9 511.5h3" stroke="#d2783a" stroke-width="0.7"/>
<circle cx="579.4" cy="511.5" r="1.0" fill="#d2783a"/>
<path d="M563.7 522.4v3.6M562.2 524.2h3" stroke="#d2783a" stroke-width="0.7"/>
<circle cx="563.7" cy="524.2" r="1.0" fill="#d2783a"/>
<path d="M634.2 485.1v3.6M632.7 486.9h3" stroke="#d2783a" stroke-width="0.7"/>
<circle cx="634.2" cy="486.9" r="1.0" fill="#d2783a"/>
<path d="M543.9 530.4v3.6M542.4 532.2h3" stroke="#d2783a" stroke-width="0.7"/>
<circle cx="543.9" cy="532.2" r="1.0" fill="#d2783a"/>
<path d="M588.8 503.9v3.6M587.3 505.7h3" stroke="#d2783a" stroke-width="0.7"/>
<circle cx="588.8" cy="505.7" r="1.0" fill="#d2783a"/>
<path d="M610.2 490.9v3.6M608.7 492.7h3" stroke="#d2783a" stroke-width="0.7"/>
<circle cx="610.2" cy="492.7" r="1.0" fill="#d2783a"/>
<path d="M637.9 486.9v3.6M636.4 488.7h3" stroke="#d2783a" stroke-width="0.7"/>
<circle cx="637.9" cy="488.7" r="1.0" fill="#d2783a"/>
<path d="M565.5 519.1v3.6M564 520.9h3" stroke="#d2783a" stroke-width="0.7"/>
<circle cx="565.5" cy="520.9" r="1.0" fill="#d2783a"/>
<path d="M611.4 492.1v3.6M609.9 493.9h3" stroke="#d2783a" stroke-width="0.7"/>
<circle cx="611.4" cy="493.9" r="1.0" fill="#d2783a"/>
<path d="M601.6 496.1v3.6M600.1 497.9h3" stroke="#d2783a" stroke-width="0.7"/>
<circle cx="601.6" cy="497.9" r="1.0" fill="#d2783a"/>
<path d="M557.6 525.6v3.6M556.1 527.4h3" stroke="#d2783a" stroke-width="0.7"/>
<circle cx="557.6" cy="527.4" r="1.0" fill="#d2783a"/>
<path d="M619.2 488.9v3.6M617.7 490.7h3" stroke="#d2783a" stroke-width="0.7"/>
<circle cx="619.2" cy="490.7" r="1.0" fill="#d2783a"/>
<path d="M588.2 505.4v3.6M586.7 507.2h3" stroke="#d2783a" stroke-width="0.7"/>
<circle cx="588.2" cy="507.2" r="1.0" fill="#d2783a"/>
<path d="M588.8 502.2v3.6M587.3 504h3" stroke="#d2783a" stroke-width="0.7"/>
<circle cx="588.8" cy="504" r="1.0" fill="#d2783a"/>
<path d="M581.5 507.8v3.6M580 509.6h3" stroke="#d2783a" stroke-width="0.7"/>
<circle cx="581.5" cy="509.6" r="1.0" fill="#d2783a"/>
<path d="M608.8 495v3.6M607.3 496.8h3" stroke="#d2783a" stroke-width="0.7"/>
<circle cx="608.8" cy="496.8" r="1.0" fill="#d2783a"/>
<path d="M573.5 516.8v3.6M572 518.6h3" stroke="#d2783a" stroke-width="0.7"/>
<circle cx="573.5" cy="518.6" r="1.0" fill="#d2783a"/>
<path d="M591.2 499.9v3.6M589.7 501.7h3" stroke="#d2783a" stroke-width="0.7"/>
<circle cx="591.2" cy="501.7" r="1.0" fill="#d2783a"/>
<path d="M582 506.5v3.6M580.5 508.3h3" stroke="#d2783a" stroke-width="0.7"/>
<circle cx="582" cy="508.3" r="1.0" fill="#d2783a"/>
<path d="M578.8 509.7v3.6M577.3 511.5h3" stroke="#d2783a" stroke-width="0.7"/>
<circle cx="578.8" cy="511.5" r="1.0" fill="#d2783a"/>
<path d="M579.1 510.4v3.6M577.6 512.2h3" stroke="#d2783a" stroke-width="0.7"/>
<circle cx="579.1" cy="512.2" r="1.0" fill="#d2783a"/>
<path d="M548 532.8v3.6M546.5 534.6h3" stroke="#d2783a" stroke-width="0.7"/>
<circle cx="548" cy="534.6" r="1.0" fill="#d2783a"/>
<path d="M592.1 501.1v3.6M590.6 502.9h3" stroke="#d2783a" stroke-width="0.7"/>
<circle cx="592.1" cy="502.9" r="1.0" fill="#d2783a"/>
<path d="M539 538.3v3.6M537.5 540.1h3" stroke="#d2783a" stroke-width="0.7"/>
<circle cx="539" cy="540.1" r="1.0" fill="#d2783a"/>
<path d="M589 503v3.6M587.5 504.8h3" stroke="#d2783a" stroke-width="0.7"/>
<circle cx="589" cy="504.8" r="1.0" fill="#d2783a"/>
<path d="M588.4 503.6v3.6M586.9 505.4h3" stroke="#d2783a" stroke-width="0.7"/>
<circle cx="588.4" cy="505.4" r="1.0" fill="#d2783a"/>
<path d="M610.3 492.1v3.6M608.8 493.9h3" stroke="#d2783a" stroke-width="0.7"/>
<circle cx="610.3" cy="493.9" r="1.0" fill="#d2783a"/>
<path d="M586 501v3.6M584.5 502.8h3" stroke="#d2783a" stroke-width="0.7"/>
<circle cx="586" cy="502.8" r="1.0" fill="#d2783a"/>
<path d="M610.9 490.9v3.6M609.4 492.7h3" stroke="#d2783a" stroke-width="0.7"/>
<circle cx="610.9" cy="492.7" r="1.0" fill="#d2783a"/>
<path d="M631.6 485.4v3.6M630.1 487.2h3" stroke="#d2783a" stroke-width="0.7"/>
<circle cx="631.6" cy="487.2" r="1.0" fill="#d2783a"/>
<path d="M591.9 501.9v3.6M590.4 503.7h3" stroke="#d2783a" stroke-width="0.7"/>
<circle cx="591.9" cy="503.7" r="1.0" fill="#d2783a"/>
<path d="M566.2 518.6v3.6M564.7 520.4h3" stroke="#d2783a" stroke-width="0.7"/>
<circle cx="566.2" cy="520.4" r="1.0" fill="#d2783a"/>
<path d="M620.3 488.1v3.6M618.8 489.9h3" stroke="#d2783a" stroke-width="0.7"/>
<circle cx="620.3" cy="489.9" r="1.0" fill="#d2783a"/>
<path d="M548 531.2v3.6M546.5 533h3" stroke="#d2783a" stroke-width="0.7"/>
<circle cx="548" cy="533" r="1.0" fill="#d2783a"/>
<path d="M629.2 488.2v3.6M627.7 490h3" stroke="#d2783a" stroke-width="0.7"/>
<circle cx="629.2" cy="490" r="1.0" fill="#d2783a"/>
<path d="M587.8 505.5v3.6M586.3 507.3h3" stroke="#d2783a" stroke-width="0.7"/>
<circle cx="587.8" cy="507.3" r="1.0" fill="#d2783a"/>
<path d="M569.2 515.6v3.6M567.7 517.4h3" stroke="#d2783a" stroke-width="0.7"/>
<circle cx="569.2" cy="517.4" r="1.0" fill="#d2783a"/>
<path d="M561.4 522.8v3.6M559.9 524.6h3" stroke="#d2783a" stroke-width="0.7"/>
<circle cx="561.4" cy="524.6" r="1.0" fill="#d2783a"/>
<path d="M526.7 551v3.6M525.2 552.8h3" stroke="#d2783a" stroke-width="0.7"/>
<circle cx="526.7" cy="552.8" r="1.0" fill="#d2783a"/>
<path d="M608.5 491v3.6M607 492.8h3" stroke="#d2783a" stroke-width="0.7"/>
<circle cx="608.5" cy="492.8" r="1.0" fill="#d2783a"/>
<path d="M581.1 508.3v3.6M579.6 510.1h3" stroke="#d2783a" stroke-width="0.7"/>
<circle cx="581.1" cy="510.1" r="1.0" fill="#d2783a"/>
<path d="M576.1 510.1v3.6M574.6 511.9h3" stroke="#d2783a" stroke-width="0.7"/>
<circle cx="576.1" cy="511.9" r="1.0" fill="#d2783a"/>
<path d="M629.4 486.8v3.6M627.9 488.6h3" stroke="#d2783a" stroke-width="0.7"/>
<circle cx="629.4" cy="488.6" r="1.0" fill="#d2783a"/>
<path d="M616.7 487.5v3.6M615.2 489.3h3" stroke="#d2783a" stroke-width="0.7"/>
<circle cx="616.7" cy="489.3" r="1.0" fill="#d2783a"/>
<path d="M599.1 497.5v3.6M597.6 499.3h3" stroke="#d2783a" stroke-width="0.7"/>
<circle cx="599.1" cy="499.3" r="1.0" fill="#d2783a"/>
<path d="M532.6 546.6v3.6M531.1 548.4h3" stroke="#d2783a" stroke-width="0.7"/>
<circle cx="532.6" cy="548.4" r="1.0" fill="#d2783a"/>
<path d="M571.4 515.5v3.6M569.9 517.3h3" stroke="#d2783a" stroke-width="0.7"/>
<circle cx="571.4" cy="517.3" r="1.0" fill="#d2783a"/>
<path d="M544.4 534.1v3.6M542.9 535.9h3" stroke="#d2783a" stroke-width="0.7"/>
<circle cx="544.4" cy="535.9" r="1.0" fill="#d2783a"/>
<path d="M554.2 525.6v3.6M552.7 527.4h3" stroke="#d2783a" stroke-width="0.7"/>
<circle cx="554.2" cy="527.4" r="1.0" fill="#d2783a"/>
<path d="M533.1 543.5v3.6M531.6 545.3h3" stroke="#d2783a" stroke-width="0.7"/>
<circle cx="533.1" cy="545.3" r="1.0" fill="#d2783a"/>
<path d="M626.9 485.4v3.6M625.4 487.2h3" stroke="#d2783a" stroke-width="0.7"/>
<circle cx="626.9" cy="487.2" r="1.0" fill="#d2783a"/>
<path d="M619.6 485.2v3.6M618.1 487h3" stroke="#d2783a" stroke-width="0.7"/>
<circle cx="619.6" cy="487" r="1.0" fill="#d2783a"/>
<path d="M560.9 521.8v3.6M559.4 523.6h3" stroke="#d2783a" stroke-width="0.7"/>
<circle cx="560.9" cy="523.6" r="1.0" fill="#d2783a"/>
<path d="M628.9 486.4v3.6M627.4 488.2h3" stroke="#d2783a" stroke-width="0.7"/>
<circle cx="628.9" cy="488.2" r="1.0" fill="#d2783a"/>
<path d="M533.1 547.8v3.6M531.6 549.6h3" stroke="#d2783a" stroke-width="0.7"/>
<circle cx="533.1" cy="549.6" r="1.0" fill="#d2783a"/>
<path d="M509.5 565.6v3.6M508 567.4h3" stroke="#d2783a" stroke-width="0.7"/>
<circle cx="509.5" cy="567.4" r="1.0" fill="#d2783a"/>
<path d="M558.4 525v3.6M556.9 526.8h3" stroke="#d2783a" stroke-width="0.7"/>
<circle cx="558.4" cy="526.8" r="1.0" fill="#d2783a"/>
<path d="M539.9 537.3v3.6M538.4 539.1h3" stroke="#d2783a" stroke-width="0.7"/>
<circle cx="539.9" cy="539.1" r="1.0" fill="#d2783a"/>
<path d="M606.4 495.2v3.6M604.9 497h3" stroke="#d2783a" stroke-width="0.7"/>
<circle cx="606.4" cy="497" r="1.0" fill="#d2783a"/>
<path d="M564 519.6v3.6M562.5 521.4h3" stroke="#d2783a" stroke-width="0.7"/>
<circle cx="564" cy="521.4" r="1.0" fill="#d2783a"/>
<path d="M624.8 488.4v3.6M623.3 490.2h3" stroke="#d2783a" stroke-width="0.7"/>
<circle cx="624.8" cy="490.2" r="1.0" fill="#d2783a"/>
<path d="M511.8 563.5v3.6M510.3 565.3h3" stroke="#d2783a" stroke-width="0.7"/>
<circle cx="511.8" cy="565.3" r="1.0" fill="#d2783a"/>
<path d="M626 486v3.6M624.5 487.8h3" stroke="#d2783a" stroke-width="0.7"/>
<circle cx="626" cy="487.8" r="1.0" fill="#d2783a"/>
<path d="M511 559.8v3.6M509.5 561.6h3" stroke="#d2783a" stroke-width="0.7"/>
<circle cx="511" cy="561.6" r="1.0" fill="#d2783a"/>
<path d="M520.9 552.1v3.6M519.4 553.9h3" stroke="#d2783a" stroke-width="0.7"/>
<circle cx="520.9" cy="553.9" r="1.0" fill="#d2783a"/>
<path d="M515.8 559.4v3.6M514.3 561.2h3" stroke="#d2783a" stroke-width="0.7"/>
<circle cx="515.8" cy="561.2" r="1.0" fill="#d2783a"/>
<path d="M524.6 550.7v3.6M523.1 552.5h3" stroke="#d2783a" stroke-width="0.7"/>
<circle cx="524.6" cy="552.5" r="1.0" fill="#d2783a"/>
<path d="M514.3 560.1v3.6M512.8 561.9h3" stroke="#d2783a" stroke-width="0.7"/>
<circle cx="514.3" cy="561.9" r="1.0" fill="#d2783a"/>
<path d="M621.9 487.4v3.6M620.4 489.2h3" stroke="#d2783a" stroke-width="0.7"/>
<circle cx="621.9" cy="489.2" r="1.0" fill="#d2783a"/>
<path d="M584 504v3.6M582.5 505.8h3" stroke="#d2783a" stroke-width="0.7"/>
<circle cx="584" cy="505.8" r="1.0" fill="#d2783a"/>
<path d="M551.2 528.4v3.6M549.7 530.2h3" stroke="#d2783a" stroke-width="0.7"/>
<circle cx="551.2" cy="530.2" r="1.0" fill="#d2783a"/>
<path d="M512 559.9v3.6M510.5 561.7h3" stroke="#d2783a" stroke-width="0.7"/>
<circle cx="512" cy="561.7" r="1.0" fill="#d2783a"/>
<path d="M564.4 517.8v3.6M562.9 519.6h3" stroke="#d2783a" stroke-width="0.7"/>
<circle cx="564.4" cy="519.6" r="1.0" fill="#d2783a"/>
<path d="M621.4 489.8v3.6M619.9 491.6h3" stroke="#d2783a" stroke-width="0.7"/>
<circle cx="621.4" cy="491.6" r="1.0" fill="#d2783a"/>
<path d="M636.5 486.6v3.6M635 488.4h3" stroke="#d2783a" stroke-width="0.7"/>
<circle cx="636.5" cy="488.4" r="1.0" fill="#d2783a"/>
<path d="M510.3 560.9v3.6M508.8 562.7h3" stroke="#d2783a" stroke-width="0.7"/>
<circle cx="510.3" cy="562.7" r="1.0" fill="#d2783a"/>
<path d="M527.1 548.8v3.6M525.6 550.6h3" stroke="#d2783a" stroke-width="0.7"/>
<circle cx="527.1" cy="550.6" r="1.0" fill="#d2783a"/>
<path d="M599.9 495.6v3.6M598.4 497.4h3" stroke="#d2783a" stroke-width="0.7"/>
<circle cx="599.9" cy="497.4" r="1.0" fill="#d2783a"/>
<path d="M530.9 543.6v3.6M529.4 545.4h3" stroke="#d2783a" stroke-width="0.7"/>
<circle cx="530.9" cy="545.4" r="1.0" fill="#d2783a"/>
<path d="M521.7 551.1v3.6M520.2 552.9h3" stroke="#d2783a" stroke-width="0.7"/>
<circle cx="521.7" cy="552.9" r="1.0" fill="#d2783a"/>
<path d="M537.8 538.9v3.6M536.3 540.7h3" stroke="#d2783a" stroke-width="0.7"/>
<circle cx="537.8" cy="540.7" r="1.0" fill="#d2783a"/>
<path d="M559.6 523v3.6M558.1 524.8h3" stroke="#d2783a" stroke-width="0.7"/>
<circle cx="559.6" cy="524.8" r="1.0" fill="#d2783a"/>
<path d="M638.8 487.6v3.6M637.3 489.4h3" stroke="#d2783a" stroke-width="0.7"/>
<circle cx="638.8" cy="489.4" r="1.0" fill="#d2783a"/>
<path d="M627.9 485.1v3.6M626.4 486.9h3" stroke="#d2783a" stroke-width="0.7"/>
<circle cx="627.9" cy="486.9" r="1.0" fill="#d2783a"/>
<path d="M522.2 554.7v3.6M520.7 556.5h3" stroke="#d2783a" stroke-width="0.7"/>
<circle cx="522.2" cy="556.5" r="1.0" fill="#d2783a"/>
<path d="M515.6 558.7v3.6M514.1 560.5h3" stroke="#d2783a" stroke-width="0.7"/>
<circle cx="515.6" cy="560.5" r="1.0" fill="#d2783a"/>
<path d="M590.6 504.6v3.6M589.1 506.4h3" stroke="#d2783a" stroke-width="0.7"/>
<circle cx="590.6" cy="506.4" r="1.0" fill="#d2783a"/>
<path d="M597.5 498.9v3.6M596 500.7h3" stroke="#d2783a" stroke-width="0.7"/>
<circle cx="597.5" cy="500.7" r="1.0" fill="#d2783a"/>
<path d="M555.2 526.5v3.6M553.7 528.3h3" stroke="#d2783a" stroke-width="0.7"/>
<circle cx="555.2" cy="528.3" r="1.0" fill="#d2783a"/>
<path d="M552.4 529v3.6M550.9 530.8h3" stroke="#d2783a" stroke-width="0.7"/>
<circle cx="552.4" cy="530.8" r="1.0" fill="#d2783a"/>
<path d="M617.8 489.9v3.6M616.3 491.7h3" stroke="#d2783a" stroke-width="0.7"/>
<circle cx="617.8" cy="491.7" r="1.0" fill="#d2783a"/>
<path d="M533.9 543.2v3.6M532.4 545h3" stroke="#d2783a" stroke-width="0.7"/>
<circle cx="533.9" cy="545" r="1.0" fill="#d2783a"/>
<path d="M605.8 494.3v3.6M604.3 496.1h3" stroke="#d2783a" stroke-width="0.7"/>
<circle cx="605.8" cy="496.1" r="1.0" fill="#d2783a"/>
<path d="M539.6 538.9v3.6M538.1 540.7h3" stroke="#d2783a" stroke-width="0.7"/>
<circle cx="539.6" cy="540.7" r="1.0" fill="#d2783a"/>
<path d="M522.2 552.5v3.6M520.7 554.3h3" stroke="#d2783a" stroke-width="0.7"/>
<circle cx="522.2" cy="554.3" r="1.0" fill="#d2783a"/>
<path d="M588 504v3.6M586.5 505.8h3" stroke="#d2783a" stroke-width="0.7"/>
<circle cx="588" cy="505.8" r="1.0" fill="#d2783a"/>
<path d="M611.7 495.3v3.6M610.2 497.1h3" stroke="#d2783a" stroke-width="0.7"/>
<circle cx="611.7" cy="497.1" r="1.0" fill="#d2783a"/>
<path d="M635.5 485.9v3.6M634 487.7h3" stroke="#d2783a" stroke-width="0.7"/>
<circle cx="635.5" cy="487.7" r="1.0" fill="#d2783a"/>
<path d="M618.4 489v3.6M616.9 490.8h3" stroke="#d2783a" stroke-width="0.7"/>
<circle cx="618.4" cy="490.8" r="1.0" fill="#d2783a"/>
<path d="M588.7 505.1v3.6M587.2 506.9h3" stroke="#d2783a" stroke-width="0.7"/>
<circle cx="588.7" cy="506.9" r="1.0" fill="#d2783a"/>
<path d="M580 508.5v3.6M578.5 510.3h3" stroke="#d2783a" stroke-width="0.7"/>
<circle cx="580" cy="510.3" r="1.0" fill="#d2783a"/>
<path d="M590.6 503.3v3.6M589.1 505.1h3" stroke="#d2783a" stroke-width="0.7"/>
<circle cx="590.6" cy="505.1" r="1.0" fill="#d2783a"/>
<path d="M536.4 543v3.6M534.9 544.8h3" stroke="#d2783a" stroke-width="0.7"/>
<circle cx="536.4" cy="544.8" r="1.0" fill="#d2783a"/>
<path d="M570.4 515.1v3.6M568.9 516.9h3" stroke="#d2783a" stroke-width="0.7"/>
<circle cx="570.4" cy="516.9" r="1.0" fill="#d2783a"/>
<path d="M546 532.6v3.6M544.5 534.4h3" stroke="#d2783a" stroke-width="0.7"/>
<circle cx="546" cy="534.4" r="1.0" fill="#d2783a"/>
<path d="M514.2 558.2v3.6M512.7 560h3" stroke="#d2783a" stroke-width="0.7"/>
<circle cx="514.2" cy="560" r="1.0" fill="#d2783a"/>
<path d="M560.5 523.1v3.6M559 524.9h3" stroke="#d2783a" stroke-width="0.7"/>
<circle cx="560.5" cy="524.9" r="1.0" fill="#d2783a"/>
<path d="M555.7 526.8v3.6M554.2 528.6h3" stroke="#d2783a" stroke-width="0.7"/>
<circle cx="555.7" cy="528.6" r="1.0" fill="#d2783a"/>
<path d="M583.5 508.9v3.6M582 510.7h3" stroke="#d2783a" stroke-width="0.7"/>
<circle cx="583.5" cy="510.7" r="1.0" fill="#d2783a"/>
<path d="M622.1 489.5v3.6M620.6 491.3h3" stroke="#d2783a" stroke-width="0.7"/>
<circle cx="622.1" cy="491.3" r="1.0" fill="#d2783a"/>
<path d="M597.8 497v3.6M596.3 498.8h3" stroke="#d2783a" stroke-width="0.7"/>
<circle cx="597.8" cy="498.8" r="1.0" fill="#d2783a"/>
<path d="M587.4 507.7v3.6M585.9 509.5h3" stroke="#d2783a" stroke-width="0.7"/>
<circle cx="587.4" cy="509.5" r="1.0" fill="#d2783a"/>
<path d="M521.4 555.3v3.6M519.9 557.1h3" stroke="#d2783a" stroke-width="0.7"/>
<circle cx="521.4" cy="557.1" r="1.0" fill="#d2783a"/>
<path d="M537.1 540.2v3.6M535.6 542h3" stroke="#d2783a" stroke-width="0.7"/>
<circle cx="537.1" cy="542" r="1.0" fill="#d2783a"/>
<path d="M602.5 495.8v3.6M601 497.6h3" stroke="#d2783a" stroke-width="0.7"/>
<circle cx="602.5" cy="497.6" r="1.0" fill="#d2783a"/>
<path d="M569.4 519.2v3.6M567.9 521h3" stroke="#d2783a" stroke-width="0.7"/>
<circle cx="569.4" cy="521" r="1.0" fill="#d2783a"/>
<path d="M555.2 527.2v3.6M553.7 529h3" stroke="#d2783a" stroke-width="0.7"/>
<circle cx="555.2" cy="529" r="1.0" fill="#d2783a"/>
<path d="M578.3 508.8v3.6M576.8 510.6h3" stroke="#d2783a" stroke-width="0.7"/>
<circle cx="578.3" cy="510.6" r="1.0" fill="#d2783a"/>
<line x1="585.4" y1="513.3" x2="596.4" y2="513.3" stroke="#5aa64f" stroke-width="0.9"/><line x1="590.9" y1="511.8" x2="590.9" y2="514.8" stroke="#5aa64f" stroke-width="1"/><circle cx="590.9" cy="513.3" r="1.1" fill="#5aa64f"/>
<line x1="640.1" y1="503" x2="643.1" y2="503" stroke="#5aa64f" stroke-width="0.9"/><line x1="641.6" y1="499" x2="641.6" y2="507" stroke="#5aa64f" stroke-width="1"/><circle cx="641.6" cy="503" r="1.1" fill="#5aa64f"/>
<line x1="641.9" y1="493" x2="644.9" y2="493" stroke="#5aa64f" stroke-width="0.9"/><line x1="643.4" y1="490" x2="643.4" y2="496" stroke="#5aa64f" stroke-width="1"/><circle cx="643.4" cy="493" r="1.1" fill="#5aa64f"/>
<line x1="645.5" y1="494" x2="648.5" y2="494" stroke="#5aa64f" stroke-width="0.9"/><line x1="647" y1="491" x2="647" y2="497" stroke="#5aa64f" stroke-width="1"/><circle cx="647" cy="494" r="1.1" fill="#5aa64f"/>
<line x1="648.2" y1="495.7" x2="651.2" y2="495.7" stroke="#5aa64f" stroke-width="0.9"/><line x1="649.7" y1="492.7" x2="649.7" y2="498.7" stroke="#5aa64f" stroke-width="1"/><circle cx="649.7" cy="495.7" r="1.1" fill="#5aa64f"/>
<line x1="650" y1="501.2" x2="653" y2="501.2" stroke="#5aa64f" stroke-width="0.9"/><line x1="651.5" y1="496.2" x2="651.5" y2="506.2" stroke="#5aa64f" stroke-width="1"/><circle cx="651.5" cy="501.2" r="1.1" fill="#5aa64f"/>
<line x1="651.8" y1="513.8" x2="654.8" y2="513.8" stroke="#5aa64f" stroke-width="0.9"/><line x1="653.3" y1="505.8" x2="653.3" y2="521.8" stroke="#5aa64f" stroke-width="1"/><circle cx="653.3" cy="513.8" r="1.1" fill="#5aa64f"/>
<line x1="654.5" y1="515.7" x2="657.5" y2="515.7" stroke="#5aa64f" stroke-width="0.9"/><line x1="656" y1="505.7" x2="656" y2="525.7" stroke="#5aa64f" stroke-width="1"/><circle cx="656" cy="515.7" r="1.1" fill="#5aa64f"/>
<line x1="657.3" y1="502.1" x2="660.3" y2="502.1" stroke="#5aa64f" stroke-width="0.9"/><line x1="658.8" y1="496.1" x2="658.8" y2="508.1" stroke="#5aa64f" stroke-width="1"/><circle cx="658.8" cy="502.1" r="1.1" fill="#5aa64f"/>
<line x1="660" y1="509.3" x2="663" y2="509.3" stroke="#5aa64f" stroke-width="0.9"/><line x1="661.5" y1="501.3" x2="661.5" y2="517.3" stroke="#5aa64f" stroke-width="1"/><circle cx="661.5" cy="509.3" r="1.1" fill="#5aa64f"/>
<line x1="662.2" y1="518.4" x2="665.2" y2="518.4" stroke="#5aa64f" stroke-width="0.9"/><line x1="663.7" y1="508.4" x2="663.7" y2="528.4" stroke="#5aa64f" stroke-width="1"/><circle cx="663.7" cy="518.4" r="1.1" fill="#5aa64f"/>
<line x1="666.3" y1="521.1" x2="669.3" y2="521.1" stroke="#5aa64f" stroke-width="0.9"/><line x1="667.8" y1="511.1" x2="667.8" y2="531.1" stroke="#5aa64f" stroke-width="1"/><circle cx="667.8" cy="521.1" r="1.1" fill="#5aa64f"/>
<line x1="669.9" y1="501.7" x2="672.9" y2="501.7" stroke="#5aa64f" stroke-width="0.9"/><line x1="671.4" y1="495.7" x2="671.4" y2="507.7" stroke="#5aa64f" stroke-width="1"/><circle cx="671.4" cy="501.7" r="1.1" fill="#5aa64f"/>
<line x1="673.8" y1="524.7" x2="681" y2="524.7" stroke="#5aa64f" stroke-width="0.9"/><line x1="677.4" y1="516.7" x2="677.4" y2="532.7" stroke="#5aa64f" stroke-width="1"/><circle cx="677.4" cy="524.7" r="1.1" fill="#5aa64f"/>
<line x1="634.5" y1="491" x2="637.5" y2="491" stroke="#5aa64f" stroke-width="0.9"/><line x1="636" y1="489" x2="636" y2="493" stroke="#5aa64f" stroke-width="1"/><circle cx="636" cy="491" r="1.1" fill="#5aa64f"/>
<line x1="628.5" y1="492" x2="631.5" y2="492" stroke="#5aa64f" stroke-width="0.9"/><line x1="630" y1="490" x2="630" y2="494" stroke="#5aa64f" stroke-width="1"/><circle cx="630" cy="492" r="1.1" fill="#5aa64f"/>
<line x1="623.5" y1="489" x2="626.5" y2="489" stroke="#5aa64f" stroke-width="0.9"/><line x1="625" y1="487" x2="625" y2="491" stroke="#5aa64f" stroke-width="1"/><circle cx="625" cy="489" r="1.1" fill="#5aa64f"/>
<path d="M512.2 558v4M510.7 560h3" stroke="#3b56a6" stroke-width="0.8"/><circle cx="512.2" cy="560" r="1.1" fill="#3b56a6"/>
<path d="M515.4 559v4M513.9 561h3" stroke="#3b56a6" stroke-width="0.8"/><circle cx="515.4" cy="561" r="1.1" fill="#3b56a6"/>
<path d="M519 559.5v4M517.5 561.5h3" stroke="#3b56a6" stroke-width="0.8"/><circle cx="519" cy="561.5" r="1.1" fill="#3b56a6"/>
<path d="M523.9 559.4v4M522.4 561.4h3" stroke="#3b56a6" stroke-width="0.8"/><circle cx="523.9" cy="561.4" r="1.1" fill="#3b56a6"/>
<path d="M509.4 566.4v4M507.9 568.4h3" stroke="#3b56a6" stroke-width="0.8"/><circle cx="509.4" cy="568.4" r="1.1" fill="#3b56a6"/>
<path d="M526 564v4M524.5 566h3" stroke="#3b56a6" stroke-width="0.8"/><circle cx="526" cy="566" r="1.1" fill="#3b56a6"/>
<rect x="502.1" y="457.3" width="206.9" height="127.1" fill="none" stroke="#333" stroke-width="1.3"/>
<text x="510.4" y="597.5" font-family="Liberation Sans" font-size="8.3" fill="#222" text-anchor="middle">10<tspan font-size="5.8" dy="-3.5">1</tspan></text>
<text x="576.9" y="597.5" font-family="Liberation Sans" font-size="8.3" fill="#222" text-anchor="middle">10<tspan font-size="5.8" dy="-3.5">2</tspan></text>
<text x="643.4" y="597.5" font-family="Liberation Sans" font-size="8.3" fill="#222" text-anchor="middle">10<tspan font-size="5.8" dy="-3.5">3</tspan></text>
<text x="709.9" y="597.5" font-family="Liberation Sans" font-size="8.3" fill="#222" text-anchor="middle">10<tspan font-size="5.8" dy="-3.5">4</tspan></text>
<text x="496.6" y="587.4" font-family="Liberation Sans" font-size="8.3" fill="#222" text-anchor="end">10<tspan font-size="5.8" dy="-3.5">2</tspan></text>
<line x1="499.6" y1="584.4" x2="502.1" y2="584.4" stroke="#8a8a8a" stroke-width="0.8"/>
<line x1="500.6" y1="571.6" x2="502.1" y2="571.6" stroke="#aaa" stroke-width="0.6"/>
<line x1="500.6" y1="564.2" x2="502.1" y2="564.2" stroke="#aaa" stroke-width="0.6"/>
<line x1="500.6" y1="558.9" x2="502.1" y2="558.9" stroke="#aaa" stroke-width="0.6"/>
<line x1="500.6" y1="554.8" x2="502.1" y2="554.8" stroke="#aaa" stroke-width="0.6"/>
<line x1="500.6" y1="551.4" x2="502.1" y2="551.4" stroke="#aaa" stroke-width="0.6"/>
<line x1="500.6" y1="548.6" x2="502.1" y2="548.6" stroke="#aaa" stroke-width="0.6"/>
<line x1="500.6" y1="546.1" x2="502.1" y2="546.1" stroke="#aaa" stroke-width="0.6"/>
<line x1="500.6" y1="543.9" x2="502.1" y2="543.9" stroke="#aaa" stroke-width="0.6"/>
<text x="496.6" y="545" font-family="Liberation Sans" font-size="8.3" fill="#222" text-anchor="end">10<tspan font-size="5.8" dy="-3.5">3</tspan></text>
<line x1="499.6" y1="542" x2="502.1" y2="542" stroke="#8a8a8a" stroke-width="0.8"/>
<line x1="500.6" y1="529.2" x2="502.1" y2="529.2" stroke="#aaa" stroke-width="0.6"/>
<line x1="500.6" y1="521.8" x2="502.1" y2="521.8" stroke="#aaa" stroke-width="0.6"/>
<line x1="500.6" y1="516.5" x2="502.1" y2="516.5" stroke="#aaa" stroke-width="0.6"/>
<line x1="500.6" y1="512.4" x2="502.1" y2="512.4" stroke="#aaa" stroke-width="0.6"/>
<line x1="500.6" y1="509" x2="502.1" y2="509" stroke="#aaa" stroke-width="0.6"/>
<line x1="500.6" y1="506.2" x2="502.1" y2="506.2" stroke="#aaa" stroke-width="0.6"/>
<line x1="500.6" y1="503.7" x2="502.1" y2="503.7" stroke="#aaa" stroke-width="0.6"/>
<line x1="500.6" y1="501.5" x2="502.1" y2="501.5" stroke="#aaa" stroke-width="0.6"/>
<text x="496.6" y="502.6" font-family="Liberation Sans" font-size="8.3" fill="#222" text-anchor="end">10<tspan font-size="5.8" dy="-3.5">4</tspan></text>
<line x1="499.6" y1="499.6" x2="502.1" y2="499.6" stroke="#8a8a8a" stroke-width="0.8"/>
<line x1="500.6" y1="486.8" x2="502.1" y2="486.8" stroke="#aaa" stroke-width="0.6"/>
<line x1="500.6" y1="479.4" x2="502.1" y2="479.4" stroke="#aaa" stroke-width="0.6"/>
<line x1="500.6" y1="474.1" x2="502.1" y2="474.1" stroke="#aaa" stroke-width="0.6"/>
<line x1="500.6" y1="470" x2="502.1" y2="470" stroke="#aaa" stroke-width="0.6"/>
<line x1="500.6" y1="466.6" x2="502.1" y2="466.6" stroke="#aaa" stroke-width="0.6"/>
<line x1="500.6" y1="463.8" x2="502.1" y2="463.8" stroke="#aaa" stroke-width="0.6"/>
<line x1="500.6" y1="461.3" x2="502.1" y2="461.3" stroke="#aaa" stroke-width="0.6"/>
<line x1="500.6" y1="459.1" x2="502.1" y2="459.1" stroke="#aaa" stroke-width="0.6"/>
<text x="496.6" y="460.2" font-family="Liberation Sans" font-size="8.3" fill="#222" text-anchor="end">10<tspan font-size="5.8" dy="-3.5">5</tspan></text>
<line x1="499.6" y1="457.2" x2="502.1" y2="457.2" stroke="#8a8a8a" stroke-width="0.8"/>
<line x1="508.7" y1="584.4" x2="508.7" y2="586.9" stroke="#8a8a8a" stroke-width="0.8"/>
<line x1="575.2" y1="584.4" x2="575.2" y2="586.9" stroke="#8a8a8a" stroke-width="0.8"/>
<line x1="641.7" y1="584.4" x2="641.7" y2="586.9" stroke="#8a8a8a" stroke-width="0.8"/>
<line x1="708.2" y1="584.4" x2="708.2" y2="586.9" stroke="#8a8a8a" stroke-width="0.8"/>
<rect x="504.4" y="460.5" width="44" height="26.1" rx="1" fill="#fff" stroke="#d0d0d0" stroke-width="0.7"/>
<line x1="506.4" y1="465.3" x2="514.9" y2="465.3" stroke="#a8322d" stroke-width="1" stroke-dasharray="3 1 1 1"/>
<text x="518.4" y="466.9" font-family="Liberation Sans" font-size="4.6" fill="#222">Cut_Powerlaw</text>
<line x1="508.1" y1="470.8" x2="513.1" y2="470.8" stroke="#3b56a6" stroke-width="0.8"/><line x1="510.6" y1="468.3" x2="510.6" y2="473.3" stroke="#3b56a6" stroke-width="0.8"/>
<circle cx="510.6" cy="470.8" r="1.2" fill="#3b56a6"/>
<text x="518.4" y="472.4" font-family="Liberation Sans" font-size="4.6" fill="#222">NAI3</text>
<line x1="508.1" y1="476.3" x2="513.1" y2="476.3" stroke="#d2783a" stroke-width="0.8"/><line x1="510.6" y1="473.8" x2="510.6" y2="478.8" stroke="#d2783a" stroke-width="0.8"/>
<circle cx="510.6" cy="476.3" r="1.2" fill="#d2783a"/>
<text x="518.4" y="478" font-family="Liberation Sans" font-size="4.6" fill="#222">NAI4</text>
<line x1="508.1" y1="481.8" x2="513.1" y2="481.8" stroke="#5aa64f" stroke-width="0.8"/><line x1="510.6" y1="479.3" x2="510.6" y2="484.3" stroke="#5aa64f" stroke-width="0.8"/>
<circle cx="510.6" cy="481.8" r="1.2" fill="#5aa64f"/>
<text x="518.4" y="483.5" font-family="Liberation Sans" font-size="4.6" fill="#222">BGO0</text>
<text x="563.3" y="477.6" font-family="Liberation Serif" font-size="20.3" fill="#111" stroke="#111" stroke-width="0.3">vNS-rise II</text>
<polyline clip-path="url(#clip3)" points="197.8,735.2 198.5,735 199.3,734.9 200,734.8 200.7,734.6 201.4,734.5 202.2,734.4 202.9,734.2 203.6,734.1 204.3,734 205.1,733.8 205.8,733.7 206.5,733.6 207.2,733.4 208,733.3 208.7,733.2 209.4,733 210.2,732.9 210.9,732.8 211.6,732.6 212.3,732.5 213.1,732.4 213.8,732.2 214.5,732.1 215.2,732 216,731.8 216.7,731.7 217.4,731.6 218.1,731.4 218.9,731.3 219.6,731.2 220.3,731 221.1,730.9 221.8,730.8 222.5,730.6 223.2,730.5 224,730.4 224.7,730.2 225.4,730.1 226.1,730 226.9,729.9 227.6,729.7 228.3,729.6 229,729.5 229.8,729.3 230.5,729.2 231.2,729.1 232,728.9 232.7,728.8 233.4,728.7 234.1,728.6 234.9,728.4 235.6,728.3 236.3,728.2 237,728 237.8,727.9 238.5,727.8 239.2,727.7 239.9,727.5 240.7,727.4 241.4,727.3 242.1,727.2 242.9,727 243.6,726.9 244.3,726.8 245,726.7 245.8,726.5 246.5,726.4 247.2,726.3 247.9,726.2 248.7,726 249.4,725.9 250.1,725.8 250.8,725.7 251.6,725.5 252.3,725.4 253,725.3 253.8,725.2 254.5,725.1 255.2,724.9 255.9,724.8 256.7,724.7 257.4,724.6 258.1,724.5 258.8,724.4 259.6,724.2 260.3,724.1 261,724 261.7,723.9 262.5,723.8 263.2,723.7 263.9,723.6 264.7,723.4 265.4,723.3 266.1,723.2 266.8,723.1 267.6,723 268.3,722.9 269,722.8 269.7,722.7 270.5,722.6 271.2,722.5 271.9,722.4 272.6,722.3 273.4,722.2 274.1,722.1 274.8,722 275.6,721.9 276.3,721.8 277,721.7 277.7,721.6 278.5,721.5 279.2,721.4 279.9,721.3 280.6,721.2 281.4,721.1 282.1,721 282.8,721 283.5,720.9 284.3,720.8 285,720.7 285.7,720.6 286.5,720.6 287.2,720.5 287.9,720.4 288.6,720.3 289.4,720.3 290.1,720.2 290.8,720.1 291.5,720.1 292.3,720 293,720 293.7,719.9 294.4,719.8 295.2,719.8 295.9,719.7 296.6,719.7 297.3,719.6 298.1,719.6 298.8,719.6 299.5,719.5 300.3,719.5 301,719.5 301.7,719.4 302.4,719.4 303.2,719.4 303.9,719.4 304.6,719.4 305.3,719.3 306.1,719.3 306.8,719.3 307.5,719.3 308.2,719.3 309,719.4 309.7,719.4 310.4,719.4 311.2,719.4 311.9,719.4 312.6,719.5 313.3,719.5 314.1,719.5 314.8,719.6 315.5,719.6 316.2,719.7 317,719.8 317.7,719.8 318.4,719.9 319.1,720 319.9,720.1 320.6,720.2 321.3,720.3 322.1,720.4 322.8,720.5 323.5,720.6 324.2,720.7 325,720.9 325.7,721 326.4,721.2 327.1,721.3 327.9,721.5 328.6,721.7 329.3,721.9 330,722.1 330.8,722.3 331.5,722.5 332.2,722.7 333,723 333.7,723.2 334.4,723.5 335.1,723.8 335.9,724.1 336.6,724.4 337.3,724.7 338,725 338.8,725.3 339.5,725.7 340.2,726.1 340.9,726.4 341.7,726.8 342.4,727.2 343.1,727.7 343.9,728.1 344.6,728.6 345.3,729.1 346,729.6 346.8,730.1 347.5,730.6 348.2,731.2 348.9,731.7 349.7,732.3 350.4,732.9 351.1,733.6 351.8,734.2 352.6,734.9 353.3,735.6 354,736.4 354.8,737.1 355.5,737.9 356.2,738.7 356.9,739.6 357.7,740.4 358.4,741.3 359.1,742.3 359.8,743.2 360.6,744.2 361.3,745.2 362,746.3 362.7,747.4 363.5,748.5 364.2,749.7 364.9,750.9 365.7,752.2 366.4,753.4 367.1,754.8 367.8,756.1 368.6,757.6 369.3,759 370,760.5 370.7,762.1 371.5,763.7 372.2,765.3 372.9,767 373.6,768.8 374.4,770.6 375.1,772.5 375.8,774.4 376.6,776.4 377.3,778.5 378,780.6 378.7,782.8 379.5,785 380.2,787.4 380.9,789.8 381.6,792.2 382.4,794.8 383.1,797.4 383.8,800.1 384.5,802.9 385.3,805.8 386,808.8" fill="none" stroke="#3a6fb8" stroke-width="1.4" stroke-dasharray="4 2.5"/>
<polyline clip-path="url(#clip3)" points="197.8,805.7 198.5,804.8 199.3,804 200,803.1 200.7,802.3 201.4,801.4 202.2,800.5 202.9,799.7 203.6,798.8 204.3,798 205.1,797.1 205.8,796.3 206.5,795.4 207.2,794.6 208,793.7 208.7,792.9 209.4,792 210.2,791.2 210.9,790.3 211.6,789.5 212.3,788.6 213.1,787.8 213.8,786.9 214.5,786.1 215.2,785.2 216,784.4 216.7,783.5 217.4,782.7 218.1,781.9 218.9,781 219.6,780.2 220.3,779.3 221.1,778.5 221.8,777.6 222.5,776.8 223.2,775.9 224,775.1 224.7,774.3 225.4,773.4 226.1,772.6 226.9,771.7 227.6,770.9 228.3,770 229,769.2 229.8,768.4 230.5,767.5 231.2,766.7 232,765.9 232.7,765 233.4,764.2 234.1,763.3 234.9,762.5 235.6,761.7 236.3,760.8 237,760 237.8,759.2 238.5,758.3 239.2,757.5 239.9,756.7 240.7,755.9 241.4,755 242.1,754.2 242.9,753.4 243.6,752.6 244.3,751.7 245,750.9 245.8,750.1 246.5,749.3 247.2,748.4 247.9,747.6 248.7,746.8 249.4,746 250.1,745.2 250.8,744.4 251.6,743.6 252.3,742.7 253,741.9 253.8,741.1 254.5,740.3 255.2,739.5 255.9,738.7 256.7,737.9 257.4,737.1 258.1,736.3 258.8,735.5 259.6,734.7 260.3,734 261,733.2 261.7,732.4 262.5,731.6 263.2,730.8 263.9,730 264.7,729.3 265.4,728.5 266.1,727.7 266.8,726.9 267.6,726.2 268.3,725.4 269,724.6 269.7,723.9 270.5,723.1 271.2,722.4 271.9,721.6 272.6,720.9 273.4,720.2 274.1,719.4 274.8,718.7 275.6,718 276.3,717.2 277,716.5 277.7,715.8 278.5,715.1 279.2,714.4 279.9,713.7 280.6,713 281.4,712.3 282.1,711.6 282.8,710.9 283.5,710.3 284.3,709.6 285,708.9 285.7,708.3 286.5,707.6 287.2,707 287.9,706.3 288.6,705.7 289.4,705.1 290.1,704.5 290.8,703.9 291.5,703.3 292.3,702.7 293,702.1 293.7,701.6 294.4,701 295.2,700.4 295.9,699.9 296.6,699.4 297.3,698.9 298.1,698.4 298.8,697.9 299.5,697.4 300.3,696.9 301,696.5 301.7,696 302.4,695.6 303.2,695.2 303.9,694.8 304.6,694.5 305.3,694.1 306.1,693.8 306.8,693.4 307.5,693.1 308.2,692.9 309,692.6 309.7,692.4 310.4,692.1 311.2,691.9 311.9,691.8 312.6,691.6 313.3,691.5 314.1,691.4 314.8,691.3 315.5,691.3 316.2,691.3 317,691.3 317.7,691.4 318.4,691.5 319.1,691.6 319.9,691.7 320.6,691.9 321.3,692.2 322.1,692.4 322.8,692.8 323.5,693.1 324.2,693.5 325,694 325.7,694.4 326.4,695 327.1,695.6 327.9,696.2 328.6,696.9 329.3,697.7 330,698.5 330.8,699.3 331.5,700.3 332.2,701.3 333,702.3 333.7,703.5 334.4,704.6 335.1,705.9 335.9,707.3 336.6,708.7 337.3,710.2 338,711.7 338.8,713.4 339.5,715.1 340.2,717 340.9,718.9 341.7,720.9 342.4,723 343.1,725.2 343.9,727.5 344.6,730 345.3,732.5 346,735.1 346.8,737.9 347.5,740.8 348.2,743.8 348.9,746.9 349.7,750.1 350.4,753.5 351.1,757 351.8,760.7 352.6,764.5 353.3,768.5 354,772.6 354.8,776.8 355.5,781.3 356.2,785.9 356.9,790.6 357.7,795.6 358.4,800.7 359.1,806 359.8,811.5 360.6,815.4" fill="none" stroke="#ef8531" stroke-width="1.4" stroke-dasharray="4 2.5"/>
<polyline clip-path="url(#clip3)" points="197.8,735.1 198.5,734.9 199.3,734.8 200,734.6 200.7,734.5 201.4,734.3 202.2,734.2 202.9,734.1 203.6,733.9 204.3,733.8 205.1,733.6 205.8,733.5 206.5,733.3 207.2,733.2 208,733 208.7,732.9 209.4,732.8 210.2,732.6 210.9,732.5 211.6,732.3 212.3,732.2 213.1,732 213.8,731.9 214.5,731.7 215.2,731.6 216,731.4 216.7,731.3 217.4,731.1 218.1,730.9 218.9,730.8 219.6,730.6 220.3,730.5 221.1,730.3 221.8,730.2 222.5,730 223.2,729.8 224,729.7 224.7,729.5 225.4,729.3 226.1,729.2 226.9,729 227.6,728.8 228.3,728.6 229,728.5 229.8,728.3 230.5,728.1 231.2,727.9 232,727.8 232.7,727.6 233.4,727.4 234.1,727.2 234.9,727 235.6,726.8 236.3,726.6 237,726.4 237.8,726.2 238.5,726 239.2,725.8 239.9,725.6 240.7,725.4 241.4,725.1 242.1,724.9 242.9,724.7 243.6,724.5 244.3,724.2 245,724 245.8,723.8 246.5,723.5 247.2,723.3 247.9,723 248.7,722.7 249.4,722.5 250.1,722.2 250.8,721.9 251.6,721.7 252.3,721.4 253,721.1 253.8,720.8 254.5,720.5 255.2,720.2 255.9,719.9 256.7,719.6 257.4,719.3 258.1,718.9 258.8,718.6 259.6,718.3 260.3,717.9 261,717.6 261.7,717.2 262.5,716.9 263.2,716.5 263.9,716.1 264.7,715.8 265.4,715.4 266.1,715 266.8,714.6 267.6,714.2 268.3,713.8 269,713.4 269.7,713 270.5,712.5 271.2,712.1 271.9,711.7 272.6,711.3 273.4,710.8 274.1,710.4 274.8,709.9 275.6,709.5 276.3,709 277,708.6 277.7,708.1 278.5,707.6 279.2,707.2 279.9,706.7 280.6,706.2 281.4,705.8 282.1,705.3 282.8,704.8 283.5,704.3 284.3,703.8 285,703.4 285.7,702.9 286.5,702.4 287.2,701.9 287.9,701.5 288.6,701 289.4,700.5 290.1,700 290.8,699.6 291.5,699.1 292.3,698.7 293,698.2 293.7,697.7 294.4,697.3 295.2,696.9 295.9,696.4 296.6,696 297.3,695.6 298.1,695.2 298.8,694.8 299.5,694.4 300.3,694 301,693.6 301.7,693.2 302.4,692.9 303.2,692.5 303.9,692.2 304.6,691.9 305.3,691.6 306.1,691.3 306.8,691 307.5,690.8 308.2,690.5 309,690.3 309.7,690.1 310.4,689.9 311.2,689.8 311.9,689.6 312.6,689.5 313.3,689.4 314.1,689.3 314.8,689.3 315.5,689.2 316.2,689.2 317,689.3 317.7,689.3 318.4,689.4 319.1,689.5 319.9,689.7 320.6,689.9 321.3,690.1 322.1,690.3 322.8,690.6 323.5,690.9 324.2,691.3 325,691.7 325.7,692.1 326.4,692.6 327.1,693.2 327.9,693.7 328.6,694.3 329.3,695 330,695.7 330.8,696.5 331.5,697.3 332.2,698.1 333,699 333.7,700 334.4,701 335.1,702 335.9,703.1 336.6,704.2 337.3,705.4 338,706.6 338.8,707.9 339.5,709.2 340.2,710.5 340.9,711.9 341.7,713.3 342.4,714.7 343.1,716.1 343.9,717.5 344.6,718.9 345.3,720.4 346,721.8 346.8,723.2 347.5,724.5 348.2,725.9 348.9,727.1 349.7,728.4 350.4,729.6 351.1,730.8 351.8,731.9 352.6,733 353.3,734.1 354,735.1 354.8,736.1 355.5,737.1 356.2,738.1 356.9,739.1 357.7,740.1 358.4,741.1 359.1,742.1 359.8,743.1 360.6,744.1 361.3,745.2 362,746.3 362.7,747.4 363.5,748.5 364.2,749.7 364.9,750.9 365.7,752.1 366.4,753.4 367.1,754.8 367.8,756.1 368.6,757.6 369.3,759 370,760.5 370.7,762.1 371.5,763.7 372.2,765.3 372.9,767 373.6,768.8 374.4,770.6 375.1,772.5 375.8,774.4 376.6,776.4 377.3,778.5 378,780.6 378.7,782.8 379.5,785 380.2,787.4 380.9,789.8 381.6,792.2 382.4,794.8 383.1,797.4 383.8,800.1 384.5,802.9 385.3,805.8 386,808.8" fill="none" stroke="#5ca845" stroke-width="1.2"/>
<line x1="230.3" y1="726.6" x2="232.5" y2="726.6" stroke="#666" stroke-width="0.7"/><line x1="231.4" y1="725.6" x2="231.4" y2="727.6" stroke="#666" stroke-width="0.7"/>
<circle cx="231.4" cy="726.6" r="0.8" fill="#666"/>
<line x1="232.4" y1="724.9" x2="234.6" y2="724.9" stroke="#666" stroke-width="0.7"/><line x1="233.5" y1="723.9" x2="233.5" y2="725.9" stroke="#666" stroke-width="0.7"/>
<circle cx="233.5" cy="724.9" r="0.8" fill="#666"/>
<line x1="234.6" y1="725.9" x2="236.8" y2="725.9" stroke="#666" stroke-width="0.7"/><line x1="235.7" y1="724.9" x2="235.7" y2="726.9" stroke="#666" stroke-width="0.7"/>
<circle cx="235.7" cy="725.9" r="0.8" fill="#666"/>
<line x1="236.7" y1="726" x2="238.9" y2="726" stroke="#666" stroke-width="0.7"/><line x1="237.8" y1="725" x2="237.8" y2="727" stroke="#666" stroke-width="0.7"/>
<circle cx="237.8" cy="726" r="0.8" fill="#666"/>
<line x1="238.8" y1="724" x2="241" y2="724" stroke="#666" stroke-width="0.7"/><line x1="239.9" y1="723" x2="239.9" y2="725" stroke="#666" stroke-width="0.7"/>
<circle cx="239.9" cy="724" r="0.8" fill="#666"/>
<line x1="241" y1="723.1" x2="243.2" y2="723.1" stroke="#666" stroke-width="0.7"/><line x1="242.1" y1="722.1" x2="242.1" y2="724.1" stroke="#666" stroke-width="0.7"/>
<circle cx="242.1" cy="723.1" r="0.8" fill="#666"/>
<line x1="243.1" y1="722.6" x2="245.3" y2="722.6" stroke="#666" stroke-width="0.7"/><line x1="244.2" y1="721.6" x2="244.2" y2="723.6" stroke="#666" stroke-width="0.7"/>
<circle cx="244.2" cy="722.6" r="0.8" fill="#666"/>
<line x1="245.3" y1="721.8" x2="247.5" y2="721.8" stroke="#666" stroke-width="0.7"/><line x1="246.4" y1="720.8" x2="246.4" y2="722.8" stroke="#666" stroke-width="0.7"/>
<circle cx="246.4" cy="721.8" r="0.8" fill="#666"/>
<line x1="247.4" y1="721.5" x2="249.6" y2="721.5" stroke="#666" stroke-width="0.7"/><line x1="248.5" y1="720.5" x2="248.5" y2="722.5" stroke="#666" stroke-width="0.7"/>
<circle cx="248.5" cy="721.5" r="0.8" fill="#666"/>
<line x1="249.5" y1="721" x2="251.7" y2="721" stroke="#666" stroke-width="0.7"/><line x1="250.6" y1="720" x2="250.6" y2="722" stroke="#666" stroke-width="0.7"/>
<circle cx="250.6" cy="721" r="0.8" fill="#666"/>
<line x1="251.7" y1="720.3" x2="253.9" y2="720.3" stroke="#666" stroke-width="0.7"/><line x1="252.8" y1="719.3" x2="252.8" y2="721.3" stroke="#666" stroke-width="0.7"/>
<circle cx="252.8" cy="720.3" r="0.8" fill="#666"/>
<line x1="253.8" y1="719.1" x2="256" y2="719.1" stroke="#666" stroke-width="0.7"/><line x1="254.9" y1="718.1" x2="254.9" y2="720.1" stroke="#666" stroke-width="0.7"/>
<circle cx="254.9" cy="719.1" r="0.8" fill="#666"/>
<line x1="255.9" y1="718.3" x2="258.1" y2="718.3" stroke="#666" stroke-width="0.7"/><line x1="257" y1="717.3" x2="257" y2="719.3" stroke="#666" stroke-width="0.7"/>
<circle cx="257" cy="718.3" r="0.8" fill="#666"/>
<line x1="258.1" y1="716.4" x2="260.3" y2="716.4" stroke="#666" stroke-width="0.7"/><line x1="259.2" y1="715.4" x2="259.2" y2="717.4" stroke="#666" stroke-width="0.7"/>
<circle cx="259.2" cy="716.4" r="0.8" fill="#666"/>
<line x1="260.2" y1="715.6" x2="262.4" y2="715.6" stroke="#666" stroke-width="0.7"/><line x1="261.3" y1="714.6" x2="261.3" y2="716.6" stroke="#666" stroke-width="0.7"/>
<circle cx="261.3" cy="715.6" r="0.8" fill="#666"/>
<line x1="262.3" y1="715.8" x2="264.5" y2="715.8" stroke="#666" stroke-width="0.7"/><line x1="263.4" y1="714.8" x2="263.4" y2="716.8" stroke="#666" stroke-width="0.7"/>
<circle cx="263.4" cy="715.8" r="0.8" fill="#666"/>
<line x1="264.5" y1="713.4" x2="266.7" y2="713.4" stroke="#666" stroke-width="0.7"/><line x1="265.6" y1="712.4" x2="265.6" y2="714.4" stroke="#666" stroke-width="0.7"/>
<circle cx="265.6" cy="713.4" r="0.8" fill="#666"/>
<line x1="266.6" y1="712.7" x2="268.8" y2="712.7" stroke="#666" stroke-width="0.7"/><line x1="267.7" y1="711.7" x2="267.7" y2="713.7" stroke="#666" stroke-width="0.7"/>
<circle cx="267.7" cy="712.7" r="0.8" fill="#666"/>
<line x1="268.7" y1="710.7" x2="270.9" y2="710.7" stroke="#666" stroke-width="0.7"/><line x1="269.8" y1="709.7" x2="269.8" y2="711.7" stroke="#666" stroke-width="0.7"/>
<circle cx="269.8" cy="710.7" r="0.8" fill="#666"/>
<line x1="270.9" y1="709.2" x2="273.1" y2="709.2" stroke="#666" stroke-width="0.7"/><line x1="272" y1="708.2" x2="272" y2="710.2" stroke="#666" stroke-width="0.7"/>
<circle cx="272" cy="709.2" r="0.8" fill="#666"/>
<line x1="273" y1="708.5" x2="275.2" y2="708.5" stroke="#666" stroke-width="0.7"/><line x1="274.1" y1="707.5" x2="274.1" y2="709.5" stroke="#666" stroke-width="0.7"/>
<circle cx="274.1" cy="708.5" r="0.8" fill="#666"/>
<line x1="275.2" y1="708.8" x2="277.4" y2="708.8" stroke="#666" stroke-width="0.7"/><line x1="276.3" y1="707.8" x2="276.3" y2="709.8" stroke="#666" stroke-width="0.7"/>
<circle cx="276.3" cy="708.8" r="0.8" fill="#666"/>
<line x1="277.3" y1="705.8" x2="279.5" y2="705.8" stroke="#666" stroke-width="0.7"/><line x1="278.4" y1="704.8" x2="278.4" y2="706.8" stroke="#666" stroke-width="0.7"/>
<circle cx="278.4" cy="705.8" r="0.8" fill="#666"/>
<line x1="279.4" y1="705.9" x2="281.6" y2="705.9" stroke="#666" stroke-width="0.7"/><line x1="280.5" y1="704.9" x2="280.5" y2="706.9" stroke="#666" stroke-width="0.7"/>
<circle cx="280.5" cy="705.9" r="0.8" fill="#666"/>
<line x1="281.6" y1="702.4" x2="283.8" y2="702.4" stroke="#666" stroke-width="0.7"/><line x1="282.7" y1="701.4" x2="282.7" y2="703.4" stroke="#666" stroke-width="0.7"/>
<circle cx="282.7" cy="702.4" r="0.8" fill="#666"/>
<line x1="283.7" y1="702.5" x2="285.9" y2="702.5" stroke="#666" stroke-width="0.7"/><line x1="284.8" y1="701.5" x2="284.8" y2="703.5" stroke="#666" stroke-width="0.7"/>
<circle cx="284.8" cy="702.5" r="0.8" fill="#666"/>
<line x1="285.8" y1="700.8" x2="288" y2="700.8" stroke="#666" stroke-width="0.7"/><line x1="286.9" y1="699.8" x2="286.9" y2="701.8" stroke="#666" stroke-width="0.7"/>
<circle cx="286.9" cy="700.8" r="0.8" fill="#666"/>
<line x1="288" y1="698" x2="290.2" y2="698" stroke="#666" stroke-width="0.7"/><line x1="289.1" y1="697" x2="289.1" y2="699" stroke="#666" stroke-width="0.7"/>
<circle cx="289.1" cy="698" r="0.8" fill="#666"/>
<line x1="290.1" y1="699.1" x2="292.3" y2="699.1" stroke="#666" stroke-width="0.7"/><line x1="291.2" y1="698.1" x2="291.2" y2="700.1" stroke="#666" stroke-width="0.7"/>
<circle cx="291.2" cy="699.1" r="0.8" fill="#666"/>
<line x1="292.2" y1="696.5" x2="294.4" y2="696.5" stroke="#666" stroke-width="0.7"/><line x1="293.3" y1="695.5" x2="293.3" y2="697.5" stroke="#666" stroke-width="0.7"/>
<circle cx="293.3" cy="696.5" r="0.8" fill="#666"/>
<line x1="294.4" y1="696" x2="296.6" y2="696" stroke="#666" stroke-width="0.7"/><line x1="295.5" y1="695" x2="295.5" y2="697" stroke="#666" stroke-width="0.7"/>
<circle cx="295.5" cy="696" r="0.8" fill="#666"/>
<line x1="296.5" y1="694.3" x2="298.7" y2="694.3" stroke="#666" stroke-width="0.7"/><line x1="297.6" y1="693.3" x2="297.6" y2="695.3" stroke="#666" stroke-width="0.7"/>
<circle cx="297.6" cy="694.3" r="0.8" fill="#666"/>
<line x1="298.7" y1="693.4" x2="300.9" y2="693.4" stroke="#666" stroke-width="0.7"/><line x1="299.8" y1="692.4" x2="299.8" y2="694.4" stroke="#666" stroke-width="0.7"/>
<circle cx="299.8" cy="693.4" r="0.8" fill="#666"/>
<line x1="300.8" y1="691.2" x2="303" y2="691.2" stroke="#666" stroke-width="0.7"/><line x1="301.9" y1="690.2" x2="301.9" y2="692.2" stroke="#666" stroke-width="0.7"/>
<circle cx="301.9" cy="691.2" r="0.8" fill="#666"/>
<line x1="302.9" y1="690.9" x2="305.1" y2="690.9" stroke="#666" stroke-width="0.7"/><line x1="304" y1="689.9" x2="304" y2="691.9" stroke="#666" stroke-width="0.7"/>
<circle cx="304" cy="690.9" r="0.8" fill="#666"/>
<line x1="305.1" y1="689.6" x2="307.3" y2="689.6" stroke="#666" stroke-width="0.7"/><line x1="306.2" y1="688.6" x2="306.2" y2="690.6" stroke="#666" stroke-width="0.7"/>
<circle cx="306.2" cy="689.6" r="0.8" fill="#666"/>
<line x1="307.2" y1="688.6" x2="309.4" y2="688.6" stroke="#666" stroke-width="0.7"/><line x1="308.3" y1="687.6" x2="308.3" y2="689.6" stroke="#666" stroke-width="0.7"/>
<circle cx="308.3" cy="688.6" r="0.8" fill="#666"/>
<line x1="309.3" y1="689.7" x2="311.5" y2="689.7" stroke="#666" stroke-width="0.7"/><line x1="310.4" y1="688.7" x2="310.4" y2="690.7" stroke="#666" stroke-width="0.7"/>
<circle cx="310.4" cy="689.7" r="0.8" fill="#666"/>
<line x1="311.5" y1="687.1" x2="313.7" y2="687.1" stroke="#666" stroke-width="0.7"/><line x1="312.6" y1="686.1" x2="312.6" y2="688.1" stroke="#666" stroke-width="0.7"/>
<circle cx="312.6" cy="687.1" r="0.8" fill="#666"/>
<line x1="313.6" y1="688" x2="315.8" y2="688" stroke="#666" stroke-width="0.7"/><line x1="314.7" y1="687" x2="314.7" y2="689" stroke="#666" stroke-width="0.7"/>
<circle cx="314.7" cy="688" r="0.8" fill="#666"/>
<line x1="315.7" y1="689" x2="317.9" y2="689" stroke="#666" stroke-width="0.7"/><line x1="316.8" y1="688" x2="316.8" y2="690" stroke="#666" stroke-width="0.7"/>
<circle cx="316.8" cy="689" r="0.8" fill="#666"/>
<line x1="317.9" y1="688.5" x2="320.1" y2="688.5" stroke="#666" stroke-width="0.7"/><line x1="319" y1="687.5" x2="319" y2="689.5" stroke="#666" stroke-width="0.7"/>
<circle cx="319" cy="688.5" r="0.8" fill="#666"/>
<line x1="320" y1="688" x2="322.2" y2="688" stroke="#666" stroke-width="0.7"/><line x1="321.1" y1="687" x2="321.1" y2="689" stroke="#666" stroke-width="0.7"/>
<circle cx="321.1" cy="688" r="0.8" fill="#666"/>
<line x1="322.2" y1="688.7" x2="324.4" y2="688.7" stroke="#666" stroke-width="0.7"/><line x1="323.3" y1="687.7" x2="323.3" y2="689.7" stroke="#666" stroke-width="0.7"/>
<circle cx="323.3" cy="688.7" r="0.8" fill="#666"/>
<line x1="324.3" y1="691" x2="326.5" y2="691" stroke="#666" stroke-width="0.7"/><line x1="325.4" y1="690" x2="325.4" y2="692" stroke="#666" stroke-width="0.7"/>
<circle cx="325.4" cy="691" r="0.8" fill="#666"/>
<line x1="326.4" y1="691.9" x2="328.6" y2="691.9" stroke="#666" stroke-width="0.7"/><line x1="327.5" y1="690.9" x2="327.5" y2="692.9" stroke="#666" stroke-width="0.7"/>
<circle cx="327.5" cy="691.9" r="0.8" fill="#666"/>
<line x1="328.6" y1="693.7" x2="330.8" y2="693.7" stroke="#666" stroke-width="0.7"/><line x1="329.7" y1="692.7" x2="329.7" y2="694.7" stroke="#666" stroke-width="0.7"/>
<circle cx="329.7" cy="693.7" r="0.8" fill="#666"/>
<line x1="330.7" y1="695.4" x2="332.9" y2="695.4" stroke="#666" stroke-width="0.7"/><line x1="331.8" y1="694.4" x2="331.8" y2="696.4" stroke="#666" stroke-width="0.7"/>
<circle cx="331.8" cy="695.4" r="0.8" fill="#666"/>
<line x1="332.8" y1="698.9" x2="335" y2="698.9" stroke="#666" stroke-width="0.7"/><line x1="333.9" y1="697.9" x2="333.9" y2="699.9" stroke="#666" stroke-width="0.7"/>
<circle cx="333.9" cy="698.9" r="0.8" fill="#666"/>
<line x1="335" y1="701.3" x2="337.2" y2="701.3" stroke="#666" stroke-width="0.7"/><line x1="336.1" y1="700.3" x2="336.1" y2="702.3" stroke="#666" stroke-width="0.7"/>
<circle cx="336.1" cy="701.3" r="0.8" fill="#666"/>
<line x1="337.1" y1="706.1" x2="339.3" y2="706.1" stroke="#666" stroke-width="0.7"/><line x1="338.2" y1="705.1" x2="338.2" y2="707.1" stroke="#666" stroke-width="0.7"/>
<circle cx="338.2" cy="706.1" r="0.8" fill="#666"/>
<line x1="339.2" y1="709.8" x2="341.4" y2="709.8" stroke="#666" stroke-width="0.7"/><line x1="340.3" y1="708.8" x2="340.3" y2="710.8" stroke="#666" stroke-width="0.7"/>
<circle cx="340.3" cy="709.8" r="0.8" fill="#666"/>
<path d="M212.6 731.4h3M214.1 727.4v8" stroke="#666" stroke-width="0.8"/><circle cx="214.1" cy="731.4" r="0.8" fill="#666"/>
<path d="M218.9 726.3h2M219.9 725.3v2" stroke="#666" stroke-width="0.8"/><circle cx="219.9" cy="726.3" r="0.8" fill="#666"/>
<path d="M221.4 723.2h2M222.4 722.2v2" stroke="#666" stroke-width="0.8"/><circle cx="222.4" cy="723.2" r="0.8" fill="#666"/>
<path d="M224 724.9h2M225 723.9v2" stroke="#666" stroke-width="0.8"/><circle cx="225" cy="724.9" r="0.8" fill="#666"/>
<path d="M340.5 718.3h3M342 716.8v3" stroke="#666" stroke-width="0.8"/><circle cx="342" cy="718.3" r="0.8" fill="#666"/>
<path d="M339.7 726.7h9.2M344.3 725.2v3" stroke="#666" stroke-width="0.8"/><circle cx="344.3" cy="726.7" r="0.8" fill="#666"/>
<rect x="197.8" y="638.4" width="188.2" height="137" fill="none" stroke="#8a8a8a" stroke-width="1.1"/>
<text x="229.5" y="782.4" font-family="Liberation Sans" font-size="5" fill="#333" text-anchor="middle">10<tspan font-size="3.5" dy="-2.1">1</tspan></text>
<text x="287.4" y="782.4" font-family="Liberation Sans" font-size="5" fill="#333" text-anchor="middle">10<tspan font-size="3.5" dy="-2.1">2</tspan></text>
<text x="345.4" y="782.4" font-family="Liberation Sans" font-size="5" fill="#333" text-anchor="middle">10<tspan font-size="3.5" dy="-2.1">3</tspan></text>
<text x="194.8" y="777.4" font-family="Liberation Sans" font-size="5" fill="#333" text-anchor="end">10<tspan font-size="3.5" dy="-2.1">−1</tspan></text>
<line x1="195.3" y1="775.6" x2="197.8" y2="775.6" stroke="#8a8a8a" stroke-width="0.8"/>
<line x1="196.3" y1="765.3" x2="197.8" y2="765.3" stroke="#aaa" stroke-width="0.6"/>
<line x1="196.3" y1="759.3" x2="197.8" y2="759.3" stroke="#aaa" stroke-width="0.6"/>
<line x1="196.3" y1="755" x2="197.8" y2="755" stroke="#aaa" stroke-width="0.6"/>
<line x1="196.3" y1="751.7" x2="197.8" y2="751.7" stroke="#aaa" stroke-width="0.6"/>
<line x1="196.3" y1="749" x2="197.8" y2="749" stroke="#aaa" stroke-width="0.6"/>
<line x1="196.3" y1="746.7" x2="197.8" y2="746.7" stroke="#aaa" stroke-width="0.6"/>
<line x1="196.3" y1="744.7" x2="197.8" y2="744.7" stroke="#aaa" stroke-width="0.6"/>
<line x1="196.3" y1="743" x2="197.8" y2="743" stroke="#aaa" stroke-width="0.6"/>
<text x="194.8" y="743.2" font-family="Liberation Sans" font-size="5" fill="#333" text-anchor="end">10<tspan font-size="3.5" dy="-2.1">0</tspan></text>
<line x1="195.3" y1="741.4" x2="197.8" y2="741.4" stroke="#8a8a8a" stroke-width="0.8"/>
<line x1="196.3" y1="731.1" x2="197.8" y2="731.1" stroke="#aaa" stroke-width="0.6"/>
<line x1="196.3" y1="725.1" x2="197.8" y2="725.1" stroke="#aaa" stroke-width="0.6"/>
<line x1="196.3" y1="720.8" x2="197.8" y2="720.8" stroke="#aaa" stroke-width="0.6"/>
<line x1="196.3" y1="717.5" x2="197.8" y2="717.5" stroke="#aaa" stroke-width="0.6"/>
<line x1="196.3" y1="714.7" x2="197.8" y2="714.7" stroke="#aaa" stroke-width="0.6"/>
<line x1="196.3" y1="712.5" x2="197.8" y2="712.5" stroke="#aaa" stroke-width="0.6"/>
<line x1="196.3" y1="710.5" x2="197.8" y2="710.5" stroke="#aaa" stroke-width="0.6"/>
<line x1="196.3" y1="708.7" x2="197.8" y2="708.7" stroke="#aaa" stroke-width="0.6"/>
<text x="194.8" y="708.9" font-family="Liberation Sans" font-size="5" fill="#333" text-anchor="end">10<tspan font-size="3.5" dy="-2.1">1</tspan></text>
<line x1="195.3" y1="707.1" x2="197.8" y2="707.1" stroke="#8a8a8a" stroke-width="0.8"/>
<line x1="196.3" y1="696.8" x2="197.8" y2="696.8" stroke="#aaa" stroke-width="0.6"/>
<line x1="196.3" y1="690.8" x2="197.8" y2="690.8" stroke="#aaa" stroke-width="0.6"/>
<line x1="196.3" y1="686.5" x2="197.8" y2="686.5" stroke="#aaa" stroke-width="0.6"/>
<line x1="196.3" y1="683.2" x2="197.8" y2="683.2" stroke="#aaa" stroke-width="0.6"/>
<line x1="196.3" y1="680.5" x2="197.8" y2="680.5" stroke="#aaa" stroke-width="0.6"/>
<line x1="196.3" y1="678.2" x2="197.8" y2="678.2" stroke="#aaa" stroke-width="0.6"/>
<line x1="196.3" y1="676.2" x2="197.8" y2="676.2" stroke="#aaa" stroke-width="0.6"/>
<line x1="196.3" y1="674.5" x2="197.8" y2="674.5" stroke="#aaa" stroke-width="0.6"/>
<text x="194.8" y="674.7" font-family="Liberation Sans" font-size="5" fill="#333" text-anchor="end">10<tspan font-size="3.5" dy="-2.1">2</tspan></text>
<line x1="195.3" y1="672.9" x2="197.8" y2="672.9" stroke="#8a8a8a" stroke-width="0.8"/>
<line x1="196.3" y1="662.6" x2="197.8" y2="662.6" stroke="#aaa" stroke-width="0.6"/>
<line x1="196.3" y1="656.6" x2="197.8" y2="656.6" stroke="#aaa" stroke-width="0.6"/>
<line x1="196.3" y1="652.3" x2="197.8" y2="652.3" stroke="#aaa" stroke-width="0.6"/>
<line x1="196.3" y1="649" x2="197.8" y2="649" stroke="#aaa" stroke-width="0.6"/>
<line x1="196.3" y1="646.2" x2="197.8" y2="646.2" stroke="#aaa" stroke-width="0.6"/>
<line x1="196.3" y1="644" x2="197.8" y2="644" stroke="#aaa" stroke-width="0.6"/>
<line x1="196.3" y1="642" x2="197.8" y2="642" stroke="#aaa" stroke-width="0.6"/>
<line x1="196.3" y1="640.2" x2="197.8" y2="640.2" stroke="#aaa" stroke-width="0.6"/>
<text x="194.8" y="640.4" font-family="Liberation Sans" font-size="5" fill="#333" text-anchor="end">10<tspan font-size="3.5" dy="-2.1">3</tspan></text>
<line x1="195.3" y1="638.6" x2="197.8" y2="638.6" stroke="#8a8a8a" stroke-width="0.8"/>
<line x1="228.5" y1="775.4" x2="228.5" y2="777.9" stroke="#8a8a8a" stroke-width="0.8"/>
<line x1="286.4" y1="775.4" x2="286.4" y2="777.9" stroke="#8a8a8a" stroke-width="0.8"/>
<line x1="344.4" y1="775.4" x2="344.4" y2="777.9" stroke="#8a8a8a" stroke-width="0.8"/>
<rect x="329.8" y="641.1" width="53" height="31.2" rx="1" fill="#fff" stroke="#d0d0d0" stroke-width="0.7"/>
<line x1="331.8" y1="646.5" x2="340.3" y2="646.5" stroke="#3a6fb8" stroke-width="1.2" stroke-dasharray="2.5 1.5"/>
<text x="343.8" y="648.4" font-family="Liberation Sans" font-size="5.4" fill="#222">Cut_Powerlaw</text>
<line x1="331.8" y1="653.3" x2="340.3" y2="653.3" stroke="#ef8531" stroke-width="1.2" stroke-dasharray="2.5 1.5"/>
<text x="343.8" y="655.2" font-family="Liberation Sans" font-size="5.4" fill="#222">Blackbody</text>
<line x1="331.8" y1="660.1" x2="340.3" y2="660.1" stroke="#5ca845" stroke-width="1.2"/>
<text x="343.8" y="662" font-family="Liberation Sans" font-size="5.4" fill="#222">Model Total</text>
<line x1="333.6" y1="666.9" x2="338.6" y2="666.9" stroke="#444" stroke-width="0.8"/><line x1="336.1" y1="664.4" x2="336.1" y2="669.4" stroke="#444" stroke-width="0.8"/>
<text x="343.8" y="668.8" font-family="Liberation Sans" font-size="5.4" fill="#222">Data</text>
<text x="248.5" y="660.1" font-family="Liberation Serif" font-size="20" fill="#111" stroke="#111" stroke-width="0.3">UPE II</text>
<polyline clip-path="url(#clip4)" points="411.6,647.1 412.3,647.4 413,647.8 413.8,648.1 414.5,648.4 415.2,648.8 415.9,649.1 416.6,649.4 417.3,649.8 418.1,650.1 418.8,650.4 419.5,650.8 420.2,651.1 420.9,651.4 421.6,651.8 422.4,652.1 423.1,652.4 423.8,652.8 424.5,653.1 425.2,653.5 426,653.8 426.7,654.1 427.4,654.5 428.1,654.8 428.8,655.1 429.5,655.5 430.3,655.8 431,656.1 431.7,656.5 432.4,656.8 433.1,657.2 433.9,657.5 434.6,657.8 435.3,658.2 436,658.5 436.7,658.8 437.4,659.2 438.2,659.5 438.9,659.9 439.6,660.2 440.3,660.5 441,660.9 441.7,661.2 442.5,661.6 443.2,661.9 443.9,662.2 444.6,662.6 445.3,662.9 446.1,663.3 446.8,663.6 447.5,663.9 448.2,664.3 448.9,664.6 449.6,665 450.4,665.3 451.1,665.7 451.8,666 452.5,666.4 453.2,666.7 453.9,667 454.7,667.4 455.4,667.7 456.1,668.1 456.8,668.4 457.5,668.8 458.3,669.1 459,669.5 459.7,669.8 460.4,670.2 461.1,670.5 461.8,670.9 462.6,671.2 463.3,671.6 464,671.9 464.7,672.3 465.4,672.6 466.1,673 466.9,673.4 467.6,673.7 468.3,674.1 469,674.4 469.7,674.8 470.5,675.2 471.2,675.5 471.9,675.9 472.6,676.2 473.3,676.6 474,677 474.8,677.3 475.5,677.7 476.2,678.1 476.9,678.4 477.6,678.8 478.4,679.2 479.1,679.6 479.8,679.9 480.5,680.3 481.2,680.7 481.9,681.1 482.7,681.5 483.4,681.9 484.1,682.2 484.8,682.6 485.5,683 486.2,683.4 487,683.8 487.7,684.2 488.4,684.6 489.1,685 489.8,685.4 490.6,685.8 491.3,686.2 492,686.6 492.7,687 493.4,687.4 494.1,687.9 494.9,688.3 495.6,688.7 496.3,689.1 497,689.6 497.7,690 498.4,690.4 499.2,690.9 499.9,691.3 500.6,691.8 501.3,692.2 502,692.7 502.8,693.1 503.5,693.6 504.2,694.1 504.9,694.5 505.6,695 506.3,695.5 507.1,696 507.8,696.5 508.5,697 509.2,697.5 509.9,698 510.7,698.5 511.4,699 512.1,699.6 512.8,700.1 513.5,700.6 514.2,701.2 515,701.7 515.7,702.3 516.4,702.9 517.1,703.4 517.8,704 518.5,704.6 519.3,705.2 520,705.8 520.7,706.5 521.4,707.1 522.1,707.7 522.9,708.4 523.6,709.1 524.3,709.7 525,710.4 525.7,711.1 526.4,711.8 527.2,712.6 527.9,713.3 528.6,714.1 529.3,714.8 530,715.6 530.7,716.4 531.5,717.2 532.2,718 532.9,718.9 533.6,719.7 534.3,720.6 535.1,721.5 535.8,722.4 536.5,723.4 537.2,724.3 537.9,725.3 538.6,726.3 539.4,727.3 540.1,728.4 540.8,729.4 541.5,730.5 542.2,731.6 543,732.8 543.7,734 544.4,735.2 545.1,736.4 545.8,737.7 546.5,738.9 547.3,740.3 548,741.6 548.7,743 549.4,744.4 550.1,745.9 550.8,747.4 551.6,749 552.3,750.5 553,752.2 553.7,753.8 554.4,755.5 555.2,757.3 555.9,759.1 556.6,761 557.3,762.9 558,764.8 558.7,766.9 559.5,768.9 560.2,771.1 560.9,773.3 561.6,775.5 562.3,777.8 563,780.2 563.8,782.7 564.5,785.2 565.2,787.8 565.9,790.5 566.6,793.3 567.4,796.1 568.1,799 568.8,802 569.5,805.1 570.2,808.3 570.9,811.6 571.7,814.7" fill="none" stroke="#3a6fb8" stroke-width="1.2" stroke-dasharray="3 2"/>
<polyline clip-path="url(#clip4)" points="411.6,647.1 412.3,647.4 413,647.8 413.8,648.1 414.5,648.4 415.2,648.8 415.9,649.1 416.6,649.4 417.3,649.8 418.1,650.1 418.8,650.4 419.5,650.8 420.2,651.1 420.9,651.4 421.6,651.8 422.4,652.1 423.1,652.4 423.8,652.8 424.5,653.1 425.2,653.5 426,653.8 426.7,654.1 427.4,654.5 428.1,654.8 428.8,655.1 429.5,655.5 430.3,655.8 431,656.1 431.7,656.5 432.4,656.8 433.1,657.2 433.9,657.5 434.6,657.8 435.3,658.2 436,658.5 436.7,658.8 437.4,659.2 438.2,659.5 438.9,659.9 439.6,660.2 440.3,660.5 441,660.9 441.7,661.2 442.5,661.6 443.2,661.9 443.9,662.2 444.6,662.6 445.3,662.9 446.1,663.3 446.8,663.6 447.5,663.9 448.2,664.3 448.9,664.6 449.6,665 450.4,665.3 451.1,665.7 451.8,666 452.5,666.4 453.2,666.7 453.9,667 454.7,667.4 455.4,667.7 456.1,668.1 456.8,668.4 457.5,668.8 458.3,669.1 459,669.5 459.7,669.8 460.4,670.2 461.1,670.5 461.8,670.9 462.6,671.2 463.3,671.6 464,671.9 464.7,672.3 465.4,672.6 466.1,673 466.9,673.4 467.6,673.7 468.3,674.1 469,674.4 469.7,674.8 470.5,675.2 471.2,675.5 471.9,675.9 472.6,676.2 473.3,676.6 474,677 474.8,677.3 475.5,677.7 476.2,678.1 476.9,678.4 477.6,678.8 478.4,679.2 479.1,679.6 479.8,679.9 480.5,680.3 481.2,680.7 481.9,681.1 482.7,681.5 483.4,681.9 484.1,682.2 484.8,682.6 485.5,683 486.2,683.4 487,683.8 487.7,684.2 488.4,684.6 489.1,685 489.8,685.4 490.6,685.8 491.3,686.2 492,686.6 492.7,687 493.4,687.4 494.1,687.9 494.9,688.3 495.6,688.7 496.3,689.1 497,689.6 497.7,690 498.4,690.4 499.2,690.9 499.9,691.3 500.6,691.8 501.3,692.2 502,692.7 502.8,693.1 503.5,693.6 504.2,694.1 504.9,694.5 505.6,695 506.3,695.5 507.1,696 507.8,696.5 508.5,697 509.2,697.5 509.9,698 510.7,698.5 511.4,699 512.1,699.6 512.8,700.1 513.5,700.6 514.2,701.2 515,701.7 515.7,702.3 516.4,702.9 517.1,703.4 517.8,704 518.5,704.6 519.3,705.2 520,705.8 520.7,706.5 521.4,707.1 522.1,707.7 522.9,708.4 523.6,709.1 524.3,709.7 525,710.4 525.7,711.1 526.4,711.8 527.2,712.6 527.9,713.3 528.6,714.1 529.3,714.8 530,715.6 530.7,716.4 531.5,717.2 532.2,718 532.9,718.9 533.6,719.7 534.3,720.6 535.1,721.5 535.8,722.4 536.5,723.4 537.2,724.3 537.9,725.3 538.6,726.3 539.4,727.3 540.1,728.4 540.8,729.4 541.5,730.5 542.2,731.6 543,732.8 543.7,734 544.4,735.2 545.1,736.4 545.8,737.7 546.5,738.9 547.3,740.3 548,741.6 548.7,743 549.4,744.4 550.1,745.9 550.8,747.4 551.6,749 552.3,750.5 553,752.2 553.7,753.8 554.4,755.5 555.2,757.3 555.9,759.1 556.6,761 557.3,762.9 558,764.8 558.7,766.9 559.5,768.9 560.2,771.1 560.9,773.3 561.6,775.5 562.3,777.8 563,780.2 563.8,782.7 564.5,785.2 565.2,787.8 565.9,790.5 566.6,793.3 567.4,796.1 568.1,799 568.8,802 569.5,805.1 570.2,808.3 570.9,811.6 571.7,814.7" fill="none" stroke="#cf7f35" stroke-width="1.4"/>
<line x1="452.5" y1="668.9" x2="455.5" y2="668.9" stroke="#555" stroke-width="0.7"/><line x1="454" y1="667.7" x2="454" y2="670.1" stroke="#555" stroke-width="0.7"/>
<line x1="455.9" y1="669" x2="458.9" y2="669" stroke="#555" stroke-width="0.7"/><line x1="457.4" y1="667.8" x2="457.4" y2="670.2" stroke="#555" stroke-width="0.7"/>
<line x1="459.2" y1="669.5" x2="462.2" y2="669.5" stroke="#555" stroke-width="0.7"/><line x1="460.7" y1="668.3" x2="460.7" y2="670.7" stroke="#555" stroke-width="0.7"/>
<line x1="462.6" y1="672.2" x2="465.6" y2="672.2" stroke="#555" stroke-width="0.7"/><line x1="464.1" y1="671" x2="464.1" y2="673.4" stroke="#555" stroke-width="0.7"/>
<line x1="466" y1="673.5" x2="469" y2="673.5" stroke="#555" stroke-width="0.7"/><line x1="467.5" y1="672.3" x2="467.5" y2="674.7" stroke="#555" stroke-width="0.7"/>
<line x1="469.3" y1="676.9" x2="472.3" y2="676.9" stroke="#555" stroke-width="0.7"/><line x1="470.8" y1="675.7" x2="470.8" y2="678.1" stroke="#555" stroke-width="0.7"/>
<line x1="472.7" y1="677.3" x2="475.7" y2="677.3" stroke="#555" stroke-width="0.7"/><line x1="474.2" y1="676.1" x2="474.2" y2="678.5" stroke="#555" stroke-width="0.7"/>
<line x1="476.1" y1="679.2" x2="479.1" y2="679.2" stroke="#555" stroke-width="0.7"/><line x1="477.6" y1="678" x2="477.6" y2="680.4" stroke="#555" stroke-width="0.7"/>
<line x1="479.4" y1="679.6" x2="482.4" y2="679.6" stroke="#555" stroke-width="0.7"/><line x1="480.9" y1="678.4" x2="480.9" y2="680.8" stroke="#555" stroke-width="0.7"/>
<line x1="482.8" y1="682.2" x2="485.8" y2="682.2" stroke="#555" stroke-width="0.7"/><line x1="484.3" y1="681" x2="484.3" y2="683.4" stroke="#555" stroke-width="0.7"/>
<line x1="486.1" y1="684.2" x2="489.1" y2="684.2" stroke="#555" stroke-width="0.7"/><line x1="487.6" y1="683" x2="487.6" y2="685.4" stroke="#555" stroke-width="0.7"/>
<line x1="489.5" y1="686.8" x2="492.5" y2="686.8" stroke="#555" stroke-width="0.7"/><line x1="491" y1="685.6" x2="491" y2="688" stroke="#555" stroke-width="0.7"/>
<line x1="492.9" y1="688.9" x2="495.9" y2="688.9" stroke="#555" stroke-width="0.7"/><line x1="494.4" y1="687.7" x2="494.4" y2="690.1" stroke="#555" stroke-width="0.7"/>
<line x1="496.2" y1="690" x2="499.2" y2="690" stroke="#555" stroke-width="0.7"/><line x1="497.7" y1="688.8" x2="497.7" y2="691.2" stroke="#555" stroke-width="0.7"/>
<line x1="499.6" y1="690.7" x2="502.6" y2="690.7" stroke="#555" stroke-width="0.7"/><line x1="501.1" y1="689.5" x2="501.1" y2="691.9" stroke="#555" stroke-width="0.7"/>
<line x1="503" y1="696.3" x2="506" y2="696.3" stroke="#555" stroke-width="0.7"/><line x1="504.5" y1="695.1" x2="504.5" y2="697.5" stroke="#555" stroke-width="0.7"/>
<line x1="506.3" y1="699.5" x2="509.3" y2="699.5" stroke="#555" stroke-width="0.7"/><line x1="507.8" y1="698.3" x2="507.8" y2="700.7" stroke="#555" stroke-width="0.7"/>
<line x1="509.7" y1="696.8" x2="512.7" y2="696.8" stroke="#555" stroke-width="0.7"/><line x1="511.2" y1="695.6" x2="511.2" y2="698" stroke="#555" stroke-width="0.7"/>
<line x1="513" y1="699.7" x2="516" y2="699.7" stroke="#555" stroke-width="0.7"/><line x1="514.5" y1="698.5" x2="514.5" y2="700.9" stroke="#555" stroke-width="0.7"/>
<line x1="516.4" y1="703.4" x2="519.4" y2="703.4" stroke="#555" stroke-width="0.7"/><line x1="517.9" y1="702.2" x2="517.9" y2="704.6" stroke="#555" stroke-width="0.7"/>
<line x1="519.8" y1="706.6" x2="522.8" y2="706.6" stroke="#555" stroke-width="0.7"/><line x1="521.3" y1="705.4" x2="521.3" y2="707.8" stroke="#555" stroke-width="0.7"/>
<line x1="523.1" y1="710.5" x2="526.1" y2="710.5" stroke="#555" stroke-width="0.7"/><line x1="524.6" y1="709.3" x2="524.6" y2="711.7" stroke="#555" stroke-width="0.7"/>
<line x1="526.5" y1="713.8" x2="529.5" y2="713.8" stroke="#555" stroke-width="0.7"/><line x1="528" y1="712.6" x2="528" y2="715" stroke="#555" stroke-width="0.7"/>
<line x1="529.9" y1="718.3" x2="532.9" y2="718.3" stroke="#555" stroke-width="0.7"/><line x1="531.4" y1="717.1" x2="531.4" y2="719.5" stroke="#555" stroke-width="0.7"/>
<line x1="448.5" y1="673" x2="451.5" y2="673" stroke="#555" stroke-width="0.7"/><line x1="450" y1="669" x2="450" y2="677" stroke="#555" stroke-width="0.7"/>
<line x1="532.7" y1="719.6" x2="536.7" y2="719.6" stroke="#555" stroke-width="0.8"/><line x1="534.7" y1="716.6" x2="534.7" y2="722.6" stroke="#555" stroke-width="0.8"/>
<line x1="536.5" y1="718" x2="540.5" y2="718" stroke="#555" stroke-width="0.8"/><line x1="538.5" y1="715" x2="538.5" y2="721" stroke="#555" stroke-width="0.8"/>
<line x1="540.4" y1="728.8" x2="544.4" y2="728.8" stroke="#555" stroke-width="0.8"/><line x1="542.4" y1="718" x2="542.4" y2="741" stroke="#555" stroke-width="0.8"/>
<line x1="543.4" y1="733.4" x2="547.4" y2="733.4" stroke="#555" stroke-width="0.8"/><line x1="545.4" y1="722.6" x2="545.4" y2="774.7" stroke="#555" stroke-width="0.8"/>
<line x1="548" y1="724.2" x2="552" y2="724.2" stroke="#555" stroke-width="0.8"/><line x1="550" y1="719.6" x2="550" y2="739.5" stroke="#555" stroke-width="0.8"/>
<line x1="551.1" y1="760.9" x2="555.1" y2="760.9" stroke="#555" stroke-width="0.8"/><line x1="553.1" y1="754.9" x2="553.1" y2="774.7" stroke="#555" stroke-width="0.8"/>
<line x1="555.7" y1="741" x2="559.7" y2="741" stroke="#555" stroke-width="0.8"/><line x1="557.7" y1="731.8" x2="557.7" y2="774.7" stroke="#555" stroke-width="0.8"/>
<line x1="527" y1="715" x2="531" y2="715" stroke="#555" stroke-width="0.8"/><line x1="529" y1="713" x2="529" y2="717" stroke="#555" stroke-width="0.8"/>
<rect x="411.6" y="639" width="185.9" height="135.7" fill="none" stroke="#8a8a8a" stroke-width="1.1"/>
<text x="412.6" y="781.7" font-family="Liberation Sans" font-size="5" fill="#333" text-anchor="middle">10<tspan font-size="3.5" dy="-2.1">0</tspan></text>
<text x="462.5" y="781.7" font-family="Liberation Sans" font-size="5" fill="#333" text-anchor="middle">10<tspan font-size="3.5" dy="-2.1">1</tspan></text>
<text x="512.4" y="781.7" font-family="Liberation Sans" font-size="5" fill="#333" text-anchor="middle">10<tspan font-size="3.5" dy="-2.1">2</tspan></text>
<text x="562.3" y="781.7" font-family="Liberation Sans" font-size="5" fill="#333" text-anchor="middle">10<tspan font-size="3.5" dy="-2.1">3</tspan></text>
<text x="407.6" y="776.5" font-family="Liberation Sans" font-size="5" fill="#333" text-anchor="end">10<tspan font-size="3.5" dy="-2.1">−3</tspan></text>
<line x1="409.1" y1="774.7" x2="411.6" y2="774.7" stroke="#8a8a8a" stroke-width="0.8"/>
<line x1="410.1" y1="764.5" x2="411.6" y2="764.5" stroke="#aaa" stroke-width="0.6"/>
<line x1="410.1" y1="758.5" x2="411.6" y2="758.5" stroke="#aaa" stroke-width="0.6"/>
<line x1="410.1" y1="754.3" x2="411.6" y2="754.3" stroke="#aaa" stroke-width="0.6"/>
<line x1="410.1" y1="751" x2="411.6" y2="751" stroke="#aaa" stroke-width="0.6"/>
<line x1="410.1" y1="748.3" x2="411.6" y2="748.3" stroke="#aaa" stroke-width="0.6"/>
<line x1="410.1" y1="746.1" x2="411.6" y2="746.1" stroke="#aaa" stroke-width="0.6"/>
<line x1="410.1" y1="744.1" x2="411.6" y2="744.1" stroke="#aaa" stroke-width="0.6"/>
<line x1="410.1" y1="742.4" x2="411.6" y2="742.4" stroke="#aaa" stroke-width="0.6"/>
<text x="407.6" y="742.6" font-family="Liberation Sans" font-size="5" fill="#333" text-anchor="end">10<tspan font-size="3.5" dy="-2.1">−2</tspan></text>
<line x1="409.1" y1="740.8" x2="411.6" y2="740.8" stroke="#8a8a8a" stroke-width="0.8"/>
<line x1="410.1" y1="730.6" x2="411.6" y2="730.6" stroke="#aaa" stroke-width="0.6"/>
<line x1="410.1" y1="724.6" x2="411.6" y2="724.6" stroke="#aaa" stroke-width="0.6"/>
<line x1="410.1" y1="720.4" x2="411.6" y2="720.4" stroke="#aaa" stroke-width="0.6"/>
<line x1="410.1" y1="717.1" x2="411.6" y2="717.1" stroke="#aaa" stroke-width="0.6"/>
<line x1="410.1" y1="714.4" x2="411.6" y2="714.4" stroke="#aaa" stroke-width="0.6"/>
<line x1="410.1" y1="712.2" x2="411.6" y2="712.2" stroke="#aaa" stroke-width="0.6"/>
<line x1="410.1" y1="710.2" x2="411.6" y2="710.2" stroke="#aaa" stroke-width="0.6"/>
<line x1="410.1" y1="708.5" x2="411.6" y2="708.5" stroke="#aaa" stroke-width="0.6"/>
<text x="407.6" y="708.7" font-family="Liberation Sans" font-size="5" fill="#333" text-anchor="end">10<tspan font-size="3.5" dy="-2.1">−1</tspan></text>
<line x1="409.1" y1="706.9" x2="411.6" y2="706.9" stroke="#8a8a8a" stroke-width="0.8"/>
<line x1="410.1" y1="696.7" x2="411.6" y2="696.7" stroke="#aaa" stroke-width="0.6"/>
<line x1="410.1" y1="690.7" x2="411.6" y2="690.7" stroke="#aaa" stroke-width="0.6"/>
<line x1="410.1" y1="686.5" x2="411.6" y2="686.5" stroke="#aaa" stroke-width="0.6"/>
<line x1="410.1" y1="683.2" x2="411.6" y2="683.2" stroke="#aaa" stroke-width="0.6"/>
<line x1="410.1" y1="680.5" x2="411.6" y2="680.5" stroke="#aaa" stroke-width="0.6"/>
<line x1="410.1" y1="678.3" x2="411.6" y2="678.3" stroke="#aaa" stroke-width="0.6"/>
<line x1="410.1" y1="676.3" x2="411.6" y2="676.3" stroke="#aaa" stroke-width="0.6"/>
<line x1="410.1" y1="674.6" x2="411.6" y2="674.6" stroke="#aaa" stroke-width="0.6"/>
<text x="407.6" y="674.8" font-family="Liberation Sans" font-size="5" fill="#333" text-anchor="end">10<tspan font-size="3.5" dy="-2.1">0</tspan></text>
<line x1="409.1" y1="673" x2="411.6" y2="673" stroke="#8a8a8a" stroke-width="0.8"/>
<line x1="410.1" y1="662.8" x2="411.6" y2="662.8" stroke="#aaa" stroke-width="0.6"/>
<line x1="410.1" y1="656.8" x2="411.6" y2="656.8" stroke="#aaa" stroke-width="0.6"/>
<line x1="410.1" y1="652.6" x2="411.6" y2="652.6" stroke="#aaa" stroke-width="0.6"/>
<line x1="410.1" y1="649.3" x2="411.6" y2="649.3" stroke="#aaa" stroke-width="0.6"/>
<line x1="410.1" y1="646.6" x2="411.6" y2="646.6" stroke="#aaa" stroke-width="0.6"/>
<line x1="410.1" y1="644.4" x2="411.6" y2="644.4" stroke="#aaa" stroke-width="0.6"/>
<line x1="410.1" y1="642.4" x2="411.6" y2="642.4" stroke="#aaa" stroke-width="0.6"/>
<line x1="410.1" y1="640.7" x2="411.6" y2="640.7" stroke="#aaa" stroke-width="0.6"/>
<text x="407.6" y="640.9" font-family="Liberation Sans" font-size="5" fill="#333" text-anchor="end">10<tspan font-size="3.5" dy="-2.1">1</tspan></text>
<line x1="409.1" y1="639.1" x2="411.6" y2="639.1" stroke="#8a8a8a" stroke-width="0.8"/>
<line x1="411.6" y1="774.7" x2="411.6" y2="777.2" stroke="#8a8a8a" stroke-width="0.8"/>
<line x1="461.5" y1="774.7" x2="461.5" y2="777.2" stroke="#8a8a8a" stroke-width="0.8"/>
<line x1="511.4" y1="774.7" x2="511.4" y2="777.2" stroke="#8a8a8a" stroke-width="0.8"/>
<line x1="561.3" y1="774.7" x2="561.3" y2="777.2" stroke="#8a8a8a" stroke-width="0.8"/>
<rect x="541.8" y="640.8" width="52" height="23.6" rx="1" fill="#fff" stroke="#d0d0d0" stroke-width="0.7"/>
<line x1="543.8" y1="646.1" x2="552.3" y2="646.1" stroke="#3a6fb8" stroke-width="1.2" stroke-dasharray="2.5 1.5"/>
<text x="555.8" y="648" font-family="Liberation Sans" font-size="5.4" fill="#222">Cut_Powerlaw</text>
<line x1="543.8" y1="652.6" x2="552.3" y2="652.6" stroke="#cf7f35" stroke-width="1.2"/>
<text x="555.8" y="654.5" font-family="Liberation Sans" font-size="5.4" fill="#222">Model Total</text>
<line x1="545.5" y1="659.1" x2="550.5" y2="659.1" stroke="#444" stroke-width="0.8"/><line x1="548" y1="656.6" x2="548" y2="661.6" stroke="#444" stroke-width="0.8"/>
<text x="555.8" y="661.1" font-family="Liberation Sans" font-size="5.4" fill="#222">Data</text>
<text x="463.3" y="661.5" font-family="Liberation Serif" font-size="20.7" fill="#111" stroke="#111" stroke-width="0.3">Cavity</text>
<text x="156.7" y="621.4" font-family="Liberation Sans" font-size="14.3" fill="#222" text-anchor="middle">keV</text>
<text x="379" y="621" font-family="Liberation Sans" font-size="14.3" fill="#222" text-anchor="middle">keV</text>
<text x="620.6" y="621.8" font-family="Liberation Sans" font-size="14.3" fill="#222" text-anchor="middle">keV</text>
<text x="287.4" y="797.3" font-family="Liberation Sans" font-size="14.3" fill="#222" text-anchor="middle">keV</text>
<text x="490.4" y="797.3" font-family="Liberation Sans" font-size="14.3" fill="#222" text-anchor="middle">keV</text>
<text transform="translate(27.3 523.5) rotate(-90)" font-family="Liberation Sans" font-size="13.5" fill="#222" text-anchor="middle">keV × [keV<tspan font-size="9" dy="-5">−1</tspan><tspan dy="5">S</tspan><tspan font-size="9" dy="-5">−1</tspan><tspan dy="5">cm</tspan><tspan font-size="9" dy="-5">−2</tspan><tspan dy="5">]</tspan></text>
<text transform="translate(170.5 708.4) rotate(-90)" font-family="Liberation Sans" font-size="14.5" fill="#222" text-anchor="middle">keV × [keV<tspan font-size="9" dy="-5">−1</tspan><tspan dy="5">S</tspan><tspan font-size="9" dy="-5">−1</tspan><tspan dy="5">cm</tspan><tspan font-size="9" dy="-5">−2</tspan><tspan dy="5">]</tspan></text>
</svg></body></html>
